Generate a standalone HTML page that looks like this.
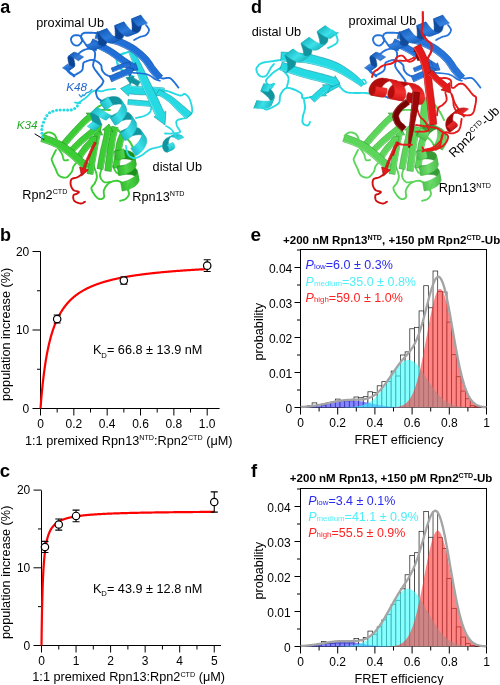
<!DOCTYPE html>
<html><head><meta charset="utf-8"><title>Figure</title>
<style>html,body{margin:0;padding:0;background:#fff;}svg{display:block;}text{font-family:"Liberation Sans", Arial, sans-serif;}</style>
</head><body>
<svg width="500" height="685" viewBox="0 0 500 685">
<rect width="500" height="685" fill="#fff"/>
<path d="M93.2,164.8 L93.5,165.7 L94.0,166.8 L94.5,168.2 L95.1,169.8 L95.7,171.3 L96.2,172.9 L96.6,174.3 L96.8,175.6 L96.8,176.7 L96.8,177.7 L96.6,178.6 L96.3,179.5 L96.0,180.4 L95.7,181.2 L95.3,182.0 L95.0,182.8 L94.6,183.5 L94.1,184.2 L93.5,184.9 L92.9,185.5 L92.3,186.1 L91.8,186.8 L91.5,187.5 L91.4,188.2 L91.5,189.0 L91.8,190.0 L92.2,190.9 L92.7,191.9 L93.3,192.9 L93.9,193.8 L94.5,194.7 L95.0,195.4 L95.5,196.1 L96.1,196.7 L96.6,197.3 L97.2,197.8 L97.8,198.2 L98.4,198.6 L98.9,198.8 L99.5,199.0 L100.1,199.1 L100.7,199.1 L101.4,199.0 L102.0,198.8 L102.6,198.5 L103.2,198.2 L103.7,197.7 L104.0,197.2 L104.2,196.6 L104.2,195.8 L104.1,194.9 L103.9,193.9 L103.8,192.9 L103.7,191.9 L103.8,190.9 L104.0,190.0 L104.4,189.1 L104.9,188.1 L105.5,187.1 L106.1,186.1 L106.9,185.1 L107.7,184.2 L108.5,183.4 L109.4,182.8 L110.4,182.3 L111.4,181.8 L112.6,181.4 L113.7,181.1 L114.9,180.9 L116.1,180.8 L117.2,180.8 L118.3,181.0 L119.3,181.3 L120.3,181.8 L121.3,182.4 L122.2,183.1 L123.1,183.9 L124.0,184.8 L124.8,185.6 L125.5,186.4 L126.2,187.2 L126.8,188.1 L127.4,189.0 L127.9,190.0 L128.4,191.0 L128.7,191.9 L128.9,192.8 L129.0,193.6 L128.9,194.4 L128.7,195.2 L128.3,195.9 L127.8,196.6 L127.3,197.3 L126.7,197.9 L126.1,198.5 L125.5,199.0 L124.9,199.4 L124.1,199.7 L123.3,200.0 L122.5,200.2 L121.7,200.4 L121.0,200.6 L120.4,200.7 L120.0,200.8" fill="none" stroke="#3ccc36" stroke-width="1.9" stroke-linecap="round" stroke-linejoin="round"/><path d="M102.0,168.0 L101.8,168.6 L101.5,169.5 L101.1,170.5 L100.8,171.6 L100.4,172.8 L100.1,174.0 L100.0,175.0 L100.0,176.0 L100.2,176.9 L100.5,177.8 L101.0,178.7 L101.5,179.5 L102.1,180.3 L102.7,181.0 L103.4,181.6 L104.0,182.0 L104.7,182.3 L105.5,182.4 L106.4,182.4 L107.2,182.4 L108.1,182.3 L108.9,182.1 L109.5,182.0 L110.0,182.0" fill="none" stroke="#3ccc36" stroke-width="1.8" stroke-linecap="round" stroke-linejoin="round"/><path d="M113.0,166.0 L113.2,166.5 L113.5,167.2 L113.9,168.0 L114.2,168.9 L114.7,169.8 L115.1,170.6 L115.6,171.4 L116.0,172.0 L116.5,172.5 L116.9,172.9 L117.4,173.2 L117.9,173.5 L118.5,173.7 L119.0,173.9 L119.5,174.0 L120.0,174.0 L120.5,173.9 L121.1,173.7 L121.7,173.5 L122.2,173.1 L122.8,172.8 L123.3,172.5 L123.7,172.2 L124.0,172.0" fill="none" stroke="#3ccc36" stroke-width="1.8" stroke-linecap="round" stroke-linejoin="round"/><polygon points="111.2,171.4 111.4,170.2 111.6,168.5 111.8,166.5 112.1,164.3 112.4,162.0 112.7,159.7 113.0,157.5 113.2,155.4 113.5,153.5 113.7,151.5 113.9,149.6 114.2,147.7 114.4,145.9 114.6,144.0 114.9,142.3 115.2,140.6 115.5,138.8 115.9,137.0 116.3,135.1 116.8,133.3 117.2,131.6 117.6,130.1 117.9,128.8 118.2,127.8 111.8,126.2 111.6,127.2 111.3,128.5 110.9,130.1 110.5,131.8 110.0,133.7 109.6,135.6 109.2,137.5 108.8,139.4 108.5,141.3 108.2,143.1 108.0,145.0 107.7,146.9 107.5,148.8 107.2,150.7 107.0,152.7 106.8,154.6 106.5,156.7 106.2,158.9 105.9,161.2 105.6,163.5 105.4,165.7 105.1,167.7 104.9,169.4 104.8,170.6" fill="#3ccc36" stroke="#1c8f1c" stroke-width="0.6" stroke-linejoin="round"/><polygon points="111.2,171.4 111.4,170.2 111.6,168.5 111.8,166.5 112.1,164.3 112.4,162.0 112.7,159.7 113.0,157.5 113.2,155.4 113.5,153.5 113.7,151.5 113.9,149.6 114.2,147.7 114.4,145.9 114.6,144.0 114.9,142.3 115.2,140.6 115.5,138.8 115.9,137.0 116.3,135.1 116.8,133.3 117.2,131.6 117.6,130.1 117.9,128.8 118.2,127.8 117.4,127.6 117.1,128.6 116.8,129.9 116.4,131.4 116.0,133.1 115.6,135.0 115.1,136.8 114.7,138.7 114.4,140.4 114.1,142.2 113.8,143.9 113.6,145.8 113.4,147.6 113.1,149.5 112.9,151.4 112.7,153.4 112.4,155.3 112.2,157.4 111.9,159.6 111.6,161.9 111.3,164.2 111.0,166.4 110.8,168.4 110.6,170.1 110.4,171.3" fill="#67d762" stroke="none"/><polygon points="119.0,168.4 119.1,167.3 119.3,165.9 119.6,164.1 119.8,162.2 120.1,160.1 120.4,158.1 120.7,156.2 121.0,154.4 121.2,152.8 121.4,151.2 121.6,149.7 121.8,148.2 122.1,146.8 122.3,145.4 122.6,144.1 122.9,142.8 123.3,141.5 123.8,140.2 124.3,138.8 124.9,137.4 125.4,136.1 126.0,135.0 126.4,134.0 126.8,133.2 121.2,130.8 120.9,131.6 120.5,132.5 120.0,133.7 119.4,135.1 118.8,136.5 118.1,138.1 117.6,139.6 117.1,141.2 116.7,142.7 116.4,144.2 116.1,145.8 115.9,147.3 115.7,148.9 115.5,150.4 115.3,152.0 115.0,153.6 114.8,155.3 114.5,157.3 114.2,159.3 113.9,161.3 113.6,163.3 113.4,165.0 113.2,166.5 113.0,167.6" fill="#3ccc36" stroke="#1c8f1c" stroke-width="0.6" stroke-linejoin="round"/><polygon points="119.0,168.4 119.1,167.3 119.3,165.9 119.6,164.1 119.8,162.2 120.1,160.1 120.4,158.1 120.7,156.2 121.0,154.4 121.2,152.8 121.4,151.2 121.6,149.7 121.8,148.2 122.1,146.8 122.3,145.4 122.6,144.1 122.9,142.8 123.3,141.5 123.8,140.2 124.3,138.8 124.9,137.4 125.4,136.1 126.0,135.0 126.4,134.0 126.8,133.2 126.1,132.9 125.7,133.7 125.3,134.7 124.8,135.8 124.2,137.1 123.6,138.5 123.1,139.9 122.6,141.3 122.2,142.6 121.8,143.9 121.6,145.2 121.3,146.6 121.1,148.1 120.9,149.6 120.7,151.1 120.5,152.7 120.2,154.3 120.0,156.1 119.7,158.0 119.4,160.0 119.1,162.1 118.8,164.0 118.6,165.7 118.4,167.2 118.2,168.3" fill="#67d762" stroke="none"/><polygon points="103.0,169.5 103.2,168.3 103.5,166.6 103.9,164.6 104.3,162.4 104.7,160.0 105.1,157.7 105.5,155.5 105.9,153.6 106.3,151.9 106.7,150.3 107.0,148.7 107.4,147.2 107.8,145.7 108.2,144.1 108.6,142.4 108.9,140.6 109.3,138.6 109.8,136.4 110.2,134.1 110.6,131.7 110.7,131.4 113.1,131.9 109.0,124.0 102.4,129.9 104.8,130.3 104.7,130.6 104.3,133.0 103.9,135.3 103.5,137.5 103.1,139.4 102.7,141.1 102.3,142.7 102.0,144.3 101.6,145.8 101.2,147.3 100.8,148.9 100.4,150.6 100.1,152.4 99.7,154.4 99.2,156.6 98.8,158.9 98.4,161.3 98.0,163.5 97.6,165.5 97.3,167.2 97.0,168.5" fill="#3ccc36" stroke="#1c8f1c" stroke-width="0.6" stroke-linejoin="round"/><polygon points="103.0,169.5 103.2,168.3 103.5,166.6 103.9,164.6 104.3,162.4 104.7,160.0 105.1,157.7 105.5,155.5 105.9,153.6 106.3,151.9 106.7,150.3 107.0,148.7 107.4,147.2 107.8,145.7 108.2,144.1 108.6,142.4 108.9,140.6 109.3,138.6 109.8,136.4 110.2,134.1 110.6,131.7 110.7,131.4 110.0,131.3 109.9,131.6 109.5,133.9 109.0,136.3 108.6,138.5 108.2,140.5 107.8,142.2 107.4,143.9 107.1,145.5 106.7,147.0 106.3,148.6 105.9,150.1 105.6,151.7 105.2,153.5 104.8,155.4 104.4,157.6 104.0,159.9 103.5,162.2 103.1,164.4 102.8,166.5 102.4,168.2 102.2,169.4" fill="#67d762" stroke="none"/><polygon points="93.0,174.5 93.2,173.1 93.5,171.2 93.9,169.0 94.3,166.5 94.7,163.9 95.1,161.3 95.6,158.8 96.0,156.5 96.3,154.4 96.7,152.3 97.1,150.3 97.4,148.2 97.8,146.3 98.2,144.3 98.6,142.4 98.9,140.6 99.3,138.8 99.7,136.9 100.2,135.0 100.3,134.5 102.6,135.1 99.0,127.0 92.1,132.6 94.5,133.1 94.3,133.7 93.9,135.6 93.5,137.5 93.1,139.4 92.7,141.3 92.3,143.2 91.9,145.1 91.6,147.1 91.2,149.2 90.8,151.3 90.4,153.4 90.0,155.5 89.6,157.8 89.2,160.3 88.8,162.9 88.4,165.5 87.9,168.0 87.6,170.2 87.3,172.1 87.0,173.5" fill="#3ccc36" stroke="#1c8f1c" stroke-width="0.6" stroke-linejoin="round"/><polygon points="93.0,174.5 93.2,173.1 93.5,171.2 93.9,169.0 94.3,166.5 94.7,163.9 95.1,161.3 95.6,158.8 96.0,156.5 96.3,154.4 96.7,152.3 97.1,150.3 97.4,148.2 97.8,146.3 98.2,144.3 98.6,142.4 98.9,140.6 99.3,138.8 99.7,136.9 100.2,135.0 100.3,134.5 99.6,134.3 99.4,134.8 99.0,136.7 98.6,138.6 98.2,140.5 97.8,142.3 97.5,144.2 97.1,146.1 96.7,148.1 96.3,150.1 96.0,152.2 95.6,154.3 95.2,156.4 94.8,158.7 94.4,161.2 94.0,163.8 93.5,166.4 93.1,168.8 92.8,171.1 92.5,173.0 92.2,174.4" fill="#67d762" stroke="none"/><defs><linearGradient id="hg1" gradientUnits="userSpaceOnUse" x1="134.3" y1="148.2" x2="113.7" y2="151.8"><stop offset="0" stop-color="#2eb12a"/><stop offset="0.55" stop-color="#4ed548"/><stop offset="1" stop-color="#2eb12a"/></linearGradient></defs><polygon points="116.1,159.9 116.2,159.8 116.4,159.7 116.8,159.5 117.4,159.4 118.1,159.2 118.9,159.1 119.8,159.0 120.9,158.9 122.0,158.9 123.2,158.8 124.5,158.9 125.8,159.0 127.0,159.1 128.3,159.3 129.6,159.6 130.7,159.9 131.9,160.3 132.9,160.7 133.8,161.2 134.6,161.8 135.2,162.4 135.7,163.1 136.0,163.8 136.2,164.5 134.6,155.7 134.5,154.9 134.1,154.2 133.6,153.6 133.0,152.9 132.2,152.4 131.3,151.9 130.3,151.4 129.2,151.0 128.0,150.7 126.8,150.4 125.5,150.2 124.2,150.1 122.9,150.0 121.7,150.0 120.4,150.0 119.3,150.0 118.3,150.1 117.3,150.2 116.5,150.4 115.8,150.5 115.3,150.7 114.9,150.8 114.6,151.0 114.5,151.1" fill="#1c8f1c" stroke="#1c8f1c" stroke-width="0.5" stroke-linejoin="round"/><polygon points="118.8,175.4 119.0,175.2 119.2,175.1 119.7,175.0 120.3,174.8 121.0,174.7 121.9,174.5 122.8,174.4 123.9,174.3 125.1,174.3 126.3,174.3 127.5,174.4 128.8,174.5 130.1,174.6 131.4,174.8 132.6,175.1 133.8,175.5 134.9,175.9 135.9,176.3 136.7,176.8 137.5,177.4 138.1,178.1 138.5,178.7 138.8,179.4 139.0,180.2 137.4,171.3 137.3,170.6 137.0,169.9 136.5,169.2 135.9,168.6 135.2,168.0 134.3,167.5 133.3,167.0 132.2,166.6 131.1,166.2 129.8,166.0 128.6,165.7 127.3,165.6 126.0,165.5 124.7,165.4 123.5,165.4 122.3,165.5 121.3,165.6 120.3,165.7 119.4,165.8 118.7,165.9 118.1,166.1 117.7,166.2 117.4,166.4 117.3,166.5" fill="#1c8f1c" stroke="#1c8f1c" stroke-width="0.5" stroke-linejoin="round"/><polygon points="125.3,157.6 124.2,158.2 123.0,158.6 121.9,159.0 120.8,159.3 119.8,159.6 118.9,159.8 118.1,160.0 117.4,160.0 116.8,160.1 116.4,160.1 116.2,160.0 116.1,159.9 114.5,151.1 114.6,151.2 114.9,151.2 115.3,151.2 115.8,151.2 116.5,151.1 117.3,150.9 118.2,150.7 119.2,150.5 120.3,150.1 121.4,149.7 122.6,149.3 123.8,148.8" fill="url(#hg1)" stroke="#2eb12a" stroke-width="0.5" stroke-linejoin="round"/><polygon points="136.2,164.5 136.2,165.3 136.1,166.1 135.8,166.9 135.3,167.7 134.7,168.5 134.0,169.2 133.2,170.0 132.2,170.7 131.2,171.4 130.1,172.1 128.9,172.7 127.8,173.2 126.6,173.7 125.4,174.2 124.3,174.6 123.2,174.9 122.3,175.1 121.4,175.3 120.6,175.4 120.0,175.5 119.4,175.5 119.1,175.5 118.9,175.5 118.8,175.4 117.3,166.5 117.3,166.6 117.5,166.7 117.9,166.7 118.4,166.7 119.0,166.6 119.8,166.4 120.7,166.3 121.7,166.0 122.7,165.7 123.9,165.3 125.0,164.9 126.2,164.4 127.4,163.8 128.5,163.2 129.6,162.6 130.6,161.9 131.6,161.1 132.4,160.4 133.2,159.6 133.8,158.8 134.2,158.0 134.5,157.2 134.7,156.4 134.6,155.7" fill="url(#hg1)" stroke="#2eb12a" stroke-width="0.5" stroke-linejoin="round"/><polygon points="139.0,180.2 138.9,181.0 138.7,181.7 138.4,182.5 137.9,183.3 137.3,184.1 136.5,184.9 135.6,185.7 134.7,186.4 133.6,187.1 132.5,187.7 131.3,188.3 130.2,188.8 129.0,189.3 127.8,189.7 126.7,190.1 125.7,190.4 124.7,190.6 123.9,190.8 123.1,190.9 122.5,191.0 122.1,191.0 120.5,182.1 121.0,182.1 121.6,182.1 122.3,181.9 123.2,181.8 124.1,181.5 125.2,181.2 126.3,180.9 127.4,180.5 128.6,180.0 129.8,179.4 130.9,178.8 132.0,178.2 133.1,177.5 134.1,176.8 134.9,176.0 135.7,175.3 136.3,174.5 136.8,173.7 137.2,172.9 137.4,172.1 137.4,171.3" fill="url(#hg1)" stroke="#2eb12a" stroke-width="0.5" stroke-linejoin="round"/><path d="M130.0,184.0 L128.0,190.0" fill="none" stroke="#3ccc36" stroke-width="2" stroke-linecap="round" stroke-linejoin="round"/><path d="M118.0,130.0 L118.5,130.5 L119.1,131.1 L119.8,131.8 L120.6,132.6 L121.5,133.5 L122.4,134.4 L123.2,135.2 L124.0,136.0 L124.8,136.7 L125.5,137.5 L126.3,138.2 L127.1,138.9 L127.9,139.6 L128.6,140.4 L129.3,141.2 L130.0,142.0 L130.6,143.0 L131.2,144.0 L131.8,145.2 L132.4,146.4 L132.9,147.5 L133.3,148.5 L133.7,149.4 L134.0,150.0" fill="none" stroke="#3ccc36" stroke-width="2" stroke-linecap="round" stroke-linejoin="round"/><polygon points="79.5,161.7 80.0,160.9 80.8,159.8 81.6,158.5 82.6,157.1 83.6,155.7 84.6,154.3 85.5,152.9 86.4,151.8 87.1,150.8 87.9,149.9 88.6,149.1 89.3,148.3 90.0,147.5 90.7,146.7 91.4,145.9 92.2,145.1 93.0,144.2 94.0,143.2 94.1,143.0 95.8,144.8 97.0,136.0 88.2,137.1 89.9,138.8 89.7,139.0 88.7,140.0 87.8,140.9 87.0,141.8 86.2,142.7 85.5,143.5 84.7,144.3 84.0,145.2 83.2,146.1 82.4,147.1 81.6,148.2 80.7,149.4 79.7,150.8 78.7,152.3 77.7,153.7 76.7,155.2 75.8,156.4 75.1,157.5 74.5,158.3" fill="#3ccc36" stroke="#1c8f1c" stroke-width="0.6" stroke-linejoin="round"/><polygon points="79.5,161.7 80.0,160.9 80.8,159.8 81.6,158.5 82.6,157.1 83.6,155.7 84.6,154.3 85.5,152.9 86.4,151.8 87.1,150.8 87.9,149.9 88.6,149.1 89.3,148.3 90.0,147.5 90.7,146.7 91.4,145.9 92.2,145.1 93.0,144.2 94.0,143.2 94.1,143.0 93.6,142.5 93.5,142.7 92.5,143.6 91.6,144.5 90.9,145.4 90.1,146.2 89.4,147.0 88.7,147.8 88.0,148.6 87.3,149.5 86.6,150.4 85.8,151.4 84.9,152.5 84.0,153.8 83.0,155.3 82.0,156.7 81.0,158.1 80.1,159.4 79.4,160.5 78.9,161.3" fill="#67d762" stroke="none"/><polygon points="72.1,154.1 72.6,153.6 73.2,153.0 73.9,152.3 74.7,151.5 75.6,150.6 76.4,149.8 77.3,148.9 78.1,148.1 78.8,147.4 79.6,146.7 80.3,146.0 81.0,145.3 81.8,144.6 82.6,143.9 83.4,143.1 84.4,142.3 85.4,141.4 86.5,140.4 87.7,139.4 88.9,138.4 90.1,137.4 91.4,136.4 92.7,135.3 93.9,134.3 95.2,133.3 96.6,132.2 98.0,131.0 98.4,130.7 99.9,132.6 102.0,124.0 93.2,124.1 94.7,126.0 94.3,126.3 92.8,127.5 91.4,128.6 90.1,129.7 88.9,130.7 87.6,131.7 86.3,132.8 85.1,133.8 83.8,134.8 82.6,135.9 81.5,136.8 80.4,137.7 79.4,138.6 78.5,139.4 77.7,140.2 76.9,140.9 76.2,141.7 75.4,142.4 74.7,143.1 73.9,143.9 73.1,144.7 72.2,145.5 71.3,146.4 70.5,147.3 69.7,148.1 68.9,148.8 68.3,149.4 67.9,149.9" fill="#3ccc36" stroke="#1c8f1c" stroke-width="0.6" stroke-linejoin="round"/><polygon points="72.1,154.1 72.6,153.6 73.2,153.0 73.9,152.3 74.7,151.5 75.6,150.6 76.4,149.8 77.3,148.9 78.1,148.1 78.8,147.4 79.6,146.7 80.3,146.0 81.0,145.3 81.8,144.6 82.6,143.9 83.4,143.1 84.4,142.3 85.4,141.4 86.5,140.4 87.7,139.4 88.9,138.4 90.1,137.4 91.4,136.4 92.7,135.3 93.9,134.3 95.2,133.3 96.6,132.2 98.0,131.0 98.4,130.7 97.9,130.1 97.6,130.4 96.1,131.6 94.7,132.7 93.4,133.7 92.2,134.8 90.9,135.8 89.7,136.8 88.4,137.9 87.2,138.9 86.0,139.9 84.9,140.8 83.9,141.7 82.9,142.5 82.1,143.3 81.3,144.0 80.5,144.8 79.8,145.5 79.1,146.2 78.3,146.9 77.6,147.6 76.8,148.4 75.9,149.2 75.0,150.1 74.2,151.0 73.4,151.8 72.7,152.5 72.1,153.1 71.6,153.6" fill="#67d762" stroke="none"/><polygon points="66.3,145.9 66.7,145.4 67.4,144.7 68.1,143.8 68.9,142.9 69.8,141.9 70.6,140.8 71.5,139.9 72.3,139.0 73.0,138.2 73.7,137.4 74.4,136.6 75.1,135.8 75.8,135.0 76.6,134.2 77.4,133.3 78.2,132.4 79.1,131.5 80.1,130.4 81.2,129.3 82.2,128.1 83.3,127.0 84.3,125.9 85.3,125.0 86.1,124.1 86.8,123.4 87.5,122.8 88.0,122.3 88.6,121.8 89.1,121.4 89.7,120.9 90.2,120.5 90.9,119.9 91.3,119.6 92.7,121.5 95.0,113.0 86.2,113.0 87.6,114.9 87.1,115.3 86.5,115.8 85.8,116.3 85.3,116.8 84.7,117.3 84.1,117.8 83.4,118.4 82.7,119.1 81.9,119.9 81.0,120.8 80.0,121.8 79.0,122.9 77.9,124.0 76.8,125.2 75.7,126.3 74.7,127.4 73.8,128.4 73.0,129.3 72.2,130.1 71.4,131.0 70.7,131.8 69.9,132.6 69.2,133.4 68.5,134.2 67.7,135.0 66.9,135.9 66.1,136.9 65.2,138.0 64.3,139.0 63.5,139.9 62.8,140.8 62.2,141.5 61.7,142.1" fill="#3ccc36" stroke="#1c8f1c" stroke-width="0.6" stroke-linejoin="round"/><polygon points="66.3,145.9 66.7,145.4 67.4,144.7 68.1,143.8 68.9,142.9 69.8,141.9 70.6,140.8 71.5,139.9 72.3,139.0 73.0,138.2 73.7,137.4 74.4,136.6 75.1,135.8 75.8,135.0 76.6,134.2 77.4,133.3 78.2,132.4 79.1,131.5 80.1,130.4 81.2,129.3 82.2,128.1 83.3,127.0 84.3,125.9 85.3,125.0 86.1,124.1 86.8,123.4 87.5,122.8 88.0,122.3 88.6,121.8 89.1,121.4 89.7,120.9 90.2,120.5 90.9,119.9 91.3,119.6 90.8,119.0 90.4,119.3 89.8,119.9 89.2,120.4 88.6,120.8 88.1,121.3 87.5,121.7 87.0,122.3 86.3,122.9 85.6,123.6 84.7,124.5 83.8,125.4 82.8,126.5 81.7,127.6 80.6,128.7 79.6,129.9 78.6,130.9 77.6,131.9 76.8,132.8 76.0,133.7 75.3,134.5 74.5,135.3 73.8,136.1 73.1,136.9 72.4,137.7 71.7,138.5 70.9,139.4 70.1,140.4 69.2,141.4 68.3,142.4 67.5,143.3 66.8,144.2 66.2,144.9 65.7,145.5" fill="#67d762" stroke="none"/><path d="M92.0,113.0 L92.4,112.5 L93.0,111.9 L93.7,111.1 L94.5,110.2 L95.3,109.4 L96.2,108.5 L97.1,107.7 L98.0,107.0 L98.9,106.4 L99.9,105.8 L100.9,105.3 L101.9,104.8 L102.9,104.3 L104.0,103.8 L105.0,103.4 L106.0,103.0 L107.0,102.6 L108.0,102.3 L109.1,102.0 L110.1,101.7 L111.1,101.4 L112.1,101.2 L113.1,101.1 L114.0,101.0 L114.9,101.0 L115.8,101.1 L116.7,101.2 L117.5,101.4 L118.3,101.6 L119.0,101.8 L119.6,101.9 L120.0,102.0" fill="none" stroke="#3ccc36" stroke-width="2" stroke-linecap="round" stroke-linejoin="round"/><path d="M95.0,112.0 L95.5,111.8 L96.2,111.6 L97.1,111.3 L98.0,111.0 L99.0,110.7 L100.0,110.4 L101.0,110.2 L102.0,110.0 L103.0,109.9 L104.1,109.9 L105.3,109.9 L106.4,109.9 L107.5,109.9 L108.5,110.0 L109.4,110.0 L110.0,110.0" fill="none" stroke="#3ccc36" stroke-width="1.8" stroke-linecap="round" stroke-linejoin="round"/><path d="M56.0,150.0 L55.8,150.5 L55.4,151.1 L55.0,151.9 L54.6,152.8 L54.1,153.6 L53.7,154.5 L53.3,155.3 L53.0,156.0 L52.7,156.6 L52.5,157.0 L52.2,157.5 L52.0,157.8 L51.8,158.3 L51.7,158.7 L51.7,159.3 L51.8,160.0 L52.0,160.8 L52.4,161.8 L52.8,162.9 L53.3,164.0 L53.8,165.1 L54.4,166.3 L54.9,167.4 L55.4,168.4 L55.8,169.4 L56.2,170.4 L56.6,171.4 L57.0,172.4 L57.4,173.3 L57.8,174.2 L58.4,175.0 L59.0,175.6 L59.7,176.1 L60.6,176.6 L61.5,177.0 L62.5,177.3 L63.5,177.5 L64.4,177.6 L65.4,177.6 L66.2,177.4 L67.0,177.1 L67.8,176.6 L68.5,175.9 L69.2,175.2 L69.9,174.3 L70.5,173.5 L71.1,172.7 L71.6,172.0 L72.0,171.3 L72.3,170.6 L72.5,169.9 L72.7,169.2 L72.8,168.5 L73.0,167.8 L73.2,167.2 L73.4,166.6 L73.7,166.0 L74.1,165.5 L74.4,165.0 L74.8,164.5 L75.2,164.0 L75.5,163.6 L75.8,163.3 L76.0,163.0" fill="none" stroke="#3ccc36" stroke-width="1.9" stroke-linecap="round" stroke-linejoin="round"/><path d="M58.0,148.0 L58.3,148.5 L58.8,149.1 L59.3,149.8 L59.9,150.6 L60.5,151.5 L61.0,152.4 L61.6,153.2 L62.0,154.0 L62.3,154.8 L62.6,155.6 L62.8,156.5 L63.0,157.4 L63.2,158.2 L63.4,158.9 L63.7,159.5 L64.0,160.0 L64.4,160.3 L65.0,160.4 L65.5,160.4 L66.1,160.4 L66.7,160.3 L67.2,160.1 L67.7,160.0 L68.0,160.0" fill="none" stroke="#3ccc36" stroke-width="1.8" stroke-linecap="round" stroke-linejoin="round"/><polygon points="40.8,141.6 41.6,141.8 42.6,142.2 43.9,142.6 45.2,143.0 46.6,143.5 48.0,144.0 49.3,144.5 50.6,145.0 51.8,145.5 53.0,146.0 54.2,146.6 55.4,147.1 56.5,147.7 57.7,148.3 58.9,149.0 60.0,149.7 61.2,150.4 62.4,151.3 63.6,152.2 64.8,153.1 66.1,154.1 67.3,155.0 68.5,156.0 69.6,156.9 70.7,157.8 71.7,158.6 72.7,159.5 73.7,160.4 74.7,161.2 75.6,162.1 76.5,162.9 77.5,163.8 78.4,164.6 79.4,165.6 80.5,166.5 81.4,167.4 82.4,168.3 83.2,169.1 83.9,169.7 84.4,170.2 89.6,164.8 89.0,164.3 88.3,163.6 87.5,162.8 86.6,161.9 85.6,161.0 84.5,160.1 83.5,159.1 82.5,158.2 81.6,157.4 80.6,156.5 79.7,155.6 78.7,154.8 77.7,153.9 76.6,152.9 75.5,152.0 74.4,151.1 73.2,150.1 72.0,149.2 70.7,148.2 69.4,147.1 68.1,146.1 66.7,145.2 65.4,144.2 64.0,143.3 62.6,142.5 61.3,141.8 60.0,141.0 58.6,140.4 57.3,139.8 56.0,139.2 54.7,138.6 53.4,138.0 52.0,137.5 50.5,136.9 49.0,136.4 47.6,135.9 46.2,135.4 45.0,135.0 43.9,134.7 43.2,134.4" fill="#3ccc36" stroke="#1c8f1c" stroke-width="0.6" stroke-linejoin="round"/><polygon points="40.8,141.6 41.6,141.8 42.6,142.2 43.9,142.6 45.2,143.0 46.6,143.5 48.0,144.0 49.3,144.5 50.6,145.0 51.8,145.5 53.0,146.0 54.2,146.6 55.4,147.1 56.5,147.7 57.7,148.3 58.9,149.0 60.0,149.7 61.2,150.4 62.4,151.3 63.6,152.2 64.8,153.1 66.1,154.1 67.3,155.0 68.5,156.0 69.6,156.9 70.7,157.8 71.7,158.6 72.7,159.5 73.7,160.4 74.7,161.2 75.6,162.1 76.5,162.9 77.5,163.8 78.4,164.6 79.4,165.6 80.5,166.5 81.4,167.4 82.4,168.3 83.2,169.1 83.9,169.7 84.4,170.2 85.1,169.6 84.5,169.1 83.8,168.4 83.0,167.6 82.1,166.7 81.1,165.8 80.1,164.9 79.1,164.0 78.1,163.1 77.2,162.2 76.2,161.4 75.3,160.5 74.3,159.7 73.3,158.8 72.3,157.9 71.3,157.1 70.2,156.2 69.1,155.3 67.9,154.3 66.7,153.3 65.4,152.4 64.2,151.4 62.9,150.5 61.7,149.7 60.5,148.9 59.3,148.2 58.1,147.5 57.0,146.9 55.8,146.3 54.6,145.7 53.4,145.2 52.1,144.6 50.9,144.1 49.7,143.6 48.3,143.1 46.9,142.6 45.5,142.1 44.1,141.7 42.9,141.3 41.9,140.9 41.1,140.7" fill="#67d762" stroke="none"/><path d="M42.5,136.0 L42.8,135.8 L43.1,135.4 L43.5,135.0 L44.0,134.5 L44.5,134.1 L45.0,133.6 L45.5,133.3 L46.0,133.0 L46.5,132.8 L46.9,132.6 L47.4,132.5 L47.9,132.4 L48.4,132.4 L48.9,132.4 L49.5,132.4 L50.0,132.5 L50.6,132.7 L51.2,132.9 L51.8,133.1 L52.5,133.4 L53.1,133.7 L53.7,134.1 L54.2,134.5 L54.7,135.0 L55.1,135.5 L55.5,136.2 L55.8,136.9 L56.0,137.7 L56.3,138.4 L56.5,139.0 L56.7,139.6 L56.8,140.0" fill="none" stroke="#3ccc36" stroke-width="1.9" stroke-linecap="round" stroke-linejoin="round"/><polygon points="94.2,141.9 93.8,142.7 93.3,143.8 92.8,145.0 92.1,146.4 91.4,147.9 90.7,149.4 90.0,150.9 89.4,152.4 88.8,153.7 88.2,155.1 87.6,156.5 86.9,157.9 86.3,159.3 85.7,160.7 85.1,162.1 84.6,163.6 84.0,165.2 83.4,166.9 83.0,168.1 79.6,167.0 81.5,176.0 88.4,169.9 85.1,168.8 85.5,167.6 86.1,165.9 86.6,164.4 87.2,163.0 87.8,161.5 88.4,160.1 89.0,158.7 89.6,157.4 90.2,156.0 90.8,154.6 91.4,153.2 92.0,151.8 92.7,150.4 93.4,148.8 94.1,147.4 94.7,146.0 95.3,144.7 95.8,143.7 96.2,142.9" fill="#e51a1a" stroke="#9c0808" stroke-width="0.6" stroke-linejoin="round"/><polygon points="94.2,141.9 93.8,142.7 93.3,143.8 92.8,145.0 92.1,146.4 91.4,147.9 90.7,149.4 90.0,150.9 89.4,152.4 88.8,153.7 88.2,155.1 87.6,156.5 86.9,157.9 86.3,159.3 85.7,160.7 85.1,162.1 84.6,163.6 84.0,165.2 83.4,166.9 83.0,168.1 83.2,168.1 83.7,167.0 84.3,165.3 84.8,163.7 85.4,162.2 86.0,160.8 86.6,159.4 87.2,158.0 87.8,156.6 88.4,155.2 89.0,153.8 89.6,152.5 90.3,151.1 91.0,149.6 91.7,148.0 92.4,146.6 93.0,145.2 93.6,143.9 94.1,142.8 94.5,142.1" fill="#eb4c4c" stroke="none"/><path d="M82.4,174.0 L82.0,174.3 L81.4,174.6 L80.8,175.1 L80.0,175.6 L79.3,176.1 L78.5,176.6 L77.7,177.0 L77.0,177.4 L76.3,177.7 L75.5,177.9 L74.8,178.0 L74.0,178.2 L73.3,178.3 L72.6,178.5 L72.1,178.8 L71.6,179.2 L71.2,179.7 L71.0,180.3 L70.8,181.0 L70.6,181.7 L70.6,182.4 L70.6,183.2 L70.6,183.9 L70.7,184.6 L70.8,185.3 L71.1,186.0 L71.3,186.8 L71.7,187.5 L72.0,188.2 L72.5,188.9 L72.9,189.5 L73.4,190.0 L74.0,190.4 L74.7,190.7 L75.5,190.9 L76.4,191.1 L77.2,191.3 L77.9,191.4 L78.5,191.6 L78.8,191.8 L78.9,192.0 L78.9,192.2 L78.7,192.5 L78.5,192.7 L78.1,192.9 L77.7,193.2 L77.4,193.4 L77.0,193.6 L76.6,193.8 L76.1,194.0 L75.6,194.1 L75.0,194.3 L74.5,194.5 L74.0,194.7 L73.6,195.0 L73.4,195.4 L73.3,195.9 L73.2,196.6 L73.2,197.3 L73.2,198.0 L73.4,198.8 L73.6,199.6 L73.9,200.2 L74.3,200.8 L74.8,201.3 L75.5,201.8 L76.4,202.2 L77.2,202.6 L78.1,202.9 L79.0,203.2 L79.9,203.4 L80.6,203.5 L81.3,203.5 L81.9,203.3 L82.6,203.1 L83.2,202.8 L83.8,202.4 L84.3,202.1 L84.7,201.9 L85.0,201.7" fill="none" stroke="#d01010" stroke-width="1.9" stroke-linecap="round" stroke-linejoin="round"/><path d="M35.0,134.0 L44.0,139.5" fill="none" stroke="#000" stroke-width="1.0" stroke-linecap="round" stroke-linejoin="round"/><circle cx="42.5" cy="137.0" r="1.55" fill="#26dae4"/><circle cx="42.0" cy="133.3" r="1.55" fill="#26dae4"/><circle cx="41.8" cy="129.5" r="1.55" fill="#26dae4"/><circle cx="42.2" cy="126.0" r="1.55" fill="#26dae4"/><circle cx="43.5" cy="122.2" r="1.55" fill="#26dae4"/><circle cx="45.0" cy="118.8" r="1.55" fill="#26dae4"/><circle cx="46.9" cy="115.6" r="1.55" fill="#26dae4"/><circle cx="49.5" cy="112.8" r="1.55" fill="#26dae4"/><circle cx="52.9" cy="111.2" r="1.55" fill="#26dae4"/><circle cx="56.6" cy="110.3" r="1.55" fill="#26dae4"/><circle cx="60.2" cy="110.0" r="1.55" fill="#26dae4"/><circle cx="63.9" cy="110.0" r="1.55" fill="#26dae4"/><circle cx="67.6" cy="110.1" r="1.55" fill="#26dae4"/><circle cx="71.3" cy="109.9" r="1.55" fill="#26dae4"/><circle cx="74.6" cy="108.5" r="1.55" fill="#26dae4"/><circle cx="77.4" cy="105.9" r="1.55" fill="#26dae4"/><circle cx="79.5" cy="102.8" r="1.55" fill="#26dae4"/><path d="M79.0,103.0 L79.2,102.8 L79.4,102.6 L79.7,102.4 L80.0,102.1 L80.3,101.8 L80.6,101.5 L81.0,101.3 L81.3,101.0 L81.6,100.8 L81.9,100.5 L82.3,100.3 L82.6,100.0 L83.0,99.8 L83.3,99.6 L83.7,99.3 L84.1,99.0 L84.5,98.7 L84.9,98.4 L85.3,98.1 L85.8,97.7 L86.2,97.4 L86.7,97.0 L87.1,96.6 L87.6,96.2 L88.1,95.7 L88.6,95.2 L89.1,94.6 L89.7,94.0 L90.2,93.4 L90.7,92.9 L91.3,92.4 L91.8,92.0 L92.3,91.7 L92.8,91.4 L93.3,91.2 L93.8,91.0 L94.3,90.8 L94.9,90.7 L95.4,90.7 L96.0,90.6 L96.6,90.6 L97.3,90.7 L98.0,90.8 L98.8,90.9 L99.5,91.1 L100.2,91.2 L100.9,91.3 L101.6,91.3 L102.2,91.2 L102.8,91.1 L103.3,90.9 L103.9,90.7 L104.4,90.5 L105.0,90.3 L105.7,90.1 L106.5,89.9 L107.5,89.7 L108.6,89.6 L109.9,89.4 L111.2,89.3 L112.4,89.1 L113.5,89.0 L114.5,88.9 L115.2,88.8" fill="none" stroke="#26dae4" stroke-width="1.8" stroke-linecap="round" stroke-linejoin="round"/><path d="M79.2,94.8 L79.4,95.0 L79.6,95.3 L79.9,95.6 L80.2,96.0 L80.5,96.3 L80.8,96.6 L81.1,96.8 L81.3,96.9 L81.5,96.8 L81.7,96.6 L81.9,96.3 L82.0,95.9 L82.2,95.6 L82.4,95.2 L82.5,95.0 L82.7,94.8 L82.9,94.8 L83.0,94.9 L83.2,95.0 L83.4,95.2 L83.5,95.3 L83.7,95.5 L83.9,95.5 L84.1,95.5 L84.3,95.3 L84.6,95.1 L84.8,94.7 L85.1,94.4 L85.3,94.0 L85.6,93.6 L85.9,93.3 L86.2,93.0 L86.5,92.8 L86.9,92.7 L87.2,92.6 L87.6,92.5 L87.9,92.4 L88.3,92.3 L88.6,92.2 L89.0,92.0 L89.4,91.7 L89.8,91.4 L90.2,91.1 L90.6,90.7 L91.0,90.3 L91.3,90.0 L91.6,89.7 L91.8,89.5" fill="none" stroke="#2a9ad8" stroke-width="1.3" stroke-linecap="round" stroke-linejoin="round"/><path d="M75.0,102.5 L75.4,102.6 L75.9,102.6 L76.5,102.8 L77.1,102.9 L77.8,103.0 L78.4,103.1 L78.9,103.2 L79.2,103.2 L79.4,103.2 L79.5,103.2 L79.4,103.2 L79.4,103.1 L79.3,103.1 L79.1,103.1 L79.0,103.0 L79.0,103.0" fill="none" stroke="#26dae4" stroke-width="1.8" stroke-linecap="round" stroke-linejoin="round"/><defs><linearGradient id="hg2" gradientUnits="userSpaceOnUse" x1="84.3" y1="117.3" x2="95.7" y2="130.7"><stop offset="0" stop-color="#1dbac4"/><stop offset="0.55" stop-color="#3ce1ea"/><stop offset="1" stop-color="#1dbac4"/></linearGradient></defs><polygon points="101.0,125.1 101.2,124.8 101.3,124.4 101.3,124.0 101.2,123.4 101.1,122.7 100.9,122.0 100.6,121.1 100.2,120.2 99.9,119.3 99.4,118.3 99.0,117.3 98.6,116.3 98.1,115.3 97.7,114.3 97.3,113.3 96.9,112.4 96.6,111.6 96.4,110.8 96.2,110.1 96.1,109.4 96.1,108.9 96.1,108.5 96.3,108.1 96.5,107.9 90.8,112.8 90.6,113.0 90.4,113.3 90.4,113.8 90.4,114.3 90.5,114.9 90.7,115.7 90.9,116.4 91.3,117.3 91.6,118.2 92.0,119.2 92.4,120.2 92.9,121.2 93.3,122.2 93.8,123.2 94.2,124.2 94.5,125.1 94.9,126.0 95.2,126.8 95.4,127.6 95.5,128.3 95.6,128.8 95.6,129.3 95.5,129.7 95.3,130.0" fill="#12949e" stroke="#12949e" stroke-width="0.5" stroke-linejoin="round"/><polygon points="92.8,121.6 93.8,122.2 94.7,122.7 95.6,123.3 96.5,123.8 97.3,124.2 98.0,124.6 98.7,124.9 99.3,125.2 99.9,125.3 100.4,125.3 100.7,125.3 101.0,125.1 95.3,130.0 95.0,130.2 94.7,130.2 94.2,130.2 93.7,130.0 93.0,129.8 92.3,129.5 91.6,129.1 90.8,128.7 89.9,128.2 89.0,127.6 88.1,127.0 87.2,126.4" fill="url(#hg2)" stroke="#1dbac4" stroke-width="0.5" stroke-linejoin="round"/><polygon points="96.5,107.9 96.8,107.8 97.2,107.8 97.7,107.9 98.3,108.1 99.0,108.3 99.7,108.7 100.5,109.1 101.3,109.6 102.2,110.1 103.1,110.7 104.0,111.3 105.0,111.9 105.9,112.4 106.8,113.0 107.7,113.5 108.5,114.0 109.3,114.4 110.1,114.8 110.7,115.1 111.3,115.2 111.8,115.3 106.1,120.2 105.6,120.1 105.0,119.9 104.4,119.7 103.6,119.3 102.8,118.9 102.0,118.4 101.1,117.9 100.2,117.3 99.3,116.7 98.4,116.1 97.4,115.6 96.5,115.0 95.6,114.5 94.8,114.0 94.0,113.6 93.3,113.2 92.6,112.9 92.0,112.8 91.5,112.7 91.1,112.7 90.8,112.8" fill="url(#hg2)" stroke="#1dbac4" stroke-width="0.5" stroke-linejoin="round"/><defs><linearGradient id="hg3" gradientUnits="userSpaceOnUse" x1="116.7" y1="91.3" x2="99.3" y2="102.7"><stop offset="0" stop-color="#1dbac4"/><stop offset="0.55" stop-color="#3ce1ea"/><stop offset="1" stop-color="#1dbac4"/></linearGradient></defs><polygon points="105.0,109.8 105.0,109.6 105.1,109.3 105.4,109.0 105.8,108.6 106.4,108.2 107.0,107.7 107.8,107.2 108.8,106.7 109.8,106.2 110.9,105.7 112.1,105.3 113.3,104.9 114.6,104.6 115.9,104.4 117.2,104.2 118.5,104.1 119.7,104.1 120.9,104.2 122.0,104.5 123.0,104.8 123.9,105.2 124.7,105.8 125.4,106.4 126.0,107.2 121.1,99.6 120.5,98.9 119.8,98.2 119.0,97.7 118.1,97.3 117.1,96.9 116.0,96.7 114.8,96.6 113.5,96.6 112.3,96.6 111.0,96.8 109.7,97.1 108.4,97.4 107.2,97.8 106.0,98.2 104.9,98.7 103.8,99.2 102.9,99.7 102.1,100.2 101.4,100.6 100.9,101.1 100.5,101.5 100.2,101.8 100.1,102.1 100.1,102.2" fill="#12949e" stroke="#12949e" stroke-width="0.5" stroke-linejoin="round"/><polygon points="115.0,125.1 115.0,124.9 115.2,124.6 115.5,124.2 115.9,123.8 116.5,123.4 117.2,122.9 118.0,122.4 119.0,121.9 120.0,121.4 121.1,121.0 122.3,120.6 123.6,120.2 124.8,119.9 126.1,119.6 127.4,119.5 128.7,119.4 129.9,119.4 131.1,119.6 132.2,119.8 133.2,120.2 134.1,120.6 134.9,121.2 135.5,121.9 136.1,122.6 131.2,115.1 130.6,114.3 130.0,113.7 129.2,113.1 128.3,112.6 127.3,112.3 126.2,112.0 125.0,111.9 123.8,111.9 122.5,111.9 121.2,112.1 119.9,112.3 118.6,112.6 117.4,113.0 116.2,113.4 115.1,113.9 114.0,114.4 113.1,114.9 112.3,115.4 111.6,115.9 111.0,116.3 110.5,116.7 110.2,117.1 110.1,117.3 110.1,117.5" fill="#12949e" stroke="#12949e" stroke-width="0.5" stroke-linejoin="round"/><polygon points="125.0,140.4 125.0,140.1 125.2,139.8 125.5,139.5 126.0,139.1 126.6,138.6 127.3,138.1 128.2,137.6 129.1,137.1 130.2,136.7 131.3,136.2 132.5,135.8 133.8,135.4 135.1,135.1 136.4,134.9 137.7,134.8 138.9,134.7 140.1,134.8 141.3,134.9 142.4,135.2 143.4,135.6 144.3,136.1 145.0,136.6 145.7,137.3 146.2,138.1 141.2,130.6 140.7,129.8 140.1,129.1 139.3,128.5 138.4,128.0 137.5,127.7 136.4,127.4 135.2,127.2 134.0,127.2 132.7,127.2 131.4,127.4 130.2,127.6 128.9,127.9 127.6,128.3 126.4,128.7 125.3,129.1 124.2,129.6 123.3,130.1 122.4,130.6 121.7,131.1 121.1,131.5 120.6,132.0 120.3,132.3 120.1,132.6 120.1,132.8" fill="#12949e" stroke="#12949e" stroke-width="0.5" stroke-linejoin="round"/><polygon points="112.7,104.2 111.9,105.2 111.0,106.1 110.1,106.9 109.3,107.6 108.4,108.3 107.7,108.8 107.0,109.2 106.4,109.6 105.8,109.8 105.4,109.9 105.2,109.9 105.0,109.8 100.1,102.2 100.2,102.3 100.5,102.3 100.9,102.2 101.4,102.0 102.0,101.7 102.7,101.3 103.5,100.7 104.3,100.1 105.2,99.4 106.1,98.6 106.9,97.7 107.8,96.7" fill="url(#hg3)" stroke="#1dbac4" stroke-width="0.5" stroke-linejoin="round"/><polygon points="126.0,107.2 126.4,108.0 126.7,108.9 126.8,109.9 126.8,110.9 126.7,112.0 126.4,113.1 126.0,114.3 125.5,115.4 124.9,116.5 124.2,117.6 123.4,118.7 122.6,119.7 121.7,120.7 120.8,121.6 120.0,122.4 119.1,123.1 118.3,123.7 117.5,124.2 116.8,124.6 116.2,124.9 115.8,125.1 115.4,125.2 115.1,125.2 115.0,125.1 110.1,117.5 110.2,117.6 110.4,117.7 110.8,117.6 111.3,117.4 111.9,117.1 112.6,116.7 113.4,116.2 114.2,115.6 115.0,114.8 115.9,114.0 116.8,113.2 117.6,112.2 118.5,111.2 119.2,110.1 119.9,109.0 120.5,107.9 121.1,106.7 121.5,105.6 121.7,104.5 121.9,103.4 121.9,102.4 121.8,101.4 121.5,100.5 121.1,99.6" fill="url(#hg3)" stroke="#1dbac4" stroke-width="0.5" stroke-linejoin="round"/><polygon points="136.1,122.6 136.5,123.5 136.7,124.4 136.8,125.4 136.8,126.4 136.6,127.5 136.3,128.6 135.9,129.8 135.4,130.9 134.7,132.1 134.0,133.2 133.2,134.2 132.4,135.2 131.5,136.2 130.7,137.0 129.8,137.8 128.9,138.5 128.1,139.1 127.4,139.6 126.7,140.0 126.1,140.3 125.7,140.4 125.3,140.5 125.1,140.5 125.0,140.4 120.1,132.8 120.2,132.9 120.4,133.0 120.7,132.9 121.2,132.7 121.8,132.5 122.5,132.1 123.2,131.6 124.0,131.0 124.9,130.3 125.7,129.5 126.6,128.6 127.5,127.7 128.3,126.7 129.1,125.6 129.8,124.5 130.4,123.4 131.0,122.2 131.4,121.1 131.7,120.0 131.9,118.9 131.9,117.9 131.8,116.9 131.5,115.9 131.2,115.1" fill="url(#hg3)" stroke="#1dbac4" stroke-width="0.5" stroke-linejoin="round"/><polygon points="146.2,138.1 146.5,139.0 146.7,139.9 146.8,140.9 146.8,142.0 146.6,143.0 146.2,144.2 145.8,145.3 145.2,146.4 144.6,147.6 143.9,148.7 143.1,149.7 142.2,150.7 141.4,151.7 140.5,152.5 139.6,153.3 138.8,154.0 138.0,154.5 137.3,155.0 136.6,155.4 136.0,155.6 135.6,155.8 130.7,148.2 131.1,148.1 131.7,147.8 132.3,147.5 133.1,147.0 133.9,146.4 134.7,145.7 135.6,145.0 136.5,144.1 137.3,143.2 138.2,142.2 139.0,141.1 139.7,140.0 140.3,138.9 140.9,137.8 141.3,136.6 141.6,135.5 141.8,134.4 141.9,133.4 141.8,132.4 141.6,131.4 141.2,130.6" fill="url(#hg3)" stroke="#1dbac4" stroke-width="0.5" stroke-linejoin="round"/><path d="M126.0,146.0 L126.1,146.7 L126.3,147.6 L126.4,148.7 L126.6,150.0 L126.9,151.2 L127.2,152.4 L127.5,153.5 L128.0,154.4 L128.6,155.1 L129.2,155.8 L129.9,156.4 L130.7,156.9 L131.5,157.3 L132.3,157.6 L133.2,157.9 L134.0,158.0 L134.8,158.0 L135.7,157.9 L136.6,157.7 L137.5,157.4 L138.4,157.0 L139.3,156.6 L140.2,156.1 L141.2,155.6 L142.2,155.0 L143.2,154.3 L144.3,153.5 L145.3,152.6 L146.4,151.7 L147.5,150.9 L148.5,150.2 L149.6,149.6 L150.7,149.1 L151.8,148.7 L152.9,148.4 L154.1,148.1 L155.2,147.9 L156.2,147.6 L157.2,147.4 L158.0,147.2 L158.7,147.0 L159.4,146.8 L160.0,146.6 L160.5,146.4 L161.0,146.3 L161.4,146.2 L161.7,146.1 L162.0,146.0" fill="none" stroke="#26dae4" stroke-width="1.8" stroke-linecap="round" stroke-linejoin="round"/><defs><linearGradient id="hg4" gradientUnits="userSpaceOnUse" x1="162.0" y1="139.5" x2="168.0" y2="152.5"><stop offset="0" stop-color="#1dbac4"/><stop offset="0.55" stop-color="#3ce1ea"/><stop offset="1" stop-color="#1dbac4"/></linearGradient></defs><polygon points="173.0,149.5 172.5,149.5 172.0,149.4 171.5,149.2 171.0,149.0 170.5,148.6 170.0,148.1 169.6,147.5 169.2,146.8 168.9,146.1 168.6,145.3 168.5,144.4 168.4,143.5 168.4,142.6 168.5,141.7 168.7,140.7 169.0,139.8 169.4,138.9 169.9,138.1 170.5,137.3 171.1,136.6 171.9,136.0 172.7,135.4 173.5,135.0 174.4,134.6 168.5,137.3 167.6,137.7 166.7,138.1 165.9,138.7 165.2,139.3 164.6,140.0 164.0,140.8 163.5,141.6 163.1,142.5 162.8,143.4 162.6,144.4 162.5,145.3 162.5,146.2 162.6,147.1 162.7,148.0 163.0,148.8 163.3,149.5 163.7,150.2 164.1,150.8 164.5,151.3 165.0,151.6 165.5,151.9 166.1,152.1 166.6,152.2 167.0,152.2" fill="#12949e" stroke="#12949e" stroke-width="0.5" stroke-linejoin="round"/><polygon points="172.9,142.4 173.5,143.1 173.9,143.8 174.3,144.5 174.5,145.2 174.7,145.9 174.8,146.6 174.7,147.2 174.6,147.8 174.4,148.3 174.1,148.7 173.8,149.1 173.4,149.3 173.0,149.5 167.0,152.2 167.5,152.0 167.9,151.8 168.2,151.4 168.5,151.0 168.7,150.5 168.8,149.9 168.8,149.3 168.8,148.6 168.6,147.9 168.4,147.2 168.0,146.5 167.6,145.8 167.0,145.1" fill="url(#hg4)" stroke="#1dbac4" stroke-width="0.5" stroke-linejoin="round"/><polygon points="174.4,134.6 175.4,134.4 176.3,134.3 177.3,134.2 178.3,134.3 179.2,134.5 180.1,134.8 181.0,135.2 181.8,135.6 182.6,136.1 183.3,136.7 183.9,137.4 178.0,140.1 177.4,139.4 176.7,138.8 175.9,138.3 175.1,137.8 174.2,137.5 173.3,137.2 172.3,137.0 171.4,136.9 170.4,136.9 169.4,137.1 168.5,137.3" fill="url(#hg4)" stroke="#1dbac4" stroke-width="0.5" stroke-linejoin="round"/><path d="M176.0,138.0 L175.7,137.4 L175.3,136.5 L174.9,135.4 L174.4,134.2 L173.8,133.1 L173.2,131.9 L172.6,130.9 L172.0,130.0 L171.3,129.3 L170.5,128.6 L169.6,128.0 L168.8,127.5 L167.9,127.0 L167.1,126.6 L166.5,126.3 L166.0,126.0" fill="none" stroke="#26dae4" stroke-width="1.6" stroke-linecap="round" stroke-linejoin="round"/><polygon points="127.8,104.5 128.7,104.6 129.9,104.7 131.4,104.8 133.0,104.9 134.8,105.1 136.5,105.2 138.2,105.4 139.8,105.5 141.4,105.6 143.1,105.8 144.8,105.9 146.5,106.1 148.2,106.2 149.6,106.3 150.9,106.4 151.8,106.5 152.2,101.5 151.3,101.4 150.1,101.3 148.6,101.2 147.0,101.1 145.2,100.9 143.5,100.8 141.8,100.6 140.2,100.5 138.6,100.4 136.9,100.2 135.2,100.1 133.5,99.9 131.8,99.8 130.4,99.7 129.1,99.6 128.2,99.5" fill="#26dae4" stroke="#12949e" stroke-width="0.6" stroke-linejoin="round"/><polygon points="127.8,104.5 128.7,104.6 129.9,104.7 131.4,104.8 133.0,104.9 134.8,105.1 136.5,105.2 138.2,105.4 139.8,105.5 141.4,105.6 143.1,105.8 144.8,105.9 146.5,106.1 148.2,106.2 149.6,106.3 150.9,106.4 151.8,106.5 151.8,105.9 150.9,105.8 149.7,105.7 148.2,105.6 146.6,105.4 144.9,105.3 143.1,105.1 141.4,105.0 139.8,104.9 138.3,104.7 136.6,104.6 134.8,104.4 133.1,104.3 131.5,104.2 130.0,104.0 128.8,103.9 127.8,103.9" fill="#56e2ea" stroke="none"/><path d="M152.0,104.0 L151.9,104.6 L151.7,105.5 L151.6,106.6 L151.4,107.8 L151.1,108.9 L150.8,110.1 L150.5,111.1 L150.0,112.0 L149.5,112.7 L148.8,113.3 L148.1,113.9 L147.4,114.4 L146.6,114.8 L145.7,115.2 L144.9,115.6 L144.0,116.0 L143.0,116.4 L142.0,116.7 L140.8,117.0 L139.6,117.2 L138.5,117.5 L137.5,117.7 L136.6,117.9 L136.0,118.0" fill="none" stroke="#26dae4" stroke-width="1.8" stroke-linecap="round" stroke-linejoin="round"/><polygon points="164.3,88.0 163.2,87.9 161.8,87.8 160.1,87.7 158.2,87.5 156.2,87.4 154.1,87.2 152.1,87.1 150.2,87.0 148.4,86.9 146.6,86.9 144.9,86.8 143.2,86.8 141.5,86.8 139.8,86.7 138.1,86.6 136.3,86.5 134.4,86.3 132.3,86.1 130.1,85.8 129.9,85.8 130.3,83.4 120.5,88.6 128.6,96.1 128.9,93.7 129.1,93.8 131.4,94.1 133.6,94.3 135.7,94.5 137.6,94.6 139.4,94.7 141.3,94.8 143.0,94.8 144.7,94.8 146.4,94.9 148.1,94.9 149.8,95.0 151.6,95.1 153.6,95.2 155.6,95.4 157.6,95.5 159.5,95.7 161.2,95.8 162.6,95.9 163.7,96.0" fill="#26dae4" stroke="#12949e" stroke-width="0.6" stroke-linejoin="round"/><polygon points="164.3,88.0 163.2,87.9 161.8,87.8 160.1,87.7 158.2,87.5 156.2,87.4 154.1,87.2 152.1,87.1 150.2,87.0 148.4,86.9 146.6,86.9 144.9,86.8 143.2,86.8 141.5,86.8 139.8,86.7 138.1,86.6 136.3,86.5 134.4,86.3 132.3,86.1 130.1,85.8 129.9,85.8 129.8,86.8 130.0,86.8 132.2,87.1 134.3,87.3 136.2,87.5 138.0,87.6 139.7,87.7 141.4,87.8 143.2,87.8 144.9,87.8 146.6,87.9 148.4,87.9 150.2,88.0 152.0,88.1 154.0,88.2 156.1,88.4 158.1,88.5 160.0,88.7 161.7,88.8 163.1,88.9 164.2,89.0" fill="#56e2ea" stroke="none"/><path d="M160.0,91.0 L160.5,91.0 L161.1,90.9 L161.8,90.8 L162.7,90.7 L163.6,90.7 L164.7,90.7 L165.8,90.8 L167.0,91.0 L168.4,91.4 L170.0,91.9 L171.8,92.6 L173.6,93.3 L175.4,94.1 L177.2,94.7 L178.7,95.2 L180.0,95.5 L181.0,95.5 L181.8,95.4 L182.5,95.0 L183.0,94.7 L183.5,94.3 L183.9,94.0 L184.4,93.9 L185.0,94.0 L185.6,94.4 L186.3,94.8 L187.0,95.4 L187.7,96.2 L188.3,97.0 L189.0,97.9 L189.5,98.9 L190.0,100.0 L190.4,101.3 L190.9,102.7 L191.3,104.3 L191.7,106.0 L192.0,107.7 L192.1,109.3 L192.2,110.8 L192.0,112.0 L191.7,113.0 L191.1,113.9 L190.5,114.6 L189.7,115.3 L188.8,115.9 L187.9,116.5 L186.9,117.0 L186.0,117.5 L185.0,118.0 L183.8,118.4 L182.4,118.7 L181.1,119.0 L179.8,119.3 L178.7,119.6 L177.7,120.0 L177.0,120.5 L176.5,121.1 L176.3,121.7 L176.2,122.4 L176.2,123.1 L176.4,123.8 L176.6,124.5 L176.8,125.3 L177.0,126.0 L177.3,126.8 L177.8,127.6 L178.4,128.4 L179.0,129.2 L179.5,130.1 L180.0,130.8 L180.1,131.5 L180.0,132.0 L179.5,132.4 L178.8,132.7 L177.8,133.0 L176.6,133.1 L175.4,133.2 L174.2,133.3 L173.0,133.4 L172.0,133.5 L171.0,133.6 L170.0,133.6 L169.0,133.6 L168.0,133.6 L167.1,133.6 L166.2,133.5 L165.5,133.5 L165.0,133.5" fill="none" stroke="#26dae4" stroke-width="1.8" stroke-linecap="round" stroke-linejoin="round"/><polygon points="156.7,93.6 157.6,94.3 158.9,95.1 160.3,96.0 162.0,97.0 163.6,98.1 165.3,99.3 166.9,100.4 168.2,101.4 169.4,102.5 170.6,103.6 171.7,104.7 172.9,105.9 174.0,107.1 175.2,108.4 176.3,109.6 177.5,110.8 178.7,111.9 180.0,113.1 181.3,114.3 182.6,115.5 183.7,116.6 184.8,117.5 185.7,118.4 186.3,119.0 191.7,113.0 190.9,112.4 190.0,111.6 188.9,110.7 187.7,109.7 186.4,108.6 185.1,107.4 183.8,106.3 182.5,105.2 181.3,104.2 180.1,103.2 178.8,102.1 177.5,101.0 176.2,99.9 174.8,98.8 173.3,97.7 171.8,96.6 170.2,95.5 168.4,94.4 166.6,93.4 164.8,92.3 163.1,91.4 161.5,90.5 160.3,89.9 159.3,89.4" fill="#26dae4" stroke="#12949e" stroke-width="0.6" stroke-linejoin="round"/><polygon points="156.7,93.6 157.6,94.3 158.9,95.1 160.3,96.0 162.0,97.0 163.6,98.1 165.3,99.3 166.9,100.4 168.2,101.4 169.4,102.5 170.6,103.6 171.7,104.7 172.9,105.9 174.0,107.1 175.2,108.4 176.3,109.6 177.5,110.8 178.7,111.9 180.0,113.1 181.3,114.3 182.6,115.5 183.7,116.6 184.8,117.5 185.7,118.4 186.3,119.0 187.0,118.2 186.3,117.6 185.4,116.8 184.4,115.8 183.2,114.7 181.9,113.6 180.6,112.4 179.3,111.2 178.1,110.1 176.9,108.9 175.8,107.7 174.6,106.5 173.5,105.3 172.3,104.1 171.1,103.0 169.9,101.9 168.7,100.8 167.3,99.8 165.7,98.7 164.0,97.5 162.3,96.5 160.7,95.4 159.2,94.5 158.0,93.7 157.0,93.1" fill="#56e2ea" stroke="none"/><path d="M128.0,52.0 L127.2,52.3 L126.0,52.7 L124.6,53.1 L123.1,53.6 L121.5,54.2 L120.1,54.8 L118.9,55.4 L118.0,56.0 L117.4,56.7 L117.0,57.4 L116.8,58.1 L116.7,58.9 L116.7,59.7 L116.8,60.5 L116.9,61.2 L117.0,62.0 L117.2,62.8 L117.4,63.5 L117.7,64.3 L118.1,65.1 L118.5,65.8 L118.9,66.6 L119.5,67.3 L120.0,68.0 L120.6,68.7 L121.3,69.4 L122.0,70.0 L122.8,70.7 L123.6,71.3 L124.4,71.9 L125.2,72.5 L126.0,73.0 L126.8,73.5 L127.6,74.0 L128.5,74.4 L129.4,74.8 L130.2,75.2 L130.9,75.5 L131.5,75.8 L132.0,76.0" fill="none" stroke="#26dae4" stroke-width="2.2" stroke-linecap="round" stroke-linejoin="round"/><polygon points="140.3,81.8 139.7,81.5 139.0,81.1 138.1,80.6 137.1,80.0 136.1,79.4 135.1,78.8 134.1,78.2 133.6,78.0 134.2,76.1 126.0,77.6 130.8,84.4 131.3,82.5 131.7,82.7 132.6,83.2 133.6,83.7 134.6,84.3 135.6,84.9 136.4,85.4 137.2,85.8 137.7,86.2" fill="#12949e" stroke="#12949e" stroke-width="0.6" stroke-linejoin="round"/><polygon points="140.3,81.8 139.7,81.5 139.0,81.1 138.1,80.6 137.1,80.0 136.1,79.4 135.1,78.8 134.1,78.2 133.6,78.0 133.3,78.6 133.8,78.8 134.8,79.3 135.8,79.9 136.8,80.5 137.8,81.1 138.7,81.6 139.4,82.1 139.9,82.4" fill="#46acb3" stroke="none"/><polygon points="128.7,52.1 129.2,53.3 129.7,54.8 130.5,56.6 131.3,58.7 132.2,60.8 133.1,63.1 134.0,65.3 134.8,67.4 135.7,69.6 136.6,71.9 137.5,74.2 138.5,76.6 139.4,78.9 140.3,81.3 141.2,83.6 142.1,85.8 143.0,87.8 143.9,89.8 144.8,91.8 145.7,93.7 146.5,95.5 147.3,97.3 148.1,99.1 148.9,100.9 149.7,102.6 150.5,104.3 151.2,105.9 152.0,107.5 152.7,109.1 153.4,110.7 154.2,112.3 154.9,113.9 155.7,115.6 155.9,116.0 154.0,116.8 165.0,125.0 165.9,111.4 164.1,112.2 163.9,111.8 163.1,110.1 162.3,108.5 161.6,106.9 160.9,105.3 160.1,103.7 159.4,102.1 158.7,100.5 157.9,98.8 157.1,97.1 156.2,95.3 155.4,93.6 154.5,91.8 153.6,90.0 152.7,88.1 151.8,86.2 150.8,84.2 149.9,82.2 148.8,80.2 147.8,78.0 146.7,75.7 145.5,73.4 144.4,71.1 143.3,68.9 142.2,66.7 141.2,64.6 140.1,62.5 139.0,60.3 137.8,58.2 136.7,56.1 135.7,54.2 134.7,52.5 133.9,51.0 133.3,49.9" fill="#26dae4" stroke="#12949e" stroke-width="0.6" stroke-linejoin="round"/><polygon points="128.7,52.1 129.2,53.3 129.7,54.8 130.5,56.6 131.3,58.7 132.2,60.8 133.1,63.1 134.0,65.3 134.8,67.4 135.7,69.6 136.6,71.9 137.5,74.2 138.5,76.6 139.4,78.9 140.3,81.3 141.2,83.6 142.1,85.8 143.0,87.8 143.9,89.8 144.8,91.8 145.7,93.7 146.5,95.5 147.3,97.3 148.1,99.1 148.9,100.9 149.7,102.6 150.5,104.3 151.2,105.9 152.0,107.5 152.7,109.1 153.4,110.7 154.2,112.3 154.9,113.9 155.7,115.6 155.9,116.0 156.9,115.5 156.7,115.1 155.9,113.4 155.2,111.8 154.5,110.2 153.7,108.6 153.0,107.0 152.3,105.4 151.5,103.8 150.7,102.1 149.9,100.4 149.1,98.7 148.3,96.9 147.5,95.1 146.7,93.2 145.8,91.3 144.9,89.4 144.0,87.4 143.1,85.3 142.2,83.1 141.3,80.9 140.3,78.5 139.3,76.2 138.4,73.8 137.4,71.5 136.5,69.2 135.6,67.1 134.7,64.9 133.8,62.7 132.9,60.5 132.0,58.3 131.1,56.3 130.4,54.5 129.8,53.0 129.3,51.8" fill="#56e2ea" stroke="none"/><path d="M96.0,33.0 L95.0,33.0 L93.6,32.9 L92.0,32.8 L90.2,32.8 L88.4,32.7 L86.6,32.7 L85.2,32.8 L84.0,33.0 L83.2,33.3 L82.5,33.7 L82.0,34.2 L81.7,34.8 L81.4,35.3 L81.3,35.9 L81.1,36.5 L81.0,37.0 L81.0,37.5 L81.1,38.0 L81.3,38.5 L81.6,39.0 L81.8,39.5 L82.0,40.0 L82.1,40.5 L82.0,41.0 L81.7,41.6 L81.4,42.2 L80.9,42.9 L80.4,43.6 L79.8,44.2 L79.2,44.8 L78.6,45.2 L78.0,45.5 L77.4,45.6 L76.8,45.6 L76.1,45.5 L75.4,45.3 L74.7,45.1 L74.1,44.8 L73.5,44.4 L73.0,44.0 L72.6,43.5 L72.2,43.0 L71.8,42.3 L71.5,41.6 L71.3,40.9 L71.1,40.2 L71.0,39.6 L71.0,39.0 L71.1,38.5 L71.3,37.9 L71.6,37.4 L72.0,36.9 L72.4,36.5 L72.9,36.1 L73.4,35.7 L74.0,35.5 L74.6,35.3 L75.3,35.2 L76.1,35.2 L76.9,35.2 L77.8,35.2 L78.6,35.4 L79.3,35.6 L80.0,36.0 L80.6,36.5 L81.1,37.1 L81.6,37.8 L82.1,38.7 L82.5,39.5 L83.0,40.4 L83.5,41.2 L84.0,42.0 L84.6,42.8 L85.1,43.6 L85.7,44.4 L86.3,45.2 L86.9,46.0 L87.6,46.8 L88.3,47.4 L89.0,48.0 L89.8,48.5 L90.8,48.8 L91.8,49.1 L92.8,49.4 L93.8,49.6 L94.7,49.7 L95.4,49.9 L96.0,50.0" fill="none" stroke="#1f6fd6" stroke-width="1.9" stroke-linecap="round" stroke-linejoin="round"/><defs><linearGradient id="hg5" gradientUnits="userSpaceOnUse" x1="61.2" y1="60.6" x2="68.8" y2="71.4"><stop offset="0" stop-color="#165cb9"/><stop offset="0.55" stop-color="#3a80db"/><stop offset="1" stop-color="#165cb9"/></linearGradient></defs><polygon points="74.4,66.7 74.6,66.4 74.8,66.1 74.9,65.7 74.9,65.2 74.9,64.6 74.9,64.0 74.8,63.3 74.6,62.5 74.5,61.7 74.3,60.9 74.1,60.1 73.9,59.3 73.7,58.4 73.6,57.6 73.4,56.8 73.3,56.1 73.2,55.3 73.1,54.7 73.1,54.1 73.1,53.6 73.2,53.1 73.4,52.8 73.6,52.5 73.9,52.3 68.6,56.1 68.3,56.3 68.1,56.6 67.9,56.9 67.8,57.4 67.8,57.9 67.8,58.5 67.9,59.1 68.0,59.8 68.1,60.6 68.3,61.4 68.5,62.2 68.6,63.0 68.8,63.9 69.0,64.7 69.2,65.5 69.4,66.3 69.5,67.1 69.6,67.8 69.6,68.4 69.6,69.0 69.6,69.5 69.5,69.9 69.3,70.2 69.1,70.5" fill="#0c4596" stroke="#0c4596" stroke-width="0.5" stroke-linejoin="round"/><polygon points="67.6,64.1 68.4,64.6 69.1,65.0 69.8,65.4 70.5,65.8 71.1,66.2 71.8,66.5 72.3,66.7 72.8,66.8 73.3,66.9 73.7,66.9 74.1,66.8 74.4,66.7 69.1,70.5 68.8,70.6 68.4,70.7 68.0,70.7 67.6,70.6 67.0,70.5 66.5,70.2 65.9,69.9 65.2,69.6 64.5,69.2 63.8,68.8 63.1,68.3 62.4,67.9" fill="url(#hg5)" stroke="#165cb9" stroke-width="0.5" stroke-linejoin="round"/><polygon points="73.9,52.3 74.2,52.2 74.6,52.2 75.0,52.3 75.5,52.4 76.1,52.6 76.7,52.9 77.3,53.2 78.0,53.6 78.7,54.0 79.4,54.4 80.2,54.9 80.9,55.4 81.6,55.8 82.3,56.2 83.0,56.6 83.7,57.0 78.4,60.8 77.7,60.4 77.1,60.0 76.3,59.6 75.6,59.1 74.9,58.7 74.2,58.2 73.4,57.8 72.7,57.4 72.1,57.0 71.4,56.7 70.8,56.4 70.3,56.2 69.7,56.0 69.3,56.0 68.9,56.0 68.6,56.1" fill="url(#hg5)" stroke="#165cb9" stroke-width="0.5" stroke-linejoin="round"/><path d="M66.0,68.0 L66.2,68.3 L66.5,68.7 L66.9,69.3 L67.2,69.8 L67.7,70.4 L68.1,71.0 L68.6,71.5 L69.0,72.0 L69.5,72.4 L70.0,72.9 L70.6,73.3 L71.1,73.7 L71.7,74.1 L72.2,74.4 L72.6,74.7 L73.0,75.0 L73.3,75.2 L73.5,75.4 L73.6,75.6 L73.8,75.7 L73.8,75.8 L73.9,75.9 L73.9,75.9 L74.0,76.0" fill="none" stroke="#1f6fd6" stroke-width="2.6" stroke-linecap="round" stroke-linejoin="round"/><path d="M74.0,75.5 L74.6,75.1 L75.5,74.7 L76.6,74.1 L77.7,73.4 L78.9,72.8 L80.0,72.1 L80.9,71.4 L81.6,70.8 L82.1,70.2 L82.4,69.6 L82.6,69.0 L82.7,68.3 L82.8,67.7 L82.8,67.1 L82.9,66.5 L83.0,66.0 L83.1,65.5 L83.1,65.0 L83.1,64.5 L83.2,64.0 L83.2,63.6 L83.3,63.2 L83.6,62.8 L84.0,62.4 L84.6,62.0 L85.4,61.6 L86.3,61.3 L87.2,60.9 L88.3,60.6 L89.2,60.3 L90.2,60.1 L91.0,60.0 L91.7,59.9 L92.4,59.9 L93.0,60.0 L93.6,60.1 L94.2,60.3 L94.8,60.5 L95.4,60.7 L96.0,61.0 L96.7,61.3 L97.3,61.8 L98.1,62.2 L98.8,62.8 L99.4,63.3 L100.0,63.9 L100.6,64.4 L101.0,65.0 L101.3,65.6 L101.5,66.2 L101.6,66.8 L101.6,67.5 L101.6,68.1 L101.7,68.8 L101.8,69.4 L102.0,70.0 L102.3,70.6 L102.7,71.2 L103.1,71.8 L103.5,72.4 L104.0,72.9 L104.5,73.5 L105.0,73.9 L105.6,74.4 L106.3,74.8 L107.1,75.2 L107.9,75.6 L108.8,75.9 L109.7,76.2 L110.5,76.4 L111.1,76.6 L111.6,76.8" fill="none" stroke="#1f6fd6" stroke-width="1.9" stroke-linecap="round" stroke-linejoin="round"/><path d="M78.0,54.0 L78.5,53.7 L79.1,53.2 L79.8,52.7 L80.6,52.1 L81.4,51.5 L82.3,50.9 L83.2,50.4 L84.0,50.0 L84.8,49.7 L85.8,49.4 L86.7,49.1 L87.6,48.8 L88.6,48.7 L89.5,48.6 L90.3,48.5 L91.0,48.6 L91.7,48.8 L92.3,49.1 L92.8,49.4 L93.3,49.9 L93.8,50.4 L94.2,50.9 L94.5,51.4 L94.8,52.0 L95.0,52.6 L95.1,53.3 L95.1,54.0 L95.1,54.7 L95.1,55.5 L95.0,56.2 L94.9,56.9 L94.8,57.6 L94.7,58.2 L94.6,58.8 L94.4,59.3 L94.2,59.8 L94.0,60.3 L93.8,60.9 L93.7,61.4 L93.6,62.0 L93.5,62.6 L93.4,63.2 L93.2,63.8 L93.1,64.3 L93.1,65.0 L93.1,65.7 L93.3,66.4 L93.6,67.2 L94.1,68.1 L94.7,69.2 L95.5,70.3 L96.4,71.4 L97.3,72.6 L98.1,73.7 L98.9,74.7 L99.6,75.6 L100.2,76.4 L100.8,77.1 L101.3,77.8 L101.8,78.4 L102.2,79.0 L102.6,79.5 L102.9,80.0 L103.2,80.4 L103.4,80.8 L103.4,81.0 L103.5,81.3 L103.4,81.4 L103.3,81.6 L103.2,81.8 L103.1,81.9 L103.0,82.2 L102.9,82.5 L102.8,82.8 L102.7,83.1 L102.5,83.5 L102.3,83.9 L102.1,84.2 L101.9,84.6 L101.6,85.0 L101.2,85.4 L100.8,85.8 L100.3,86.3 L99.8,86.8 L99.3,87.2 L98.8,87.7 L98.4,88.1 L98.0,88.5 L97.7,88.9 L97.3,89.2 L97.0,89.5 L96.7,89.9 L96.5,90.2 L96.3,90.5 L96.1,90.9 L96.0,91.3 L96.0,91.8 L96.0,92.3 L96.0,92.8 L96.1,93.4 L96.3,94.0 L96.4,94.5 L96.6,95.0 L96.7,95.5 L96.8,95.9 L96.9,96.3 L97.1,96.7 L97.2,97.0 L97.4,97.4 L97.5,97.7 L97.8,98.0 L98.0,98.3 L98.3,98.6 L98.7,98.9 L99.1,99.2 L99.5,99.5 L100.0,99.8 L100.3,100.0 L100.7,100.2 L100.9,100.4" fill="none" stroke="#1f6fd6" stroke-width="1.9" stroke-linecap="round" stroke-linejoin="round"/><polygon points="90.0,44.7 91.4,45.4 93.2,46.3 95.4,47.3 97.8,48.4 100.3,49.7 102.8,50.9 105.2,52.2 107.3,53.4 109.3,54.6 111.3,56.0 113.4,57.4 115.4,58.9 117.4,60.3 119.3,61.8 121.3,63.2 123.2,64.5 125.1,65.7 127.0,67.0 128.9,68.2 130.8,69.4 131.2,69.6 130.3,71.0 138.0,70.0 135.5,62.7 134.6,64.1 134.2,63.8 132.4,62.7 130.5,61.5 128.6,60.3 126.8,59.1 125.0,57.9 123.2,56.5 121.2,55.1 119.2,53.6 117.1,52.1 115.0,50.6 112.9,49.2 110.7,47.8 108.3,46.5 105.8,45.1 103.2,43.8 100.6,42.6 98.2,41.4 96.0,40.4 94.2,39.5 92.8,38.9" fill="#1f6fd6" stroke="#0c4596" stroke-width="0.6" stroke-linejoin="round"/><polygon points="90.0,44.7 91.4,45.4 93.2,46.3 95.4,47.3 97.8,48.4 100.3,49.7 102.8,50.9 105.2,52.2 107.3,53.4 109.3,54.6 111.3,56.0 113.4,57.4 115.4,58.9 117.4,60.3 119.3,61.8 121.3,63.2 123.2,64.5 125.1,65.7 127.0,67.0 128.9,68.2 130.8,69.4 131.2,69.6 131.6,68.9 131.2,68.7 129.4,67.5 127.5,66.3 125.5,65.1 123.6,63.8 121.7,62.5 119.8,61.1 117.8,59.7 115.8,58.2 113.8,56.7 111.8,55.3 109.8,54.0 107.8,52.7 105.6,51.5 103.2,50.2 100.7,48.9 98.1,47.7 95.7,46.6 93.6,45.5 91.7,44.7 90.3,44.0" fill="#508fdf" stroke="none"/><polygon points="95.0,38.4 96.1,38.7 97.6,39.1 99.4,39.6 101.3,40.1 103.3,40.7 105.3,41.3 107.3,41.8 109.0,42.4 110.6,42.8 112.1,43.3 113.6,43.7 115.1,44.2 116.5,44.6 117.9,45.1 119.2,45.6 120.6,46.2 122.1,46.9 123.5,47.5 125.0,48.2 126.4,49.0 127.9,49.8 129.3,50.6 130.6,51.5 132.0,52.4 133.4,53.4 134.7,54.4 136.1,55.5 137.5,56.6 138.8,57.8 140.1,59.0 141.3,60.2 142.4,61.4 143.4,62.5 144.4,63.8 145.4,65.2 146.3,66.5 147.3,68.0 148.2,69.4 149.2,70.8 150.2,72.2 151.3,73.4 152.3,74.7 153.4,75.9 154.4,77.0 155.3,78.1 156.2,79.0 156.9,79.7 157.4,80.3 162.6,75.7 162.1,75.1 161.4,74.3 160.5,73.4 159.6,72.4 158.6,71.3 157.6,70.1 156.7,69.0 155.8,67.8 154.9,66.7 154.0,65.5 153.1,64.1 152.2,62.6 151.1,61.1 150.0,59.6 148.9,58.1 147.6,56.6 146.3,55.3 144.9,53.9 143.5,52.6 142.0,51.3 140.5,50.1 139.0,48.9 137.5,47.7 136.0,46.6 134.4,45.6 132.9,44.6 131.3,43.7 129.7,42.8 128.1,42.0 126.5,41.2 125.0,40.5 123.4,39.8 121.8,39.1 120.2,38.5 118.7,38.0 117.2,37.5 115.7,37.0 114.1,36.6 112.6,36.1 111.0,35.6 109.2,35.1 107.3,34.5 105.2,34.0 103.2,33.4 101.3,32.8 99.5,32.3 98.0,31.9 97.0,31.6" fill="#1f6fd6" stroke="#0c4596" stroke-width="0.6" stroke-linejoin="round"/><polygon points="95.0,38.4 96.1,38.7 97.6,39.1 99.4,39.6 101.3,40.1 103.3,40.7 105.3,41.3 107.3,41.8 109.0,42.4 110.6,42.8 112.1,43.3 113.6,43.7 115.1,44.2 116.5,44.6 117.9,45.1 119.2,45.6 120.6,46.2 122.1,46.9 123.5,47.5 125.0,48.2 126.4,49.0 127.9,49.8 129.3,50.6 130.6,51.5 132.0,52.4 133.4,53.4 134.7,54.4 136.1,55.5 137.5,56.6 138.8,57.8 140.1,59.0 141.3,60.2 142.4,61.4 143.4,62.5 144.4,63.8 145.4,65.2 146.3,66.5 147.3,68.0 148.2,69.4 149.2,70.8 150.2,72.2 151.3,73.4 152.3,74.7 153.4,75.9 154.4,77.0 155.3,78.1 156.2,79.0 156.9,79.7 157.4,80.3 158.0,79.7 157.5,79.2 156.8,78.4 156.0,77.5 155.0,76.4 154.0,75.3 153.0,74.1 151.9,72.9 150.9,71.6 149.9,70.3 149.0,68.9 148.0,67.5 147.1,66.1 146.1,64.7 145.1,63.3 144.1,62.0 143.1,60.8 141.9,59.6 140.7,58.3 139.4,57.1 138.0,56.0 136.7,54.8 135.3,53.7 133.9,52.6 132.5,51.7 131.1,50.7 129.7,49.9 128.3,49.0 126.8,48.2 125.4,47.5 123.9,46.7 122.4,46.1 121.0,45.4 119.5,44.8 118.2,44.3 116.8,43.8 115.3,43.3 113.9,42.9 112.4,42.5 110.8,42.0 109.2,41.5 107.5,41.0 105.6,40.4 103.6,39.8 101.5,39.3 99.6,38.7 97.9,38.2 96.4,37.8 95.3,37.5" fill="#508fdf" stroke="none"/><path d="M158.0,77.0 L158.4,77.1 L158.8,77.3 L159.4,77.5 L160.0,77.8 L160.7,78.0 L161.5,78.2 L162.2,78.4 L163.0,78.5 L163.8,78.5 L164.7,78.4 L165.6,78.2 L166.6,78.0 L167.5,77.8 L168.5,77.8 L169.5,78.0 L170.5,78.4 L171.5,79.2 L172.6,80.3 L173.8,81.6 L174.9,83.0 L176.0,84.4 L177.0,85.7 L177.8,86.8 L178.4,87.6" fill="none" stroke="#1f6fd6" stroke-width="1.8" stroke-linecap="round" stroke-linejoin="round"/><path d="M132.8,72.8 L134.0,72.9 L135.5,73.0 L137.4,73.1 L139.5,73.3 L141.6,73.5 L143.7,73.7 L145.6,74.0 L147.2,74.4 L148.5,74.9 L149.7,75.5 L150.8,76.1 L151.8,76.8 L152.7,77.5 L153.6,78.2 L154.4,78.7 L155.2,79.2 L156.0,79.6 L156.7,79.9 L157.4,80.1 L158.1,80.3 L158.7,80.5 L159.2,80.6 L159.7,80.7 L160.0,80.8" fill="none" stroke="#1f6fd6" stroke-width="1.6" stroke-linecap="round" stroke-linejoin="round"/><defs><linearGradient id="hg6" gradientUnits="userSpaceOnUse" x1="89.4" y1="34.8" x2="95.6" y2="50.2"><stop offset="0" stop-color="#165cb9"/><stop offset="0.55" stop-color="#2a7adc"/><stop offset="1" stop-color="#165cb9"/></linearGradient></defs><polygon points="104.2,45.9 104.8,45.6 105.3,45.2 105.8,44.7 106.2,44.0 106.6,43.3 106.9,42.4 107.2,41.5 107.4,40.6 107.5,39.6 107.6,38.5 107.6,37.5 107.6,36.4 107.6,35.4 107.6,34.3 107.5,33.4 107.4,32.5 107.3,31.6 107.2,30.9 107.1,30.2 107.0,29.7 107.0,29.2 107.0,28.9 107.0,28.7 107.0,28.6 97.8,32.3 97.7,32.4 97.7,32.6 97.7,32.9 97.7,33.4 97.8,33.9 97.9,34.6 98.0,35.3 98.1,36.2 98.2,37.1 98.3,38.0 98.3,39.1 98.4,40.1 98.4,41.2 98.3,42.2 98.2,43.3 98.1,44.3 97.9,45.2 97.6,46.1 97.3,47.0 96.9,47.7 96.5,48.3 96.0,48.9 95.5,49.3 94.9,49.6" fill="#0c4596" stroke="#0c4596" stroke-width="0.5" stroke-linejoin="round"/><polygon points="121.1,39.2 121.7,38.8 122.3,38.4 122.7,37.9 123.2,37.2 123.5,36.4 123.8,35.6 124.1,34.7 124.3,33.7 124.4,32.7 124.5,31.7 124.5,30.6 124.5,29.5 124.5,28.5 124.4,27.5 124.4,26.5 124.3,25.6 124.2,24.8 124.1,24.1 124.0,23.4 123.9,22.9 123.9,22.5 123.8,22.2 123.9,22.0 123.9,21.9 114.7,25.6 114.6,25.7 114.6,25.9 114.6,26.2 114.6,26.6 114.7,27.1 114.8,27.8 114.9,28.5 115.0,29.3 115.1,30.2 115.1,31.2 115.2,32.2 115.2,33.2 115.2,34.3 115.2,35.4 115.1,36.4 115.0,37.4 114.8,38.4 114.5,39.3 114.2,40.1 113.9,40.9 113.4,41.5 113.0,42.1 112.4,42.5 111.8,42.9" fill="#0c4596" stroke="#0c4596" stroke-width="0.5" stroke-linejoin="round"/><polygon points="138.1,32.4 138.7,32.1 139.2,31.6 139.7,31.0 140.1,30.4 140.5,29.6 140.8,28.8 141.0,27.8 141.2,26.9 141.3,25.8 141.4,24.8 141.4,23.7 141.4,22.7 141.4,21.6 141.3,20.6 141.2,19.7 141.1,18.8 141.0,18.0 140.9,17.3 140.8,16.6 140.8,16.1 140.7,15.7 140.7,15.4 140.8,15.2 140.8,15.2 131.5,18.9 131.5,18.9 131.4,19.1 131.4,19.4 131.5,19.8 131.6,20.3 131.6,21.0 131.7,21.7 131.8,22.5 131.9,23.4 132.0,24.3 132.1,25.3 132.1,26.4 132.1,27.4 132.1,28.5 132.0,29.5 131.9,30.6 131.7,31.5 131.5,32.5 131.2,33.3 130.8,34.1 130.4,34.7 129.9,35.3 129.4,35.8 128.8,36.1" fill="#0c4596" stroke="#0c4596" stroke-width="0.5" stroke-linejoin="round"/><polygon points="95.1,41.5 95.8,42.2 96.6,43.0 97.4,43.7 98.2,44.3 99.0,44.9 99.8,45.3 100.6,45.7 101.3,46.0 102.1,46.1 102.8,46.2 103.5,46.1 104.2,45.9 94.9,49.6 94.2,49.8 93.5,49.9 92.8,49.8 92.1,49.7 91.3,49.4 90.5,49.0 89.7,48.5 88.9,48.0 88.1,47.4 87.3,46.7 86.5,45.9 85.8,45.2" fill="url(#hg6)" stroke="#165cb9" stroke-width="0.5" stroke-linejoin="round"/><polygon points="107.0,28.6 107.2,28.7 107.3,28.8 107.5,29.1 107.8,29.5 108.2,29.9 108.6,30.5 109.0,31.1 109.5,31.8 110.1,32.5 110.7,33.3 111.4,34.1 112.1,34.9 112.8,35.6 113.6,36.3 114.4,37.0 115.2,37.6 116.0,38.2 116.8,38.7 117.6,39.0 118.3,39.3 119.1,39.4 119.8,39.5 120.5,39.4 121.1,39.2 111.8,42.9 111.2,43.1 110.5,43.2 109.8,43.1 109.0,43.0 108.3,42.7 107.5,42.4 106.7,41.9 105.9,41.3 105.1,40.7 104.3,40.0 103.5,39.3 102.8,38.5 102.1,37.8 101.4,37.0 100.8,36.2 100.2,35.5 99.7,34.8 99.3,34.2 98.9,33.6 98.5,33.2 98.2,32.8 98.0,32.5 97.9,32.4 97.8,32.3" fill="url(#hg6)" stroke="#165cb9" stroke-width="0.5" stroke-linejoin="round"/><polygon points="123.9,21.9 124.1,22.0 124.2,22.1 124.5,22.4 124.7,22.8 125.1,23.3 125.5,23.8 126.0,24.5 126.5,25.2 127.0,25.9 127.7,26.7 128.3,27.5 129.0,28.2 129.8,29.0 130.6,29.7 131.3,30.4 132.1,31.0 133.0,31.5 133.8,32.0 134.5,32.3 135.3,32.6 136.1,32.7 136.8,32.7 137.5,32.6 138.1,32.4 128.8,36.1 128.2,36.3 127.5,36.4 126.8,36.4 126.0,36.3 125.3,36.0 124.5,35.7 123.7,35.2 122.9,34.7 122.1,34.1 121.3,33.4 120.5,32.7 119.8,31.9 119.0,31.2 118.4,30.4 117.8,29.6 117.2,28.9 116.7,28.2 116.2,27.5 115.8,27.0 115.5,26.5 115.2,26.1 114.9,25.8 114.8,25.7 114.7,25.6" fill="url(#hg6)" stroke="#165cb9" stroke-width="0.5" stroke-linejoin="round"/><polygon points="140.8,15.2 141.0,15.3 141.1,15.4 141.4,15.7 141.7,16.1 142.0,16.6 142.4,17.2 142.9,17.8 143.4,18.5 144.0,19.3 144.6,20.1 145.3,20.8 146.0,21.6 146.8,22.4 147.5,23.1 138.3,26.8 137.5,26.1 136.7,25.3 136.0,24.5 135.3,23.8 134.7,23.0 134.1,22.2 133.6,21.5 133.1,20.9 132.7,20.3 132.4,19.8 132.1,19.4 131.9,19.1 131.7,19.0 131.5,18.9" fill="url(#hg6)" stroke="#165cb9" stroke-width="0.5" stroke-linejoin="round"/><path d="M146.0,25.0 L146.3,25.4 L146.7,25.9 L147.2,26.5 L147.7,27.2 L148.2,27.9 L148.6,28.6 L148.9,29.3 L149.0,30.0 L148.9,30.6 L148.7,31.3 L148.4,32.0 L148.1,32.7 L147.6,33.3 L147.1,34.0 L146.6,34.5 L146.0,35.0 L145.4,35.4 L144.7,35.7 L144.0,35.9 L143.2,36.1 L142.4,36.3 L141.6,36.5 L140.8,36.7 L140.0,37.0 L139.2,37.3 L138.4,37.8 L137.5,38.2 L136.6,38.6 L135.8,39.1 L135.1,39.4 L134.5,39.8 L134.0,40.0" fill="none" stroke="#1f6fd6" stroke-width="1.8" stroke-linecap="round" stroke-linejoin="round"/><polygon points="111.6,81.8 112.5,81.4 113.7,80.9 115.1,80.2 116.6,79.6 118.3,78.8 120.0,78.1 121.6,77.4 123.2,76.8 124.7,76.1 126.4,75.4 128.2,74.7 128.7,74.5 129.6,76.7 134.0,69.0 125.5,66.7 126.4,68.9 125.8,69.1 124.1,69.9 122.4,70.6 120.8,71.2 119.3,71.9 117.6,72.6 115.9,73.3 114.3,74.1 112.7,74.7 111.3,75.3 110.1,75.9 109.2,76.2" fill="#1f6fd6" stroke="#0c4596" stroke-width="0.6" stroke-linejoin="round"/><polygon points="111.6,81.8 112.5,81.4 113.7,80.9 115.1,80.2 116.6,79.6 118.3,78.8 120.0,78.1 121.6,77.4 123.2,76.8 124.7,76.1 126.4,75.4 128.2,74.7 128.7,74.5 128.4,73.8 127.9,74.0 126.1,74.7 124.4,75.4 122.9,76.1 121.3,76.7 119.7,77.4 118.0,78.2 116.3,78.9 114.8,79.6 113.4,80.2 112.2,80.7 111.3,81.1" fill="#508fdf" stroke="none"/><polygon points="112.8,71.9 113.6,71.5 114.6,71.1 115.9,70.6 117.3,70.0 118.7,69.4 120.1,68.8 121.5,68.3 122.6,67.9 123.7,67.6 124.8,67.2 126.0,67.0 127.1,66.7 128.1,66.5 129.0,66.3 129.8,66.1 130.5,65.9 129.5,62.1 129.0,62.2 128.2,62.4 127.2,62.6 126.2,62.8 125.0,63.1 123.8,63.4 122.6,63.7 121.4,64.1 120.1,64.6 118.7,65.1 117.2,65.7 115.7,66.3 114.3,66.9 113.1,67.4 112.0,67.8 111.2,68.1" fill="#1f6fd6" stroke="#0c4596" stroke-width="0.6" stroke-linejoin="round"/><polygon points="112.8,71.9 113.6,71.5 114.6,71.1 115.9,70.6 117.3,70.0 118.7,69.4 120.1,68.8 121.5,68.3 122.6,67.9 123.7,67.6 124.8,67.2 126.0,67.0 127.1,66.7 128.1,66.5 129.0,66.3 129.8,66.1 130.5,65.9 130.3,65.5 129.7,65.6 128.9,65.8 128.0,66.0 127.0,66.2 125.9,66.5 124.7,66.8 123.6,67.1 122.5,67.4 121.3,67.8 120.0,68.4 118.5,68.9 117.1,69.5 115.7,70.1 114.4,70.6 113.4,71.1 112.6,71.4" fill="#508fdf" stroke="none"/><text x="36.3" y="26.5" font-size="12.7" font-family="Liberation Sans, Arial, sans-serif">proximal Ub</text><text x="152.6" y="170.6" font-size="12.7" font-family="Liberation Sans, Arial, sans-serif">distal Ub</text><text x="22.3" y="198.6" font-size="12.7" font-family="Liberation Sans, Arial, sans-serif">Rpn2<tspan font-size="7.2" dy="-4.6">CTD</tspan></text><text x="132.3" y="200.6" font-size="12.7" font-family="Liberation Sans, Arial, sans-serif">Rpn13<tspan font-size="7.2" dy="-4.6">NTD</tspan></text><text x="66.2" y="91" font-size="11.7" font-style="italic" fill="#2266cc" font-family="Liberation Sans, Arial, sans-serif">K48</text><text x="16.8" y="129.2" font-size="11.7" font-style="italic" fill="#22aa22" font-family="Liberation Sans, Arial, sans-serif">K34</text>
<g transform="translate(302,0)"><path d="M93.2,164.8 L93.5,165.7 L94.0,166.8 L94.5,168.2 L95.1,169.8 L95.7,171.3 L96.2,172.9 L96.6,174.3 L96.8,175.6 L96.8,176.7 L96.8,177.7 L96.6,178.6 L96.3,179.5 L96.0,180.4 L95.7,181.2 L95.3,182.0 L95.0,182.8 L94.6,183.5 L94.1,184.2 L93.5,184.9 L92.9,185.5 L92.3,186.1 L91.8,186.8 L91.5,187.5 L91.4,188.2 L91.5,189.0 L91.8,190.0 L92.2,190.9 L92.7,191.9 L93.3,192.9 L93.9,193.8 L94.5,194.7 L95.0,195.4 L95.5,196.1 L96.1,196.7 L96.6,197.3 L97.2,197.8 L97.8,198.2 L98.4,198.6 L98.9,198.8 L99.5,199.0 L100.1,199.1 L100.7,199.1 L101.4,199.0 L102.0,198.8 L102.6,198.5 L103.2,198.2 L103.7,197.7 L104.0,197.2 L104.2,196.6 L104.2,195.8 L104.1,194.9 L103.9,193.9 L103.8,192.9 L103.7,191.9 L103.8,190.9 L104.0,190.0 L104.4,189.1 L104.9,188.1 L105.5,187.1 L106.1,186.1 L106.9,185.1 L107.7,184.2 L108.5,183.4 L109.4,182.8 L110.4,182.3 L111.4,181.8 L112.6,181.4 L113.7,181.1 L114.9,180.9 L116.1,180.8 L117.2,180.8 L118.3,181.0 L119.3,181.3 L120.3,181.8 L121.3,182.4 L122.2,183.1 L123.1,183.9 L124.0,184.8 L124.8,185.6 L125.5,186.4 L126.2,187.2 L126.8,188.1 L127.4,189.0 L127.9,190.0 L128.4,191.0 L128.7,191.9 L128.9,192.8 L129.0,193.6 L128.9,194.4 L128.7,195.2 L128.3,195.9 L127.8,196.6 L127.3,197.3 L126.7,197.9 L126.1,198.5 L125.5,199.0 L124.9,199.4 L124.1,199.7 L123.3,200.0 L122.5,200.2 L121.7,200.4 L121.0,200.6 L120.4,200.7 L120.0,200.8" fill="none" stroke="#5cd65a" stroke-width="1.9" stroke-linecap="round" stroke-linejoin="round"/><path d="M102.0,168.0 L101.8,168.6 L101.5,169.5 L101.1,170.5 L100.8,171.6 L100.4,172.8 L100.1,174.0 L100.0,175.0 L100.0,176.0 L100.2,176.9 L100.5,177.8 L101.0,178.7 L101.5,179.5 L102.1,180.3 L102.7,181.0 L103.4,181.6 L104.0,182.0 L104.7,182.3 L105.5,182.4 L106.4,182.4 L107.2,182.4 L108.1,182.3 L108.9,182.1 L109.5,182.0 L110.0,182.0" fill="none" stroke="#5cd65a" stroke-width="1.8" stroke-linecap="round" stroke-linejoin="round"/><path d="M113.0,166.0 L113.2,166.5 L113.5,167.2 L113.9,168.0 L114.2,168.9 L114.7,169.8 L115.1,170.6 L115.6,171.4 L116.0,172.0 L116.5,172.5 L116.9,172.9 L117.4,173.2 L117.9,173.5 L118.5,173.7 L119.0,173.9 L119.5,174.0 L120.0,174.0 L120.5,173.9 L121.1,173.7 L121.7,173.5 L122.2,173.1 L122.8,172.8 L123.3,172.5 L123.7,172.2 L124.0,172.0" fill="none" stroke="#5cd65a" stroke-width="1.8" stroke-linecap="round" stroke-linejoin="round"/><polygon points="111.2,171.4 111.4,170.2 111.6,168.5 111.8,166.5 112.1,164.3 112.4,162.0 112.7,159.7 113.0,157.5 113.2,155.4 113.5,153.5 113.7,151.5 113.9,149.6 114.2,147.7 114.4,145.9 114.6,144.0 114.9,142.3 115.2,140.6 115.5,138.8 115.9,137.0 116.3,135.1 116.8,133.3 117.2,131.6 117.6,130.1 117.9,128.8 118.2,127.8 111.8,126.2 111.6,127.2 111.3,128.5 110.9,130.1 110.5,131.8 110.0,133.7 109.6,135.6 109.2,137.5 108.8,139.4 108.5,141.3 108.2,143.1 108.0,145.0 107.7,146.9 107.5,148.8 107.2,150.7 107.0,152.7 106.8,154.6 106.5,156.7 106.2,158.9 105.9,161.2 105.6,163.5 105.4,165.7 105.1,167.7 104.9,169.4 104.8,170.6" fill="#5cd65a" stroke="#379a37" stroke-width="0.6" stroke-linejoin="round"/><polygon points="111.2,171.4 111.4,170.2 111.6,168.5 111.8,166.5 112.1,164.3 112.4,162.0 112.7,159.7 113.0,157.5 113.2,155.4 113.5,153.5 113.7,151.5 113.9,149.6 114.2,147.7 114.4,145.9 114.6,144.0 114.9,142.3 115.2,140.6 115.5,138.8 115.9,137.0 116.3,135.1 116.8,133.3 117.2,131.6 117.6,130.1 117.9,128.8 118.2,127.8 117.4,127.6 117.1,128.6 116.8,129.9 116.4,131.4 116.0,133.1 115.6,135.0 115.1,136.8 114.7,138.7 114.4,140.4 114.1,142.2 113.8,143.9 113.6,145.8 113.4,147.6 113.1,149.5 112.9,151.4 112.7,153.4 112.4,155.3 112.2,157.4 111.9,159.6 111.6,161.9 111.3,164.2 111.0,166.4 110.8,168.4 110.6,170.1 110.4,171.3" fill="#80df7e" stroke="none"/><polygon points="119.0,168.4 119.1,167.3 119.3,165.9 119.6,164.1 119.8,162.2 120.1,160.1 120.4,158.1 120.7,156.2 121.0,154.4 121.2,152.8 121.4,151.2 121.6,149.7 121.8,148.2 122.1,146.8 122.3,145.4 122.6,144.1 122.9,142.8 123.3,141.5 123.8,140.2 124.3,138.8 124.9,137.4 125.4,136.1 126.0,135.0 126.4,134.0 126.8,133.2 121.2,130.8 120.9,131.6 120.5,132.5 120.0,133.7 119.4,135.1 118.8,136.5 118.1,138.1 117.6,139.6 117.1,141.2 116.7,142.7 116.4,144.2 116.1,145.8 115.9,147.3 115.7,148.9 115.5,150.4 115.3,152.0 115.0,153.6 114.8,155.3 114.5,157.3 114.2,159.3 113.9,161.3 113.6,163.3 113.4,165.0 113.2,166.5 113.0,167.6" fill="#5cd65a" stroke="#379a37" stroke-width="0.6" stroke-linejoin="round"/><polygon points="119.0,168.4 119.1,167.3 119.3,165.9 119.6,164.1 119.8,162.2 120.1,160.1 120.4,158.1 120.7,156.2 121.0,154.4 121.2,152.8 121.4,151.2 121.6,149.7 121.8,148.2 122.1,146.8 122.3,145.4 122.6,144.1 122.9,142.8 123.3,141.5 123.8,140.2 124.3,138.8 124.9,137.4 125.4,136.1 126.0,135.0 126.4,134.0 126.8,133.2 126.1,132.9 125.7,133.7 125.3,134.7 124.8,135.8 124.2,137.1 123.6,138.5 123.1,139.9 122.6,141.3 122.2,142.6 121.8,143.9 121.6,145.2 121.3,146.6 121.1,148.1 120.9,149.6 120.7,151.1 120.5,152.7 120.2,154.3 120.0,156.1 119.7,158.0 119.4,160.0 119.1,162.1 118.8,164.0 118.6,165.7 118.4,167.2 118.2,168.3" fill="#80df7e" stroke="none"/><polygon points="103.0,169.5 103.2,168.3 103.5,166.6 103.9,164.6 104.3,162.4 104.7,160.0 105.1,157.7 105.5,155.5 105.9,153.6 106.3,151.9 106.7,150.3 107.0,148.7 107.4,147.2 107.8,145.7 108.2,144.1 108.6,142.4 108.9,140.6 109.3,138.6 109.8,136.4 110.2,134.1 110.6,131.7 110.7,131.4 113.1,131.9 109.0,124.0 102.4,129.9 104.8,130.3 104.7,130.6 104.3,133.0 103.9,135.3 103.5,137.5 103.1,139.4 102.7,141.1 102.3,142.7 102.0,144.3 101.6,145.8 101.2,147.3 100.8,148.9 100.4,150.6 100.1,152.4 99.7,154.4 99.2,156.6 98.8,158.9 98.4,161.3 98.0,163.5 97.6,165.5 97.3,167.2 97.0,168.5" fill="#5cd65a" stroke="#379a37" stroke-width="0.6" stroke-linejoin="round"/><polygon points="103.0,169.5 103.2,168.3 103.5,166.6 103.9,164.6 104.3,162.4 104.7,160.0 105.1,157.7 105.5,155.5 105.9,153.6 106.3,151.9 106.7,150.3 107.0,148.7 107.4,147.2 107.8,145.7 108.2,144.1 108.6,142.4 108.9,140.6 109.3,138.6 109.8,136.4 110.2,134.1 110.6,131.7 110.7,131.4 110.0,131.3 109.9,131.6 109.5,133.9 109.0,136.3 108.6,138.5 108.2,140.5 107.8,142.2 107.4,143.9 107.1,145.5 106.7,147.0 106.3,148.6 105.9,150.1 105.6,151.7 105.2,153.5 104.8,155.4 104.4,157.6 104.0,159.9 103.5,162.2 103.1,164.4 102.8,166.5 102.4,168.2 102.2,169.4" fill="#80df7e" stroke="none"/><polygon points="93.0,174.5 93.2,173.1 93.5,171.2 93.9,169.0 94.3,166.5 94.7,163.9 95.1,161.3 95.6,158.8 96.0,156.5 96.3,154.4 96.7,152.3 97.1,150.3 97.4,148.2 97.8,146.3 98.2,144.3 98.6,142.4 98.9,140.6 99.3,138.8 99.7,136.9 100.2,135.0 100.3,134.5 102.6,135.1 99.0,127.0 92.1,132.6 94.5,133.1 94.3,133.7 93.9,135.6 93.5,137.5 93.1,139.4 92.7,141.3 92.3,143.2 91.9,145.1 91.6,147.1 91.2,149.2 90.8,151.3 90.4,153.4 90.0,155.5 89.6,157.8 89.2,160.3 88.8,162.9 88.4,165.5 87.9,168.0 87.6,170.2 87.3,172.1 87.0,173.5" fill="#5cd65a" stroke="#379a37" stroke-width="0.6" stroke-linejoin="round"/><polygon points="93.0,174.5 93.2,173.1 93.5,171.2 93.9,169.0 94.3,166.5 94.7,163.9 95.1,161.3 95.6,158.8 96.0,156.5 96.3,154.4 96.7,152.3 97.1,150.3 97.4,148.2 97.8,146.3 98.2,144.3 98.6,142.4 98.9,140.6 99.3,138.8 99.7,136.9 100.2,135.0 100.3,134.5 99.6,134.3 99.4,134.8 99.0,136.7 98.6,138.6 98.2,140.5 97.8,142.3 97.5,144.2 97.1,146.1 96.7,148.1 96.3,150.1 96.0,152.2 95.6,154.3 95.2,156.4 94.8,158.7 94.4,161.2 94.0,163.8 93.5,166.4 93.1,168.8 92.8,171.1 92.5,173.0 92.2,174.4" fill="#80df7e" stroke="none"/><defs><linearGradient id="hg101" gradientUnits="userSpaceOnUse" x1="134.3" y1="148.2" x2="113.7" y2="151.8"><stop offset="0" stop-color="#4bbb4a"/><stop offset="0.55" stop-color="#6ddc6c"/><stop offset="1" stop-color="#4bbb4a"/></linearGradient></defs><polygon points="116.1,159.9 116.2,159.8 116.4,159.7 116.8,159.5 117.4,159.4 118.1,159.2 118.9,159.1 119.8,159.0 120.9,158.9 122.0,158.9 123.2,158.8 124.5,158.9 125.8,159.0 127.0,159.1 128.3,159.3 129.6,159.6 130.7,159.9 131.9,160.3 132.9,160.7 133.8,161.2 134.6,161.8 135.2,162.4 135.7,163.1 136.0,163.8 136.2,164.5 134.6,155.7 134.5,154.9 134.1,154.2 133.6,153.6 133.0,152.9 132.2,152.4 131.3,151.9 130.3,151.4 129.2,151.0 128.0,150.7 126.8,150.4 125.5,150.2 124.2,150.1 122.9,150.0 121.7,150.0 120.4,150.0 119.3,150.0 118.3,150.1 117.3,150.2 116.5,150.4 115.8,150.5 115.3,150.7 114.9,150.8 114.6,151.0 114.5,151.1" fill="#379a37" stroke="#379a37" stroke-width="0.5" stroke-linejoin="round"/><polygon points="118.8,175.4 119.0,175.2 119.2,175.1 119.7,175.0 120.3,174.8 121.0,174.7 121.9,174.5 122.8,174.4 123.9,174.3 125.1,174.3 126.3,174.3 127.5,174.4 128.8,174.5 130.1,174.6 131.4,174.8 132.6,175.1 133.8,175.5 134.9,175.9 135.9,176.3 136.7,176.8 137.5,177.4 138.1,178.1 138.5,178.7 138.8,179.4 139.0,180.2 137.4,171.3 137.3,170.6 137.0,169.9 136.5,169.2 135.9,168.6 135.2,168.0 134.3,167.5 133.3,167.0 132.2,166.6 131.1,166.2 129.8,166.0 128.6,165.7 127.3,165.6 126.0,165.5 124.7,165.4 123.5,165.4 122.3,165.5 121.3,165.6 120.3,165.7 119.4,165.8 118.7,165.9 118.1,166.1 117.7,166.2 117.4,166.4 117.3,166.5" fill="#379a37" stroke="#379a37" stroke-width="0.5" stroke-linejoin="round"/><polygon points="125.3,157.6 124.2,158.2 123.0,158.6 121.9,159.0 120.8,159.3 119.8,159.6 118.9,159.8 118.1,160.0 117.4,160.0 116.8,160.1 116.4,160.1 116.2,160.0 116.1,159.9 114.5,151.1 114.6,151.2 114.9,151.2 115.3,151.2 115.8,151.2 116.5,151.1 117.3,150.9 118.2,150.7 119.2,150.5 120.3,150.1 121.4,149.7 122.6,149.3 123.8,148.8" fill="url(#hg101)" stroke="#4bbb4a" stroke-width="0.5" stroke-linejoin="round"/><polygon points="136.2,164.5 136.2,165.3 136.1,166.1 135.8,166.9 135.3,167.7 134.7,168.5 134.0,169.2 133.2,170.0 132.2,170.7 131.2,171.4 130.1,172.1 128.9,172.7 127.8,173.2 126.6,173.7 125.4,174.2 124.3,174.6 123.2,174.9 122.3,175.1 121.4,175.3 120.6,175.4 120.0,175.5 119.4,175.5 119.1,175.5 118.9,175.5 118.8,175.4 117.3,166.5 117.3,166.6 117.5,166.7 117.9,166.7 118.4,166.7 119.0,166.6 119.8,166.4 120.7,166.3 121.7,166.0 122.7,165.7 123.9,165.3 125.0,164.9 126.2,164.4 127.4,163.8 128.5,163.2 129.6,162.6 130.6,161.9 131.6,161.1 132.4,160.4 133.2,159.6 133.8,158.8 134.2,158.0 134.5,157.2 134.7,156.4 134.6,155.7" fill="url(#hg101)" stroke="#4bbb4a" stroke-width="0.5" stroke-linejoin="round"/><polygon points="139.0,180.2 138.9,181.0 138.7,181.7 138.4,182.5 137.9,183.3 137.3,184.1 136.5,184.9 135.6,185.7 134.7,186.4 133.6,187.1 132.5,187.7 131.3,188.3 130.2,188.8 129.0,189.3 127.8,189.7 126.7,190.1 125.7,190.4 124.7,190.6 123.9,190.8 123.1,190.9 122.5,191.0 122.1,191.0 120.5,182.1 121.0,182.1 121.6,182.1 122.3,181.9 123.2,181.8 124.1,181.5 125.2,181.2 126.3,180.9 127.4,180.5 128.6,180.0 129.8,179.4 130.9,178.8 132.0,178.2 133.1,177.5 134.1,176.8 134.9,176.0 135.7,175.3 136.3,174.5 136.8,173.7 137.2,172.9 137.4,172.1 137.4,171.3" fill="url(#hg101)" stroke="#4bbb4a" stroke-width="0.5" stroke-linejoin="round"/><path d="M130.0,184.0 L128.0,190.0" fill="none" stroke="#5cd65a" stroke-width="2" stroke-linecap="round" stroke-linejoin="round"/><path d="M118.0,130.0 L118.5,130.5 L119.1,131.1 L119.8,131.8 L120.6,132.6 L121.5,133.5 L122.4,134.4 L123.2,135.2 L124.0,136.0 L124.8,136.7 L125.5,137.5 L126.3,138.2 L127.1,138.9 L127.9,139.6 L128.6,140.4 L129.3,141.2 L130.0,142.0 L130.6,143.0 L131.2,144.0 L131.8,145.2 L132.4,146.4 L132.9,147.5 L133.3,148.5 L133.7,149.4 L134.0,150.0" fill="none" stroke="#5cd65a" stroke-width="2" stroke-linecap="round" stroke-linejoin="round"/><polygon points="79.5,161.7 80.0,160.9 80.8,159.8 81.6,158.5 82.6,157.1 83.6,155.7 84.6,154.3 85.5,152.9 86.4,151.8 87.1,150.8 87.9,149.9 88.6,149.1 89.3,148.3 90.0,147.5 90.7,146.7 91.4,145.9 92.2,145.1 93.0,144.2 94.0,143.2 94.1,143.0 95.8,144.8 97.0,136.0 88.2,137.1 89.9,138.8 89.7,139.0 88.7,140.0 87.8,140.9 87.0,141.8 86.2,142.7 85.5,143.5 84.7,144.3 84.0,145.2 83.2,146.1 82.4,147.1 81.6,148.2 80.7,149.4 79.7,150.8 78.7,152.3 77.7,153.7 76.7,155.2 75.8,156.4 75.1,157.5 74.5,158.3" fill="#5cd65a" stroke="#379a37" stroke-width="0.6" stroke-linejoin="round"/><polygon points="79.5,161.7 80.0,160.9 80.8,159.8 81.6,158.5 82.6,157.1 83.6,155.7 84.6,154.3 85.5,152.9 86.4,151.8 87.1,150.8 87.9,149.9 88.6,149.1 89.3,148.3 90.0,147.5 90.7,146.7 91.4,145.9 92.2,145.1 93.0,144.2 94.0,143.2 94.1,143.0 93.6,142.5 93.5,142.7 92.5,143.6 91.6,144.5 90.9,145.4 90.1,146.2 89.4,147.0 88.7,147.8 88.0,148.6 87.3,149.5 86.6,150.4 85.8,151.4 84.9,152.5 84.0,153.8 83.0,155.3 82.0,156.7 81.0,158.1 80.1,159.4 79.4,160.5 78.9,161.3" fill="#80df7e" stroke="none"/><polygon points="72.1,154.1 72.6,153.6 73.2,153.0 73.9,152.3 74.7,151.5 75.6,150.6 76.4,149.8 77.3,148.9 78.1,148.1 78.8,147.4 79.6,146.7 80.3,146.0 81.0,145.3 81.8,144.6 82.6,143.9 83.4,143.1 84.4,142.3 85.4,141.4 86.5,140.4 87.7,139.4 88.9,138.4 90.1,137.4 91.4,136.4 92.7,135.3 93.9,134.3 95.2,133.3 96.6,132.2 98.0,131.0 98.4,130.7 99.9,132.6 102.0,124.0 93.2,124.1 94.7,126.0 94.3,126.3 92.8,127.5 91.4,128.6 90.1,129.7 88.9,130.7 87.6,131.7 86.3,132.8 85.1,133.8 83.8,134.8 82.6,135.9 81.5,136.8 80.4,137.7 79.4,138.6 78.5,139.4 77.7,140.2 76.9,140.9 76.2,141.7 75.4,142.4 74.7,143.1 73.9,143.9 73.1,144.7 72.2,145.5 71.3,146.4 70.5,147.3 69.7,148.1 68.9,148.8 68.3,149.4 67.9,149.9" fill="#5cd65a" stroke="#379a37" stroke-width="0.6" stroke-linejoin="round"/><polygon points="72.1,154.1 72.6,153.6 73.2,153.0 73.9,152.3 74.7,151.5 75.6,150.6 76.4,149.8 77.3,148.9 78.1,148.1 78.8,147.4 79.6,146.7 80.3,146.0 81.0,145.3 81.8,144.6 82.6,143.9 83.4,143.1 84.4,142.3 85.4,141.4 86.5,140.4 87.7,139.4 88.9,138.4 90.1,137.4 91.4,136.4 92.7,135.3 93.9,134.3 95.2,133.3 96.6,132.2 98.0,131.0 98.4,130.7 97.9,130.1 97.6,130.4 96.1,131.6 94.7,132.7 93.4,133.7 92.2,134.8 90.9,135.8 89.7,136.8 88.4,137.9 87.2,138.9 86.0,139.9 84.9,140.8 83.9,141.7 82.9,142.5 82.1,143.3 81.3,144.0 80.5,144.8 79.8,145.5 79.1,146.2 78.3,146.9 77.6,147.6 76.8,148.4 75.9,149.2 75.0,150.1 74.2,151.0 73.4,151.8 72.7,152.5 72.1,153.1 71.6,153.6" fill="#80df7e" stroke="none"/><polygon points="66.3,145.9 66.7,145.4 67.4,144.7 68.1,143.8 68.9,142.9 69.8,141.9 70.6,140.8 71.5,139.9 72.3,139.0 73.0,138.2 73.7,137.4 74.4,136.6 75.1,135.8 75.8,135.0 76.6,134.2 77.4,133.3 78.2,132.4 79.1,131.5 80.1,130.4 81.2,129.3 82.2,128.1 83.3,127.0 84.3,125.9 85.3,125.0 86.1,124.1 86.8,123.4 87.5,122.8 88.0,122.3 88.6,121.8 89.1,121.4 89.7,120.9 90.2,120.5 90.9,119.9 91.3,119.6 92.7,121.5 95.0,113.0 86.2,113.0 87.6,114.9 87.1,115.3 86.5,115.8 85.8,116.3 85.3,116.8 84.7,117.3 84.1,117.8 83.4,118.4 82.7,119.1 81.9,119.9 81.0,120.8 80.0,121.8 79.0,122.9 77.9,124.0 76.8,125.2 75.7,126.3 74.7,127.4 73.8,128.4 73.0,129.3 72.2,130.1 71.4,131.0 70.7,131.8 69.9,132.6 69.2,133.4 68.5,134.2 67.7,135.0 66.9,135.9 66.1,136.9 65.2,138.0 64.3,139.0 63.5,139.9 62.8,140.8 62.2,141.5 61.7,142.1" fill="#5cd65a" stroke="#379a37" stroke-width="0.6" stroke-linejoin="round"/><polygon points="66.3,145.9 66.7,145.4 67.4,144.7 68.1,143.8 68.9,142.9 69.8,141.9 70.6,140.8 71.5,139.9 72.3,139.0 73.0,138.2 73.7,137.4 74.4,136.6 75.1,135.8 75.8,135.0 76.6,134.2 77.4,133.3 78.2,132.4 79.1,131.5 80.1,130.4 81.2,129.3 82.2,128.1 83.3,127.0 84.3,125.9 85.3,125.0 86.1,124.1 86.8,123.4 87.5,122.8 88.0,122.3 88.6,121.8 89.1,121.4 89.7,120.9 90.2,120.5 90.9,119.9 91.3,119.6 90.8,119.0 90.4,119.3 89.8,119.9 89.2,120.4 88.6,120.8 88.1,121.3 87.5,121.7 87.0,122.3 86.3,122.9 85.6,123.6 84.7,124.5 83.8,125.4 82.8,126.5 81.7,127.6 80.6,128.7 79.6,129.9 78.6,130.9 77.6,131.9 76.8,132.8 76.0,133.7 75.3,134.5 74.5,135.3 73.8,136.1 73.1,136.9 72.4,137.7 71.7,138.5 70.9,139.4 70.1,140.4 69.2,141.4 68.3,142.4 67.5,143.3 66.8,144.2 66.2,144.9 65.7,145.5" fill="#80df7e" stroke="none"/><path d="M92.0,113.0 L92.4,112.5 L93.0,111.9 L93.7,111.1 L94.5,110.2 L95.3,109.4 L96.2,108.5 L97.1,107.7 L98.0,107.0 L98.9,106.4 L99.9,105.8 L100.9,105.3 L101.9,104.8 L102.9,104.3 L104.0,103.8 L105.0,103.4 L106.0,103.0 L107.0,102.6 L108.0,102.3 L109.1,102.0 L110.1,101.7 L111.1,101.4 L112.1,101.2 L113.1,101.1 L114.0,101.0 L114.9,101.0 L115.8,101.1 L116.7,101.2 L117.5,101.4 L118.3,101.6 L119.0,101.8 L119.6,101.9 L120.0,102.0" fill="none" stroke="#5cd65a" stroke-width="2" stroke-linecap="round" stroke-linejoin="round"/><path d="M95.0,112.0 L95.5,111.8 L96.2,111.6 L97.1,111.3 L98.0,111.0 L99.0,110.7 L100.0,110.4 L101.0,110.2 L102.0,110.0 L103.0,109.9 L104.1,109.9 L105.3,109.9 L106.4,109.9 L107.5,109.9 L108.5,110.0 L109.4,110.0 L110.0,110.0" fill="none" stroke="#5cd65a" stroke-width="1.8" stroke-linecap="round" stroke-linejoin="round"/><path d="M56.0,150.0 L55.8,150.5 L55.4,151.1 L55.0,151.9 L54.6,152.8 L54.1,153.6 L53.7,154.5 L53.3,155.3 L53.0,156.0 L52.7,156.6 L52.5,157.0 L52.2,157.5 L52.0,157.8 L51.8,158.3 L51.7,158.7 L51.7,159.3 L51.8,160.0 L52.0,160.8 L52.4,161.8 L52.8,162.9 L53.3,164.0 L53.8,165.1 L54.4,166.3 L54.9,167.4 L55.4,168.4 L55.8,169.4 L56.2,170.4 L56.6,171.4 L57.0,172.4 L57.4,173.3 L57.8,174.2 L58.4,175.0 L59.0,175.6 L59.7,176.1 L60.6,176.6 L61.5,177.0 L62.5,177.3 L63.5,177.5 L64.4,177.6 L65.4,177.6 L66.2,177.4 L67.0,177.1 L67.8,176.6 L68.5,175.9 L69.2,175.2 L69.9,174.3 L70.5,173.5 L71.1,172.7 L71.6,172.0 L72.0,171.3 L72.3,170.6 L72.5,169.9 L72.7,169.2 L72.8,168.5 L73.0,167.8 L73.2,167.2 L73.4,166.6 L73.7,166.0 L74.1,165.5 L74.4,165.0 L74.8,164.5 L75.2,164.0 L75.5,163.6 L75.8,163.3 L76.0,163.0" fill="none" stroke="#5cd65a" stroke-width="1.9" stroke-linecap="round" stroke-linejoin="round"/><path d="M58.0,148.0 L58.3,148.5 L58.8,149.1 L59.3,149.8 L59.9,150.6 L60.5,151.5 L61.0,152.4 L61.6,153.2 L62.0,154.0 L62.3,154.8 L62.6,155.6 L62.8,156.5 L63.0,157.4 L63.2,158.2 L63.4,158.9 L63.7,159.5 L64.0,160.0 L64.4,160.3 L65.0,160.4 L65.5,160.4 L66.1,160.4 L66.7,160.3 L67.2,160.1 L67.7,160.0 L68.0,160.0" fill="none" stroke="#5cd65a" stroke-width="1.8" stroke-linecap="round" stroke-linejoin="round"/><polygon points="40.8,141.6 41.6,141.8 42.6,142.2 43.9,142.6 45.2,143.0 46.6,143.5 48.0,144.0 49.3,144.5 50.6,145.0 51.8,145.5 53.0,146.0 54.2,146.6 55.4,147.1 56.5,147.7 57.7,148.3 58.9,149.0 60.0,149.7 61.2,150.4 62.4,151.3 63.6,152.2 64.8,153.1 66.1,154.1 67.3,155.0 68.5,156.0 69.6,156.9 70.7,157.8 71.7,158.6 72.7,159.5 73.7,160.4 74.7,161.2 75.6,162.1 76.5,162.9 77.5,163.8 78.4,164.6 79.4,165.6 80.5,166.5 81.4,167.4 82.4,168.3 83.2,169.1 83.9,169.7 84.4,170.2 89.6,164.8 89.0,164.3 88.3,163.6 87.5,162.8 86.6,161.9 85.6,161.0 84.5,160.1 83.5,159.1 82.5,158.2 81.6,157.4 80.6,156.5 79.7,155.6 78.7,154.8 77.7,153.9 76.6,152.9 75.5,152.0 74.4,151.1 73.2,150.1 72.0,149.2 70.7,148.2 69.4,147.1 68.1,146.1 66.7,145.2 65.4,144.2 64.0,143.3 62.6,142.5 61.3,141.8 60.0,141.0 58.6,140.4 57.3,139.8 56.0,139.2 54.7,138.6 53.4,138.0 52.0,137.5 50.5,136.9 49.0,136.4 47.6,135.9 46.2,135.4 45.0,135.0 43.9,134.7 43.2,134.4" fill="#5cd65a" stroke="#379a37" stroke-width="0.6" stroke-linejoin="round"/><polygon points="40.8,141.6 41.6,141.8 42.6,142.2 43.9,142.6 45.2,143.0 46.6,143.5 48.0,144.0 49.3,144.5 50.6,145.0 51.8,145.5 53.0,146.0 54.2,146.6 55.4,147.1 56.5,147.7 57.7,148.3 58.9,149.0 60.0,149.7 61.2,150.4 62.4,151.3 63.6,152.2 64.8,153.1 66.1,154.1 67.3,155.0 68.5,156.0 69.6,156.9 70.7,157.8 71.7,158.6 72.7,159.5 73.7,160.4 74.7,161.2 75.6,162.1 76.5,162.9 77.5,163.8 78.4,164.6 79.4,165.6 80.5,166.5 81.4,167.4 82.4,168.3 83.2,169.1 83.9,169.7 84.4,170.2 85.1,169.6 84.5,169.1 83.8,168.4 83.0,167.6 82.1,166.7 81.1,165.8 80.1,164.9 79.1,164.0 78.1,163.1 77.2,162.2 76.2,161.4 75.3,160.5 74.3,159.7 73.3,158.8 72.3,157.9 71.3,157.1 70.2,156.2 69.1,155.3 67.9,154.3 66.7,153.3 65.4,152.4 64.2,151.4 62.9,150.5 61.7,149.7 60.5,148.9 59.3,148.2 58.1,147.5 57.0,146.9 55.8,146.3 54.6,145.7 53.4,145.2 52.1,144.6 50.9,144.1 49.7,143.6 48.3,143.1 46.9,142.6 45.5,142.1 44.1,141.7 42.9,141.3 41.9,140.9 41.1,140.7" fill="#80df7e" stroke="none"/><path d="M42.5,136.0 L42.8,135.8 L43.1,135.4 L43.5,135.0 L44.0,134.5 L44.5,134.1 L45.0,133.6 L45.5,133.3 L46.0,133.0 L46.5,132.8 L46.9,132.6 L47.4,132.5 L47.9,132.4 L48.4,132.4 L48.9,132.4 L49.5,132.4 L50.0,132.5 L50.6,132.7 L51.2,132.9 L51.8,133.1 L52.5,133.4 L53.1,133.7 L53.7,134.1 L54.2,134.5 L54.7,135.0 L55.1,135.5 L55.5,136.2 L55.8,136.9 L56.0,137.7 L56.3,138.4 L56.5,139.0 L56.7,139.6 L56.8,140.0" fill="none" stroke="#5cd65a" stroke-width="1.9" stroke-linecap="round" stroke-linejoin="round"/></g><polygon points="427.5,132.0 427.5,130.9 427.5,129.4 427.5,127.7 427.4,125.7 427.4,123.7 427.4,121.7 427.5,119.8 427.5,118.1 427.6,116.5 427.6,114.9 427.7,113.3 427.8,111.8 427.9,110.4 428.1,109.0 428.2,107.8 428.4,106.7 428.7,105.8 429.0,105.0 429.3,104.1 429.7,103.3 430.1,102.5 430.5,101.8 430.9,101.1 431.1,100.5 424.9,97.5 424.6,97.9 424.3,98.5 423.9,99.3 423.4,100.2 422.9,101.3 422.4,102.5 421.9,103.8 421.6,105.3 421.3,106.7 421.1,108.2 420.9,109.7 420.8,111.3 420.7,112.9 420.6,114.6 420.6,116.2 420.5,117.9 420.5,119.7 420.4,121.7 420.4,123.7 420.4,125.8 420.5,127.7 420.5,129.5 420.5,130.9 420.5,132.0" fill="#5cd65a" stroke="#379a37" stroke-width="0.6" stroke-linejoin="round"/><polygon points="427.5,132.0 427.5,130.9 427.5,129.4 427.5,127.7 427.4,125.7 427.4,123.7 427.4,121.7 427.5,119.8 427.5,118.1 427.6,116.5 427.6,114.9 427.7,113.3 427.8,111.8 427.9,110.4 428.1,109.0 428.2,107.8 428.4,106.7 428.7,105.8 429.0,105.0 429.3,104.1 429.7,103.3 430.1,102.5 430.5,101.8 430.9,101.1 431.1,100.5 430.4,100.1 430.1,100.7 429.7,101.4 429.3,102.1 428.9,102.9 428.5,103.8 428.1,104.7 427.8,105.6 427.6,106.6 427.4,107.7 427.2,108.9 427.0,110.3 426.9,111.7 426.8,113.3 426.8,114.9 426.7,116.5 426.6,118.1 426.6,119.8 426.6,121.7 426.6,123.7 426.6,125.7 426.6,127.7 426.6,129.4 426.6,130.9 426.6,132.0" fill="#80df7e" stroke="none"/><defs><linearGradient id="hg102" gradientUnits="userSpaceOnUse" x1="425.7" y1="119.3" x2="416.3" y2="136.7"><stop offset="0" stop-color="#4bbb4a"/><stop offset="0.55" stop-color="#6ddc6c"/><stop offset="1" stop-color="#4bbb4a"/></linearGradient></defs><polygon points="425.3,140.6 425.2,140.4 425.2,140.2 425.3,139.7 425.4,139.2 425.7,138.6 426.1,137.9 426.5,137.1 427.1,136.3 427.7,135.4 428.5,134.5 429.3,133.7 430.2,132.8 431.2,132.0 432.2,131.2 433.2,130.5 434.3,129.9 435.4,129.4 436.5,129.1 437.6,128.8 438.7,128.7 439.8,128.7 440.8,128.8 441.7,129.1 442.6,129.5 433.8,124.7 432.9,124.3 432.0,124.0 431.0,123.9 429.9,123.9 428.9,124.0 427.8,124.3 426.7,124.6 425.6,125.1 424.5,125.8 423.4,126.4 422.4,127.2 421.4,128.0 420.5,128.9 419.7,129.8 419.0,130.6 418.3,131.5 417.7,132.3 417.3,133.1 416.9,133.8 416.6,134.4 416.5,135.0 416.4,135.4 416.4,135.7 416.5,135.8" fill="#379a37" stroke="#379a37" stroke-width="0.5" stroke-linejoin="round"/><polygon points="442.2,149.8 442.1,149.6 442.1,149.3 433.3,144.5 433.3,144.8 433.4,145.0" fill="#379a37" stroke="#379a37" stroke-width="0.5" stroke-linejoin="round"/><polygon points="429.2,132.5 428.9,133.7 428.6,134.8 428.3,135.9 427.9,136.9 427.5,137.8 427.1,138.6 426.7,139.3 426.4,139.8 426.0,140.2 425.7,140.5 425.5,140.6 425.3,140.6 416.5,135.8 416.7,135.8 416.9,135.7 417.2,135.4 417.6,135.0 417.9,134.5 418.3,133.8 418.7,133.0 419.1,132.1 419.5,131.1 419.9,130.0 420.2,128.9 420.4,127.7" fill="url(#hg102)" stroke="#4bbb4a" stroke-width="0.5" stroke-linejoin="round"/><polygon points="442.6,129.5 443.4,130.1 444.1,130.8 444.7,131.6 445.2,132.5 445.7,133.5 446.0,134.6 446.2,135.8 446.4,137.0 446.4,138.3 446.4,139.6 446.2,140.8 446.0,142.1 445.8,143.3 445.5,144.4 445.1,145.5 444.7,146.4 444.3,147.3 443.9,148.1 443.5,148.7 443.2,149.2 442.8,149.6 442.6,149.8 442.3,149.9 442.2,149.8 433.4,145.0 433.6,145.1 433.8,145.0 434.1,144.8 434.4,144.4 434.8,143.9 435.1,143.3 435.5,142.5 435.9,141.7 436.3,140.7 436.7,139.6 437.0,138.5 437.3,137.3 437.5,136.0 437.6,134.8 437.6,133.5 437.6,132.3 437.5,131.0 437.2,129.9 436.9,128.8 436.5,127.7 435.9,126.8 435.3,126.0 434.6,125.3 433.8,124.7" fill="url(#hg102)" stroke="#4bbb4a" stroke-width="0.5" stroke-linejoin="round"/><path d="M428.0,99.0 L428.5,99.4 L429.1,99.8 L429.8,100.4 L430.6,101.0 L431.5,101.7 L432.4,102.4 L433.2,103.2 L434.0,104.0 L434.8,104.9 L435.5,105.8 L436.3,106.8 L437.1,107.8 L437.9,108.9 L438.6,109.9 L439.3,111.0 L440.0,112.0 L440.6,113.1 L441.2,114.2 L441.8,115.4 L442.4,116.5 L442.9,117.6 L443.3,118.6 L443.7,119.4 L444.0,120.0" fill="none" stroke="#5cd65a" stroke-width="2" stroke-linecap="round" stroke-linejoin="round"/><path d="M282.0,59.8 L281.1,59.9 L279.9,60.1 L278.5,60.3 L277.0,60.5 L275.3,60.7 L273.7,61.0 L272.2,61.2 L270.8,61.4 L269.6,61.6 L268.3,61.8 L267.1,61.9 L266.0,62.1 L264.8,62.3 L263.8,62.5 L262.9,62.7 L262.0,63.0 L261.3,63.3 L260.6,63.6 L260.0,64.0 L259.6,64.3 L259.1,64.7 L258.7,65.1 L258.4,65.6 L258.0,66.0 L257.7,66.4 L257.3,66.9 L257.0,67.3 L256.8,67.8 L256.5,68.3 L256.4,68.9 L256.4,69.4 L256.4,70.0 L256.5,70.7 L256.8,71.5 L257.1,72.3 L257.5,73.2 L258.0,74.0 L258.5,74.7 L259.0,75.3 L259.6,75.8 L260.3,76.1 L261.0,76.4 L261.8,76.6 L262.7,76.7 L263.6,76.6 L264.4,76.5 L265.3,76.2 L266.0,75.8 L266.7,75.2 L267.3,74.3 L268.0,73.2 L268.6,72.0 L269.2,70.8 L269.8,69.7 L270.3,68.7 L270.8,67.8 L271.3,67.1 L271.8,66.5 L272.3,65.9 L272.7,65.4 L273.1,65.0 L273.5,64.6 L273.8,64.3 L274.0,64.0" fill="none" stroke="#26dae4" stroke-width="1.9" stroke-linecap="round" stroke-linejoin="round"/><path d="M282.0,67.0 L281.3,67.4 L280.5,67.9 L279.4,68.6 L278.2,69.3 L277.0,70.1 L275.8,70.8 L274.8,71.4 L274.0,72.0 L273.4,72.5 L272.9,72.8 L272.5,73.2 L272.2,73.5 L271.9,73.8 L271.6,74.1 L271.2,74.5 L270.8,75.0 L270.2,75.6 L269.5,76.2 L268.8,76.9 L268.0,77.7 L267.3,78.4 L266.7,79.2 L266.2,79.9 L266.0,80.6 L266.0,81.3 L266.2,82.0 L266.5,82.7 L267.0,83.4 L267.5,84.1 L268.1,84.7 L268.7,85.1 L269.2,85.4 L269.8,85.5 L270.5,85.3 L271.2,85.0 L272.0,84.6 L272.7,84.2 L273.3,83.9 L273.8,83.7 L274.0,83.8 L274.0,84.1 L273.7,84.7 L273.2,85.3 L272.7,86.1 L272.1,86.9 L271.6,87.6 L271.1,88.2 L270.8,88.6" fill="none" stroke="#26dae4" stroke-width="1.9" stroke-linecap="round" stroke-linejoin="round"/><defs><linearGradient id="hg103" gradientUnits="userSpaceOnUse" x1="278.6" y1="89.1" x2="263.4" y2="82.9"><stop offset="0" stop-color="#1dbac4"/><stop offset="0.55" stop-color="#3ce1ea"/><stop offset="1" stop-color="#1dbac4"/></linearGradient></defs><polygon points="260.8,91.1 260.8,91.2 261.0,91.4 261.3,91.6 261.6,91.9 262.1,92.2 262.6,92.6 263.3,93.1 263.9,93.6 264.7,94.2 265.4,94.8 266.2,95.5 267.0,96.2 267.7,97.0 268.5,97.8 269.1,98.6 269.7,99.4 270.3,100.2 270.7,101.0 271.1,101.8 271.3,102.6 271.5,103.3 271.5,104.1 271.4,104.7 271.2,105.4 274.2,98.0 274.4,97.3 274.5,96.7 274.5,95.9 274.4,95.2 274.1,94.4 273.8,93.6 273.3,92.8 272.8,92.0 272.2,91.1 271.5,90.3 270.8,89.6 270.0,88.8 269.2,88.1 268.5,87.4 267.7,86.8 267.0,86.2 266.3,85.7 265.7,85.2 265.1,84.8 264.7,84.5 264.3,84.2 264.0,84.0 263.9,83.8 263.8,83.7" fill="#12949e" stroke="#12949e" stroke-width="0.5" stroke-linejoin="round"/><polygon points="253.9,108.1 254.0,108.2 254.1,108.4 257.2,101.0 257.0,100.8 256.9,100.6" fill="#12949e" stroke="#12949e" stroke-width="0.5" stroke-linejoin="round"/><polygon points="268.6,91.8 267.6,91.7 266.6,91.7 265.6,91.6 264.7,91.5 263.8,91.4 263.1,91.3 262.4,91.2 261.9,91.1 261.4,91.0 261.1,91.0 260.9,91.0 260.8,91.1 263.8,83.7 263.9,83.6 264.1,83.6 264.5,83.6 264.9,83.7 265.5,83.8 266.1,83.9 266.9,84.0 267.7,84.1 268.6,84.2 269.6,84.2 270.6,84.3 271.7,84.3" fill="url(#hg103)" stroke="#1dbac4" stroke-width="0.5" stroke-linejoin="round"/><polygon points="271.2,105.4 270.8,106.0 270.4,106.5 269.8,107.0 269.1,107.4 268.4,107.7 267.5,108.0 266.6,108.3 265.6,108.5 264.6,108.6 263.5,108.7 262.5,108.7 261.4,108.7 260.4,108.6 259.3,108.6 258.4,108.5 257.5,108.4 256.7,108.3 256.0,108.1 255.3,108.1 254.8,108.0 254.4,107.9 254.1,107.9 253.9,108.0 253.9,108.1 256.9,100.6 257.0,100.6 257.1,100.5 257.4,100.5 257.8,100.6 258.4,100.7 259.0,100.7 259.7,100.8 260.5,101.0 261.4,101.1 262.4,101.1 263.4,101.2 264.4,101.3 265.5,101.3 266.6,101.2 267.6,101.2 268.6,101.1 269.6,100.9 270.5,100.6 271.4,100.3 272.2,100.0 272.8,99.6 273.4,99.1 273.9,98.6 274.2,98.0" fill="url(#hg103)" stroke="#1dbac4" stroke-width="0.5" stroke-linejoin="round"/><path d="M262.0,107.0 L262.3,107.2 L262.7,107.5 L263.2,107.9 L263.7,108.3 L264.3,108.7 L264.8,109.1 L265.4,109.4 L266.0,109.5 L266.5,109.5 L267.1,109.5 L267.6,109.4 L268.1,109.2 L268.7,109.0 L269.4,108.7 L270.0,108.4 L270.8,108.0 L271.7,107.6 L272.7,107.1 L273.8,106.5 L275.0,105.9 L276.1,105.2 L277.2,104.5 L278.1,103.8 L278.8,103.0 L279.3,102.1 L279.6,101.2 L279.7,100.1 L279.8,99.1 L279.8,98.0 L279.9,97.0 L280.1,95.9 L280.4,95.0 L280.8,94.1 L281.3,93.1 L281.9,92.2 L282.5,91.3 L283.1,90.5 L283.8,89.7 L284.5,89.1 L285.2,88.6 L285.9,88.3 L286.6,88.0 L287.3,87.9 L288.1,87.9 L288.9,88.0 L289.7,88.1 L290.6,88.3 L291.6,88.6 L292.7,89.0 L294.0,89.5 L295.3,90.0 L296.7,90.7 L298.0,91.4 L299.3,92.1 L300.4,92.8 L301.2,93.4 L301.7,94.0 L302.0,94.8 L302.0,95.5 L302.0,96.2 L302.0,96.9 L302.0,97.5 L302.3,97.9 L302.8,98.2 L303.7,98.3 L304.9,98.2 L306.2,98.0 L307.7,97.7 L309.2,97.4 L310.5,97.0 L311.6,96.8 L312.4,96.6" fill="none" stroke="#26dae4" stroke-width="1.9" stroke-linecap="round" stroke-linejoin="round"/><path d="M282.0,69.4 L282.5,70.0 L283.3,70.8 L284.3,71.7 L285.3,72.8 L286.3,73.9 L287.2,75.1 L287.9,76.3 L288.4,77.4 L288.6,78.6 L288.5,79.9 L288.3,81.3 L288.0,82.7 L287.6,84.0 L287.3,85.2 L287.0,86.2 L286.8,87.0" fill="none" stroke="#26dae4" stroke-width="1.9" stroke-linecap="round" stroke-linejoin="round"/><path d="M304.0,100.0 L304.1,100.6 L304.2,101.4 L304.4,102.4 L304.6,103.5 L304.8,104.6 L304.9,105.8 L305.0,106.9 L305.0,108.0 L304.9,109.0 L304.7,110.0 L304.4,111.0 L304.1,112.1 L303.8,113.1 L303.4,114.1 L303.2,115.0 L303.0,116.0 L302.9,117.0 L302.7,117.9 L302.6,118.9 L302.5,119.8 L302.4,120.7 L302.5,121.6 L302.6,122.3 L302.8,123.0 L303.2,123.6 L303.7,124.1 L304.3,124.5 L305.0,124.9 L305.8,125.2 L306.5,125.4 L307.1,125.5 L307.6,125.5 L308.0,125.3 L308.4,125.0 L308.8,124.5 L309.1,123.9 L309.4,123.3 L309.6,122.8 L309.8,122.3 L310.0,122.0" fill="none" stroke="#26dae4" stroke-width="1.9" stroke-linecap="round" stroke-linejoin="round"/><polygon points="337.6,80.4 336.7,80.8 335.6,81.4 334.2,82.1 332.7,82.9 331.1,83.8 329.5,84.7 327.9,85.6 326.4,86.4 325.0,87.4 323.5,88.4 322.0,89.4 321.9,89.5 320.9,88.0 318.0,96.0 326.5,95.8 325.4,94.3 325.5,94.3 326.9,93.3 328.3,92.4 329.6,91.6 330.9,90.8 332.4,89.9 334.0,89.1 335.5,88.2 337.0,87.4 338.4,86.7 339.5,86.1 340.4,85.6" fill="#26dae4" stroke="#12949e" stroke-width="0.6" stroke-linejoin="round"/><polygon points="337.6,80.4 336.7,80.8 335.6,81.4 334.2,82.1 332.7,82.9 331.1,83.8 329.5,84.7 327.9,85.6 326.4,86.4 325.0,87.4 323.5,88.4 322.0,89.4 321.9,89.5 322.4,90.1 322.5,90.0 323.9,89.0 325.4,88.0 326.8,87.1 328.3,86.2 329.8,85.3 331.5,84.4 333.1,83.6 334.6,82.8 336.0,82.1 337.1,81.5 337.9,81.0" fill="#56e2ea" stroke="none"/><polygon points="314.5,102.2 315.1,101.5 316.0,100.7 317.0,99.7 318.1,98.6 319.3,97.5 320.6,96.4 321.8,95.3 322.9,94.3 324.1,93.4 325.4,92.4 326.9,91.3 327.0,91.2 328.1,92.7 331.0,84.7 322.5,84.8 323.5,86.3 323.3,86.5 321.8,87.5 320.4,88.6 319.1,89.7 317.8,90.8 316.5,91.9 315.2,93.1 314.0,94.3 312.8,95.4 311.8,96.4 311.0,97.2 310.3,97.8" fill="#26dae4" stroke="#12949e" stroke-width="0.6" stroke-linejoin="round"/><polygon points="314.5,102.2 315.1,101.5 316.0,100.7 317.0,99.7 318.1,98.6 319.3,97.5 320.6,96.4 321.8,95.3 322.9,94.3 324.1,93.4 325.4,92.4 326.9,91.3 327.0,91.2 326.6,90.6 326.4,90.7 325.0,91.8 323.6,92.8 322.4,93.7 321.3,94.7 320.1,95.8 318.8,96.9 317.6,98.1 316.5,99.2 315.5,100.2 314.6,101.0 314.0,101.6" fill="#56e2ea" stroke="none"/><path d="M339.0,86.0 L339.5,86.5 L340.2,87.2 L341.0,88.0 L341.9,88.9 L342.8,89.9 L343.9,90.7 L344.9,91.4 L346.0,92.0 L347.1,92.4 L348.3,92.6 L349.5,92.8 L350.8,92.9 L352.1,92.9 L353.4,92.9 L354.7,93.0 L356.0,93.0 L357.3,93.0 L358.5,93.0 L359.8,93.0 L361.1,92.9 L362.4,92.9 L363.6,92.9 L364.8,92.9 L366.0,93.0 L367.1,93.2 L368.2,93.4 L369.2,93.6 L370.2,93.9 L371.2,94.2 L372.1,94.5 L373.1,94.8 L374.0,95.0 L375.0,95.2 L376.0,95.3 L377.0,95.5 L378.0,95.6 L378.9,95.7 L379.8,95.8 L380.5,95.9 L381.0,96.0" fill="none" stroke="#26dae4" stroke-width="1.9" stroke-linecap="round" stroke-linejoin="round"/><polygon points="279.8,69.8 281.5,70.4 283.7,71.1 286.4,72.0 289.5,73.0 292.6,74.0 295.8,75.0 298.9,76.0 301.7,76.8 304.3,77.6 306.8,78.2 309.3,78.9 311.7,79.5 314.0,80.1 316.4,80.6 318.6,81.2 320.9,81.9 323.3,82.5 325.9,83.3 328.5,84.1 331.0,84.9 332.1,85.2 331.5,87.1 340.0,83.5 335.1,75.7 334.5,77.6 333.4,77.2 330.8,76.4 328.2,75.6 325.6,74.9 323.1,74.1 320.7,73.5 318.3,72.9 316.0,72.3 313.6,71.7 311.2,71.1 308.8,70.5 306.4,69.9 303.9,69.2 301.2,68.3 298.2,67.4 295.1,66.4 291.9,65.4 288.9,64.4 286.2,63.5 283.9,62.8 282.2,62.2" fill="#26dae4" stroke="#12949e" stroke-width="0.6" stroke-linejoin="round"/><polygon points="279.8,69.8 281.5,70.4 283.7,71.1 286.4,72.0 289.5,73.0 292.6,74.0 295.8,75.0 298.9,76.0 301.7,76.8 304.3,77.6 306.8,78.2 309.3,78.9 311.7,79.5 314.0,80.1 316.4,80.6 318.6,81.2 320.9,81.9 323.3,82.5 325.9,83.3 328.5,84.1 331.0,84.9 332.1,85.2 332.4,84.3 331.3,83.9 328.7,83.1 326.1,82.3 323.6,81.6 321.2,80.9 318.9,80.3 316.6,79.7 314.3,79.1 311.9,78.5 309.5,77.9 307.1,77.3 304.5,76.6 302.0,75.9 299.2,75.0 296.1,74.1 292.9,73.1 289.8,72.0 286.8,71.0 284.0,70.2 281.8,69.4 280.1,68.9" fill="#56e2ea" stroke="none"/><polygon points="280.7,61.0 281.9,61.1 283.4,61.2 285.3,61.3 287.3,61.4 289.5,61.5 291.7,61.7 293.7,61.8 295.7,62.0 297.4,62.1 299.1,62.2 300.6,62.3 302.1,62.4 303.6,62.5 305.2,62.7 307.0,63.0 309.0,63.4 311.5,63.9 314.4,64.6 317.5,65.4 320.6,66.2 323.8,67.1 326.9,68.0 329.8,69.0 332.4,69.9 334.7,70.8 336.9,71.8 339.1,72.9 341.1,73.9 343.1,75.0 345.0,76.2 346.9,77.3 348.8,78.4 350.6,79.5 352.4,80.6 354.2,81.8 356.0,82.9 357.6,84.0 359.0,85.0 360.3,85.9 361.3,86.5 364.1,82.9 363.3,82.1 362.3,81.1 361.0,79.8 359.5,78.4 357.9,77.0 356.2,75.5 354.4,74.0 352.6,72.6 350.9,71.3 349.0,70.0 347.1,68.7 345.1,67.3 342.9,65.9 340.7,64.6 338.2,63.3 335.6,62.1 332.7,60.9 329.6,59.8 326.3,58.8 323.0,57.8 319.7,56.9 316.6,56.0 313.6,55.2 311.0,54.6 308.6,54.1 306.5,53.8 304.5,53.5 302.8,53.4 301.1,53.3 299.6,53.2 298.0,53.1 296.3,53.0 294.4,52.9 292.3,52.7 290.1,52.6 287.9,52.4 285.8,52.3 284.0,52.2 282.4,52.1 281.3,52.0" fill="#26dae4" stroke="#12949e" stroke-width="0.6" stroke-linejoin="round"/><polygon points="280.7,61.0 281.9,61.1 283.4,61.2 285.3,61.3 287.3,61.4 289.5,61.5 291.7,61.7 293.7,61.8 295.7,62.0 297.4,62.1 299.1,62.2 300.6,62.3 302.1,62.4 303.6,62.5 305.2,62.7 307.0,63.0 309.0,63.4 311.5,63.9 314.4,64.6 317.5,65.4 320.6,66.2 323.8,67.1 326.9,68.0 329.8,69.0 332.4,69.9 334.7,70.8 336.9,71.8 339.1,72.9 341.1,73.9 343.1,75.0 345.0,76.2 346.9,77.3 348.8,78.4 350.6,79.5 352.4,80.6 354.2,81.8 356.0,82.9 357.6,84.0 359.0,85.0 360.3,85.9 361.3,86.5 361.7,86.0 360.7,85.4 359.4,84.5 358.0,83.5 356.4,82.4 354.7,81.2 352.9,80.0 351.1,78.8 349.2,77.7 347.4,76.6 345.5,75.4 343.6,74.2 341.6,73.1 339.6,72.0 337.4,70.9 335.2,69.9 332.8,69.0 330.2,68.0 327.3,67.0 324.2,66.1 320.9,65.2 317.7,64.3 314.7,63.5 311.8,62.9 309.3,62.3 307.2,61.9 305.3,61.6 303.7,61.4 302.2,61.2 300.7,61.2 299.2,61.1 297.5,61.0 295.7,60.9 293.8,60.7 291.7,60.6 289.6,60.4 287.4,60.3 285.4,60.1 283.5,60.0 282.0,59.9 280.8,59.9" fill="#56e2ea" stroke="none"/><path d="M362.7,84.7 L363.0,84.6 L363.4,84.4 L363.9,84.3 L364.5,84.1 L365.0,83.8 L365.5,83.6 L365.8,83.3 L366.0,83.0 L366.0,82.6 L365.9,82.1 L365.7,81.6 L365.4,81.0 L365.1,80.5 L364.7,80.1 L364.3,79.7 L364.0,79.5 L363.7,79.5 L363.2,79.6 L362.8,79.8 L362.4,80.0 L361.9,80.3 L361.6,80.6 L361.2,80.9 L361.0,81.0" fill="none" stroke="#26dae4" stroke-width="1.6" stroke-linecap="round" stroke-linejoin="round"/><defs><linearGradient id="hg104" gradientUnits="userSpaceOnUse" x1="280.5" y1="57.2" x2="290.3" y2="70.6"><stop offset="0" stop-color="#1dbac4"/><stop offset="0.55" stop-color="#3ce1ea"/><stop offset="1" stop-color="#1dbac4"/></linearGradient></defs><polygon points="293.9,67.0 294.4,66.6 294.8,66.0 295.2,65.3 295.5,64.6 295.7,63.8 295.8,62.9 295.9,61.9 295.9,60.9 295.8,59.9 295.7,58.8 295.5,57.8 295.2,56.7 295.0,55.7 294.7,54.7 294.4,53.8 294.1,52.9 293.9,52.1 293.6,51.3 293.4,50.7 293.2,50.2 293.1,49.7 293.0,49.4 293.0,49.2 293.1,49.0 285.0,54.9 284.9,55.1 284.9,55.3 285.0,55.6 285.1,56.1 285.3,56.6 285.5,57.2 285.8,58.0 286.1,58.8 286.3,59.6 286.6,60.6 286.9,61.6 287.2,62.6 287.4,63.6 287.6,64.7 287.7,65.8 287.8,66.8 287.8,67.8 287.8,68.7 287.6,69.6 287.4,70.5 287.1,71.2 286.8,71.9 286.3,72.4 285.8,72.9" fill="#12949e" stroke="#12949e" stroke-width="0.5" stroke-linejoin="round"/><polygon points="310.0,55.3 310.5,54.8 310.9,54.3 311.3,53.6 311.6,52.8 311.8,52.0 311.9,51.1 312.0,50.1 311.9,49.1 311.9,48.1 311.7,47.1 311.5,46.0 311.3,45.0 311.0,43.9 310.8,42.9 310.5,42.0 310.2,41.1 309.9,40.3 309.7,39.6 309.4,39.0 309.3,38.4 309.1,38.0 309.1,37.7 309.1,37.5 309.1,37.4 301.1,43.2 301.0,43.3 301.0,43.6 301.1,43.9 301.2,44.3 301.4,44.9 301.6,45.5 301.8,46.2 302.1,47.0 302.4,47.9 302.7,48.8 303.0,49.8 303.2,50.8 303.4,51.9 303.6,52.9 303.8,54.0 303.9,55.0 303.9,56.0 303.8,57.0 303.7,57.9 303.5,58.7 303.2,59.5 302.9,60.1 302.4,60.7 301.9,61.2" fill="#12949e" stroke="#12949e" stroke-width="0.5" stroke-linejoin="round"/><polygon points="326.1,43.6 326.6,43.1 327.0,42.5 327.4,41.9 327.7,41.1 327.9,40.3 328.0,39.3 328.0,38.4 328.0,37.4 327.9,36.3 327.8,35.3 327.6,34.2 327.4,33.2 327.1,32.2 326.8,31.2 326.5,30.3 326.2,29.4 326.0,28.6 325.7,27.9 325.5,27.3 325.3,26.7 325.2,26.3 325.1,26.0 325.1,25.8 325.2,25.7 317.1,31.5 317.1,31.6 317.1,31.9 317.1,32.2 317.2,32.6 317.4,33.1 317.6,33.8 317.9,34.5 318.2,35.3 318.4,36.1 318.7,37.1 319.0,38.1 319.3,39.1 319.5,40.1 319.7,41.2 319.8,42.2 319.9,43.3 319.9,44.3 319.9,45.2 319.8,46.1 319.6,47.0 319.3,47.7 318.9,48.4 318.5,49.0 318.0,49.5" fill="#12949e" stroke="#12949e" stroke-width="0.5" stroke-linejoin="round"/><polygon points="293.1,49.0 293.2,49.0 293.4,49.1 293.7,49.3 294.1,49.6 294.6,49.9 295.1,50.3 295.7,50.8 296.4,51.3 297.2,51.8 298.0,52.4 298.9,53.0 299.8,53.5 300.7,54.1 301.6,54.6 302.6,55.0 303.5,55.4 304.5,55.7 305.4,56.0 306.3,56.1 307.2,56.1 307.9,56.1 308.7,55.9 309.4,55.7 310.0,55.3 301.9,61.2 301.3,61.6 300.6,61.8 299.9,62.0 299.1,62.0 298.2,62.0 297.3,61.8 296.4,61.6 295.5,61.3 294.5,60.9 293.5,60.4 292.6,59.9 291.7,59.4 290.8,58.8 289.9,58.3 289.1,57.7 288.3,57.2 287.7,56.7 287.0,56.2 286.5,55.8 286.0,55.4 285.6,55.2 285.3,55.0 285.1,54.9 285.0,54.9" fill="url(#hg104)" stroke="#1dbac4" stroke-width="0.5" stroke-linejoin="round"/><polygon points="309.1,37.4 309.3,37.3 309.5,37.4 309.8,37.6 310.2,37.9 310.7,38.2 311.2,38.6 311.9,39.1 312.5,39.6 313.3,40.2 314.1,40.7 315.0,41.3 315.9,41.9 316.8,42.4 317.8,42.9 318.7,43.3 319.7,43.7 320.6,44.0 321.5,44.3 322.4,44.4 323.3,44.5 324.1,44.4 324.8,44.2 325.5,44.0 326.1,43.6 318.0,49.5 317.4,49.8 316.7,50.1 316.0,50.3 315.2,50.3 314.3,50.3 313.5,50.2 312.5,49.9 311.6,49.6 310.6,49.2 309.7,48.8 308.7,48.3 307.8,47.8 306.9,47.2 306.0,46.6 305.2,46.1 304.5,45.5 303.8,45.0 303.1,44.5 302.6,44.1 302.1,43.8 301.7,43.5 301.4,43.3 301.2,43.2 301.1,43.2" fill="url(#hg104)" stroke="#1dbac4" stroke-width="0.5" stroke-linejoin="round"/><polygon points="325.2,25.7 325.4,25.7 325.6,25.8 325.9,25.9 326.3,26.2 326.8,26.6 327.3,27.0 328.0,27.5 328.7,28.0 329.4,28.5 330.2,29.1 331.1,29.7 332.0,30.2 332.9,30.8 333.9,31.2 334.9,31.7 335.8,32.1 336.8,32.4 337.7,32.6 338.6,32.7 330.5,38.6 329.6,38.5 328.7,38.3 327.7,38.0 326.8,37.6 325.8,37.1 324.9,36.6 323.9,36.1 323.0,35.5 322.2,35.0 321.3,34.4 320.6,33.9 319.9,33.3 319.3,32.9 318.7,32.5 318.2,32.1 317.8,31.8 317.5,31.6 317.3,31.5 317.1,31.5" fill="url(#hg104)" stroke="#1dbac4" stroke-width="0.5" stroke-linejoin="round"/><path d="M332.5,30.6 L332.8,31.0 L333.3,31.6 L333.8,32.2 L334.4,33.0 L335.0,33.7 L335.6,34.5 L336.1,35.3 L336.5,36.0 L336.8,36.7 L337.1,37.4 L337.3,38.2 L337.5,38.9 L337.6,39.7 L337.6,40.4 L337.6,41.0 L337.5,41.6 L337.3,42.1 L337.0,42.6 L336.6,43.1 L336.2,43.5 L335.7,43.9 L335.2,44.2 L334.6,44.6 L334.0,45.0 L333.3,45.4 L332.5,45.8 L331.7,46.3 L330.8,46.7 L329.9,47.1 L329.1,47.5 L328.5,47.8 L328.0,48.0" fill="none" stroke="#26dae4" stroke-width="1.9" stroke-linecap="round" stroke-linejoin="round"/><path d="M381.0,96.0 L381.4,96.0 L381.9,96.1 L382.5,96.1 L383.1,96.2 L383.8,96.3 L384.5,96.4 L385.1,96.5 L385.6,96.6 L386.0,96.7 L386.4,96.9 L386.8,97.1 L387.1,97.3 L387.4,97.5 L387.6,97.7 L387.8,97.9 L388.0,98.0" fill="none" stroke="#1f6fd6" stroke-width="1.8" stroke-linecap="round" stroke-linejoin="round"/><g transform="translate(302,0)"><path d="M96.0,33.0 L95.0,33.0 L93.6,32.9 L92.0,32.8 L90.2,32.8 L88.4,32.7 L86.6,32.7 L85.2,32.8 L84.0,33.0 L83.2,33.3 L82.5,33.7 L82.0,34.2 L81.7,34.8 L81.4,35.3 L81.3,35.9 L81.1,36.5 L81.0,37.0 L81.0,37.5 L81.1,38.0 L81.3,38.5 L81.6,39.0 L81.8,39.5 L82.0,40.0 L82.1,40.5 L82.0,41.0 L81.7,41.6 L81.4,42.2 L80.9,42.9 L80.4,43.6 L79.8,44.2 L79.2,44.8 L78.6,45.2 L78.0,45.5 L77.4,45.6 L76.8,45.6 L76.1,45.5 L75.4,45.3 L74.7,45.1 L74.1,44.8 L73.5,44.4 L73.0,44.0 L72.6,43.5 L72.2,43.0 L71.8,42.3 L71.5,41.6 L71.3,40.9 L71.1,40.2 L71.0,39.6 L71.0,39.0 L71.1,38.5 L71.3,37.9 L71.6,37.4 L72.0,36.9 L72.4,36.5 L72.9,36.1 L73.4,35.7 L74.0,35.5 L74.6,35.3 L75.3,35.2 L76.1,35.2 L76.9,35.2 L77.8,35.2 L78.6,35.4 L79.3,35.6 L80.0,36.0 L80.6,36.5 L81.1,37.1 L81.6,37.8 L82.1,38.7 L82.5,39.5 L83.0,40.4 L83.5,41.2 L84.0,42.0 L84.6,42.8 L85.1,43.6 L85.7,44.4 L86.3,45.2 L86.9,46.0 L87.6,46.8 L88.3,47.4 L89.0,48.0 L89.8,48.5 L90.8,48.8 L91.8,49.1 L92.8,49.4 L93.8,49.6 L94.7,49.7 L95.4,49.9 L96.0,50.0" fill="none" stroke="#2674da" stroke-width="1.9" stroke-linecap="round" stroke-linejoin="round"/><defs><linearGradient id="hg105" gradientUnits="userSpaceOnUse" x1="61.2" y1="60.6" x2="68.8" y2="71.4"><stop offset="0" stop-color="#1c62be"/><stop offset="0.55" stop-color="#4085de"/><stop offset="1" stop-color="#1c62be"/></linearGradient></defs><polygon points="74.4,66.7 74.6,66.4 74.8,66.1 74.9,65.7 74.9,65.2 74.9,64.6 74.9,64.0 74.8,63.3 74.6,62.5 74.5,61.7 74.3,60.9 74.1,60.1 73.9,59.3 73.7,58.4 73.6,57.6 73.4,56.8 73.3,56.1 73.2,55.3 73.1,54.7 73.1,54.1 73.1,53.6 73.2,53.1 73.4,52.8 73.6,52.5 73.9,52.3 68.6,56.1 68.3,56.3 68.1,56.6 67.9,56.9 67.8,57.4 67.8,57.9 67.8,58.5 67.9,59.1 68.0,59.8 68.1,60.6 68.3,61.4 68.5,62.2 68.6,63.0 68.8,63.9 69.0,64.7 69.2,65.5 69.4,66.3 69.5,67.1 69.6,67.8 69.6,68.4 69.6,69.0 69.6,69.5 69.5,69.9 69.3,70.2 69.1,70.5" fill="#104c9c" stroke="#104c9c" stroke-width="0.5" stroke-linejoin="round"/><polygon points="67.6,64.1 68.4,64.6 69.1,65.0 69.8,65.4 70.5,65.8 71.1,66.2 71.8,66.5 72.3,66.7 72.8,66.8 73.3,66.9 73.7,66.9 74.1,66.8 74.4,66.7 69.1,70.5 68.8,70.6 68.4,70.7 68.0,70.7 67.6,70.6 67.0,70.5 66.5,70.2 65.9,69.9 65.2,69.6 64.5,69.2 63.8,68.8 63.1,68.3 62.4,67.9" fill="url(#hg105)" stroke="#1c62be" stroke-width="0.5" stroke-linejoin="round"/><polygon points="73.9,52.3 74.2,52.2 74.6,52.2 75.0,52.3 75.5,52.4 76.1,52.6 76.7,52.9 77.3,53.2 78.0,53.6 78.7,54.0 79.4,54.4 80.2,54.9 80.9,55.4 81.6,55.8 82.3,56.2 83.0,56.6 83.7,57.0 78.4,60.8 77.7,60.4 77.1,60.0 76.3,59.6 75.6,59.1 74.9,58.7 74.2,58.2 73.4,57.8 72.7,57.4 72.1,57.0 71.4,56.7 70.8,56.4 70.3,56.2 69.7,56.0 69.3,56.0 68.9,56.0 68.6,56.1" fill="url(#hg105)" stroke="#1c62be" stroke-width="0.5" stroke-linejoin="round"/><path d="M66.0,68.0 L66.2,68.3 L66.5,68.7 L66.9,69.3 L67.2,69.8 L67.7,70.4 L68.1,71.0 L68.6,71.5 L69.0,72.0 L69.5,72.4 L70.0,72.9 L70.6,73.3 L71.1,73.7 L71.7,74.1 L72.2,74.4 L72.6,74.7 L73.0,75.0 L73.3,75.2 L73.5,75.4 L73.6,75.6 L73.8,75.7 L73.8,75.8 L73.9,75.9 L73.9,75.9 L74.0,76.0" fill="none" stroke="#2674da" stroke-width="2.6" stroke-linecap="round" stroke-linejoin="round"/><path d="M74.0,75.5 L74.6,75.1 L75.5,74.7 L76.6,74.1 L77.7,73.4 L78.9,72.8 L80.0,72.1 L80.9,71.4 L81.6,70.8 L82.1,70.2 L82.4,69.6 L82.6,69.0 L82.7,68.3 L82.8,67.7 L82.8,67.1 L82.9,66.5 L83.0,66.0 L83.1,65.5 L83.1,65.0 L83.1,64.5 L83.2,64.0 L83.2,63.6 L83.3,63.2 L83.6,62.8 L84.0,62.4 L84.6,62.0 L85.4,61.6 L86.3,61.3 L87.2,60.9 L88.3,60.6 L89.2,60.3 L90.2,60.1 L91.0,60.0 L91.7,59.9 L92.4,59.9 L93.0,60.0 L93.6,60.1 L94.2,60.3 L94.8,60.5 L95.4,60.7 L96.0,61.0 L96.7,61.3 L97.3,61.8 L98.1,62.2 L98.8,62.8 L99.4,63.3 L100.0,63.9 L100.6,64.4 L101.0,65.0 L101.3,65.6 L101.5,66.2 L101.6,66.8 L101.6,67.5 L101.6,68.1 L101.7,68.8 L101.8,69.4 L102.0,70.0 L102.3,70.6 L102.7,71.2 L103.1,71.8 L103.5,72.4 L104.0,72.9 L104.5,73.5 L105.0,73.9 L105.6,74.4 L106.3,74.8 L107.1,75.2 L107.9,75.6 L108.8,75.9 L109.7,76.2 L110.5,76.4 L111.1,76.6 L111.6,76.8" fill="none" stroke="#2674da" stroke-width="1.9" stroke-linecap="round" stroke-linejoin="round"/><path d="M78.0,54.0 L78.5,53.7 L79.1,53.2 L79.8,52.7 L80.6,52.1 L81.4,51.5 L82.3,50.9 L83.2,50.4 L84.0,50.0 L84.8,49.7 L85.8,49.4 L86.7,49.1 L87.6,48.8 L88.6,48.7 L89.5,48.6 L90.3,48.5 L91.0,48.6 L91.7,48.8 L92.3,49.1 L92.8,49.4 L93.3,49.9 L93.8,50.4 L94.2,50.9 L94.5,51.4 L94.8,52.0 L95.0,52.6 L95.1,53.3 L95.1,54.0 L95.1,54.7 L95.1,55.5 L95.0,56.2 L94.9,56.9 L94.8,57.6 L94.7,58.2 L94.6,58.8 L94.4,59.3 L94.2,59.8 L94.0,60.3 L93.8,60.9 L93.7,61.4 L93.6,62.0 L93.5,62.6 L93.4,63.2 L93.2,63.8 L93.1,64.3 L93.1,65.0 L93.1,65.7 L93.3,66.4 L93.6,67.2 L94.1,68.1 L94.7,69.2 L95.5,70.3 L96.4,71.4 L97.3,72.6 L98.1,73.7 L98.9,74.7 L99.6,75.6 L100.2,76.4 L100.8,77.1 L101.3,77.8 L101.8,78.4 L102.2,79.0 L102.6,79.5 L102.9,80.0 L103.2,80.4 L103.4,80.8 L103.4,81.0 L103.5,81.3 L103.4,81.4 L103.3,81.6 L103.2,81.8 L103.1,81.9 L103.0,82.2 L102.9,82.5 L102.8,82.8 L102.7,83.1 L102.5,83.5 L102.3,83.9 L102.1,84.2 L101.9,84.6 L101.6,85.0 L101.2,85.4 L100.8,85.8 L100.3,86.3 L99.8,86.8 L99.3,87.2 L98.8,87.7 L98.4,88.1 L98.0,88.5 L97.7,88.9 L97.3,89.2 L97.0,89.5 L96.7,89.9 L96.5,90.2 L96.3,90.5 L96.1,90.9 L96.0,91.3 L96.0,91.8 L96.0,92.3 L96.0,92.8 L96.1,93.4 L96.3,94.0 L96.4,94.5 L96.6,95.0 L96.7,95.5 L96.8,95.9 L96.9,96.3 L97.1,96.7 L97.2,97.0 L97.4,97.4 L97.5,97.7 L97.8,98.0 L98.0,98.3 L98.3,98.6 L98.7,98.9 L99.1,99.2 L99.5,99.5 L100.0,99.8 L100.3,100.0 L100.7,100.2 L100.9,100.4" fill="none" stroke="#2674da" stroke-width="1.9" stroke-linecap="round" stroke-linejoin="round"/><polygon points="90.0,44.7 91.4,45.4 93.2,46.3 95.4,47.3 97.8,48.4 100.3,49.7 102.8,50.9 105.2,52.2 107.3,53.4 109.3,54.6 111.3,56.0 113.4,57.4 115.4,58.9 117.4,60.3 119.3,61.8 121.3,63.2 123.2,64.5 125.1,65.7 127.0,67.0 128.9,68.2 130.8,69.4 131.2,69.6 130.3,71.0 138.0,70.0 135.5,62.7 134.6,64.1 134.2,63.8 132.4,62.7 130.5,61.5 128.6,60.3 126.8,59.1 125.0,57.9 123.2,56.5 121.2,55.1 119.2,53.6 117.1,52.1 115.0,50.6 112.9,49.2 110.7,47.8 108.3,46.5 105.8,45.1 103.2,43.8 100.6,42.6 98.2,41.4 96.0,40.4 94.2,39.5 92.8,38.9" fill="#2674da" stroke="#104c9c" stroke-width="0.6" stroke-linejoin="round"/><polygon points="90.0,44.7 91.4,45.4 93.2,46.3 95.4,47.3 97.8,48.4 100.3,49.7 102.8,50.9 105.2,52.2 107.3,53.4 109.3,54.6 111.3,56.0 113.4,57.4 115.4,58.9 117.4,60.3 119.3,61.8 121.3,63.2 123.2,64.5 125.1,65.7 127.0,67.0 128.9,68.2 130.8,69.4 131.2,69.6 131.6,68.9 131.2,68.7 129.4,67.5 127.5,66.3 125.5,65.1 123.6,63.8 121.7,62.5 119.8,61.1 117.8,59.7 115.8,58.2 113.8,56.7 111.8,55.3 109.8,54.0 107.8,52.7 105.6,51.5 103.2,50.2 100.7,48.9 98.1,47.7 95.7,46.6 93.6,45.5 91.7,44.7 90.3,44.0" fill="#5693e2" stroke="none"/><polygon points="95.0,38.4 96.1,38.7 97.6,39.1 99.4,39.6 101.3,40.1 103.3,40.7 105.3,41.3 107.3,41.8 109.0,42.4 110.6,42.8 112.1,43.3 113.6,43.7 115.1,44.2 116.5,44.6 117.9,45.1 119.2,45.6 120.6,46.2 122.1,46.9 123.5,47.5 125.0,48.2 126.4,49.0 127.9,49.8 129.3,50.6 130.6,51.5 132.0,52.4 133.4,53.4 134.7,54.4 136.1,55.5 137.5,56.6 138.8,57.8 140.1,59.0 141.3,60.2 142.4,61.4 143.4,62.5 144.4,63.8 145.4,65.2 146.3,66.5 147.3,68.0 148.2,69.4 149.2,70.8 150.2,72.2 151.3,73.4 152.3,74.7 153.4,75.9 154.4,77.0 155.3,78.1 156.2,79.0 156.9,79.7 157.4,80.3 162.6,75.7 162.1,75.1 161.4,74.3 160.5,73.4 159.6,72.4 158.6,71.3 157.6,70.1 156.7,69.0 155.8,67.8 154.9,66.7 154.0,65.5 153.1,64.1 152.2,62.6 151.1,61.1 150.0,59.6 148.9,58.1 147.6,56.6 146.3,55.3 144.9,53.9 143.5,52.6 142.0,51.3 140.5,50.1 139.0,48.9 137.5,47.7 136.0,46.6 134.4,45.6 132.9,44.6 131.3,43.7 129.7,42.8 128.1,42.0 126.5,41.2 125.0,40.5 123.4,39.8 121.8,39.1 120.2,38.5 118.7,38.0 117.2,37.5 115.7,37.0 114.1,36.6 112.6,36.1 111.0,35.6 109.2,35.1 107.3,34.5 105.2,34.0 103.2,33.4 101.3,32.8 99.5,32.3 98.0,31.9 97.0,31.6" fill="#2674da" stroke="#104c9c" stroke-width="0.6" stroke-linejoin="round"/><polygon points="95.0,38.4 96.1,38.7 97.6,39.1 99.4,39.6 101.3,40.1 103.3,40.7 105.3,41.3 107.3,41.8 109.0,42.4 110.6,42.8 112.1,43.3 113.6,43.7 115.1,44.2 116.5,44.6 117.9,45.1 119.2,45.6 120.6,46.2 122.1,46.9 123.5,47.5 125.0,48.2 126.4,49.0 127.9,49.8 129.3,50.6 130.6,51.5 132.0,52.4 133.4,53.4 134.7,54.4 136.1,55.5 137.5,56.6 138.8,57.8 140.1,59.0 141.3,60.2 142.4,61.4 143.4,62.5 144.4,63.8 145.4,65.2 146.3,66.5 147.3,68.0 148.2,69.4 149.2,70.8 150.2,72.2 151.3,73.4 152.3,74.7 153.4,75.9 154.4,77.0 155.3,78.1 156.2,79.0 156.9,79.7 157.4,80.3 158.0,79.7 157.5,79.2 156.8,78.4 156.0,77.5 155.0,76.4 154.0,75.3 153.0,74.1 151.9,72.9 150.9,71.6 149.9,70.3 149.0,68.9 148.0,67.5 147.1,66.1 146.1,64.7 145.1,63.3 144.1,62.0 143.1,60.8 141.9,59.6 140.7,58.3 139.4,57.1 138.0,56.0 136.7,54.8 135.3,53.7 133.9,52.6 132.5,51.7 131.1,50.7 129.7,49.9 128.3,49.0 126.8,48.2 125.4,47.5 123.9,46.7 122.4,46.1 121.0,45.4 119.5,44.8 118.2,44.3 116.8,43.8 115.3,43.3 113.9,42.9 112.4,42.5 110.8,42.0 109.2,41.5 107.5,41.0 105.6,40.4 103.6,39.8 101.5,39.3 99.6,38.7 97.9,38.2 96.4,37.8 95.3,37.5" fill="#5693e2" stroke="none"/><path d="M158.0,77.0 L158.4,77.1 L158.8,77.3 L159.4,77.5 L160.0,77.8 L160.7,78.0 L161.5,78.2 L162.2,78.4 L163.0,78.5 L163.8,78.5 L164.7,78.4 L165.6,78.2 L166.6,78.0 L167.5,77.8 L168.5,77.8 L169.5,78.0 L170.5,78.4 L171.5,79.2 L172.6,80.3 L173.8,81.6 L174.9,83.0 L176.0,84.4 L177.0,85.7 L177.8,86.8 L178.4,87.6" fill="none" stroke="#2674da" stroke-width="1.8" stroke-linecap="round" stroke-linejoin="round"/><path d="M132.8,72.8 L134.0,72.9 L135.5,73.0 L137.4,73.1 L139.5,73.3 L141.6,73.5 L143.7,73.7 L145.6,74.0 L147.2,74.4 L148.5,74.9 L149.7,75.5 L150.8,76.1 L151.8,76.8 L152.7,77.5 L153.6,78.2 L154.4,78.7 L155.2,79.2 L156.0,79.6 L156.7,79.9 L157.4,80.1 L158.1,80.3 L158.7,80.5 L159.2,80.6 L159.7,80.7 L160.0,80.8" fill="none" stroke="#2674da" stroke-width="1.6" stroke-linecap="round" stroke-linejoin="round"/><defs><linearGradient id="hg106" gradientUnits="userSpaceOnUse" x1="89.4" y1="34.8" x2="95.6" y2="50.2"><stop offset="0" stop-color="#1c62be"/><stop offset="0.55" stop-color="#3380e0"/><stop offset="1" stop-color="#1c62be"/></linearGradient></defs><polygon points="104.2,45.9 104.8,45.6 105.3,45.2 105.8,44.7 106.2,44.0 106.6,43.3 106.9,42.4 107.2,41.5 107.4,40.6 107.5,39.6 107.6,38.5 107.6,37.5 107.6,36.4 107.6,35.4 107.6,34.3 107.5,33.4 107.4,32.5 107.3,31.6 107.2,30.9 107.1,30.2 107.0,29.7 107.0,29.2 107.0,28.9 107.0,28.7 107.0,28.6 97.8,32.3 97.7,32.4 97.7,32.6 97.7,32.9 97.7,33.4 97.8,33.9 97.9,34.6 98.0,35.3 98.1,36.2 98.2,37.1 98.3,38.0 98.3,39.1 98.4,40.1 98.4,41.2 98.3,42.2 98.2,43.3 98.1,44.3 97.9,45.2 97.6,46.1 97.3,47.0 96.9,47.7 96.5,48.3 96.0,48.9 95.5,49.3 94.9,49.6" fill="#104c9c" stroke="#104c9c" stroke-width="0.5" stroke-linejoin="round"/><polygon points="121.1,39.2 121.7,38.8 122.3,38.4 122.7,37.9 123.2,37.2 123.5,36.4 123.8,35.6 124.1,34.7 124.3,33.7 124.4,32.7 124.5,31.7 124.5,30.6 124.5,29.5 124.5,28.5 124.4,27.5 124.4,26.5 124.3,25.6 124.2,24.8 124.1,24.1 124.0,23.4 123.9,22.9 123.9,22.5 123.8,22.2 123.9,22.0 123.9,21.9 114.7,25.6 114.6,25.7 114.6,25.9 114.6,26.2 114.6,26.6 114.7,27.1 114.8,27.8 114.9,28.5 115.0,29.3 115.1,30.2 115.1,31.2 115.2,32.2 115.2,33.2 115.2,34.3 115.2,35.4 115.1,36.4 115.0,37.4 114.8,38.4 114.5,39.3 114.2,40.1 113.9,40.9 113.4,41.5 113.0,42.1 112.4,42.5 111.8,42.9" fill="#104c9c" stroke="#104c9c" stroke-width="0.5" stroke-linejoin="round"/><polygon points="138.1,32.4 138.7,32.1 139.2,31.6 139.7,31.0 140.1,30.4 140.5,29.6 140.8,28.8 141.0,27.8 141.2,26.9 141.3,25.8 141.4,24.8 141.4,23.7 141.4,22.7 141.4,21.6 141.3,20.6 141.2,19.7 141.1,18.8 141.0,18.0 140.9,17.3 140.8,16.6 140.8,16.1 140.7,15.7 140.7,15.4 140.8,15.2 140.8,15.2 131.5,18.9 131.5,18.9 131.4,19.1 131.4,19.4 131.5,19.8 131.6,20.3 131.6,21.0 131.7,21.7 131.8,22.5 131.9,23.4 132.0,24.3 132.1,25.3 132.1,26.4 132.1,27.4 132.1,28.5 132.0,29.5 131.9,30.6 131.7,31.5 131.5,32.5 131.2,33.3 130.8,34.1 130.4,34.7 129.9,35.3 129.4,35.8 128.8,36.1" fill="#104c9c" stroke="#104c9c" stroke-width="0.5" stroke-linejoin="round"/><polygon points="95.1,41.5 95.8,42.2 96.6,43.0 97.4,43.7 98.2,44.3 99.0,44.9 99.8,45.3 100.6,45.7 101.3,46.0 102.1,46.1 102.8,46.2 103.5,46.1 104.2,45.9 94.9,49.6 94.2,49.8 93.5,49.9 92.8,49.8 92.1,49.7 91.3,49.4 90.5,49.0 89.7,48.5 88.9,48.0 88.1,47.4 87.3,46.7 86.5,45.9 85.8,45.2" fill="url(#hg106)" stroke="#1c62be" stroke-width="0.5" stroke-linejoin="round"/><polygon points="107.0,28.6 107.2,28.7 107.3,28.8 107.5,29.1 107.8,29.5 108.2,29.9 108.6,30.5 109.0,31.1 109.5,31.8 110.1,32.5 110.7,33.3 111.4,34.1 112.1,34.9 112.8,35.6 113.6,36.3 114.4,37.0 115.2,37.6 116.0,38.2 116.8,38.7 117.6,39.0 118.3,39.3 119.1,39.4 119.8,39.5 120.5,39.4 121.1,39.2 111.8,42.9 111.2,43.1 110.5,43.2 109.8,43.1 109.0,43.0 108.3,42.7 107.5,42.4 106.7,41.9 105.9,41.3 105.1,40.7 104.3,40.0 103.5,39.3 102.8,38.5 102.1,37.8 101.4,37.0 100.8,36.2 100.2,35.5 99.7,34.8 99.3,34.2 98.9,33.6 98.5,33.2 98.2,32.8 98.0,32.5 97.9,32.4 97.8,32.3" fill="url(#hg106)" stroke="#1c62be" stroke-width="0.5" stroke-linejoin="round"/><polygon points="123.9,21.9 124.1,22.0 124.2,22.1 124.5,22.4 124.7,22.8 125.1,23.3 125.5,23.8 126.0,24.5 126.5,25.2 127.0,25.9 127.7,26.7 128.3,27.5 129.0,28.2 129.8,29.0 130.6,29.7 131.3,30.4 132.1,31.0 133.0,31.5 133.8,32.0 134.5,32.3 135.3,32.6 136.1,32.7 136.8,32.7 137.5,32.6 138.1,32.4 128.8,36.1 128.2,36.3 127.5,36.4 126.8,36.4 126.0,36.3 125.3,36.0 124.5,35.7 123.7,35.2 122.9,34.7 122.1,34.1 121.3,33.4 120.5,32.7 119.8,31.9 119.0,31.2 118.4,30.4 117.8,29.6 117.2,28.9 116.7,28.2 116.2,27.5 115.8,27.0 115.5,26.5 115.2,26.1 114.9,25.8 114.8,25.7 114.7,25.6" fill="url(#hg106)" stroke="#1c62be" stroke-width="0.5" stroke-linejoin="round"/><polygon points="140.8,15.2 141.0,15.3 141.1,15.4 141.4,15.7 141.7,16.1 142.0,16.6 142.4,17.2 142.9,17.8 143.4,18.5 144.0,19.3 144.6,20.1 145.3,20.8 146.0,21.6 146.8,22.4 147.5,23.1 138.3,26.8 137.5,26.1 136.7,25.3 136.0,24.5 135.3,23.8 134.7,23.0 134.1,22.2 133.6,21.5 133.1,20.9 132.7,20.3 132.4,19.8 132.1,19.4 131.9,19.1 131.7,19.0 131.5,18.9" fill="url(#hg106)" stroke="#1c62be" stroke-width="0.5" stroke-linejoin="round"/><path d="M146.0,25.0 L146.3,25.4 L146.7,25.9 L147.2,26.5 L147.7,27.2 L148.2,27.9 L148.6,28.6 L148.9,29.3 L149.0,30.0 L148.9,30.6 L148.7,31.3 L148.4,32.0 L148.1,32.7 L147.6,33.3 L147.1,34.0 L146.6,34.5 L146.0,35.0 L145.4,35.4 L144.7,35.7 L144.0,35.9 L143.2,36.1 L142.4,36.3 L141.6,36.5 L140.8,36.7 L140.0,37.0 L139.2,37.3 L138.4,37.8 L137.5,38.2 L136.6,38.6 L135.8,39.1 L135.1,39.4 L134.5,39.8 L134.0,40.0" fill="none" stroke="#2674da" stroke-width="1.8" stroke-linecap="round" stroke-linejoin="round"/><polygon points="111.6,81.8 112.5,81.4 113.7,80.9 115.1,80.2 116.6,79.6 118.3,78.8 120.0,78.1 121.6,77.4 123.2,76.8 124.7,76.1 126.4,75.4 128.2,74.7 128.7,74.5 129.6,76.7 134.0,69.0 125.5,66.7 126.4,68.9 125.8,69.1 124.1,69.9 122.4,70.6 120.8,71.2 119.3,71.9 117.6,72.6 115.9,73.3 114.3,74.1 112.7,74.7 111.3,75.3 110.1,75.9 109.2,76.2" fill="#2674da" stroke="#104c9c" stroke-width="0.6" stroke-linejoin="round"/><polygon points="111.6,81.8 112.5,81.4 113.7,80.9 115.1,80.2 116.6,79.6 118.3,78.8 120.0,78.1 121.6,77.4 123.2,76.8 124.7,76.1 126.4,75.4 128.2,74.7 128.7,74.5 128.4,73.8 127.9,74.0 126.1,74.7 124.4,75.4 122.9,76.1 121.3,76.7 119.7,77.4 118.0,78.2 116.3,78.9 114.8,79.6 113.4,80.2 112.2,80.7 111.3,81.1" fill="#5693e2" stroke="none"/><polygon points="112.8,71.9 113.6,71.5 114.6,71.1 115.9,70.6 117.3,70.0 118.7,69.4 120.1,68.8 121.5,68.3 122.6,67.9 123.7,67.6 124.8,67.2 126.0,67.0 127.1,66.7 128.1,66.5 129.0,66.3 129.8,66.1 130.5,65.9 129.5,62.1 129.0,62.2 128.2,62.4 127.2,62.6 126.2,62.8 125.0,63.1 123.8,63.4 122.6,63.7 121.4,64.1 120.1,64.6 118.7,65.1 117.2,65.7 115.7,66.3 114.3,66.9 113.1,67.4 112.0,67.8 111.2,68.1" fill="#2674da" stroke="#104c9c" stroke-width="0.6" stroke-linejoin="round"/><polygon points="112.8,71.9 113.6,71.5 114.6,71.1 115.9,70.6 117.3,70.0 118.7,69.4 120.1,68.8 121.5,68.3 122.6,67.9 123.7,67.6 124.8,67.2 126.0,67.0 127.1,66.7 128.1,66.5 129.0,66.3 129.8,66.1 130.5,65.9 130.3,65.5 129.7,65.6 128.9,65.8 128.0,66.0 127.0,66.2 125.9,66.5 124.7,66.8 123.6,67.1 122.5,67.4 121.3,67.8 120.0,68.4 118.5,68.9 117.1,69.5 115.7,70.1 114.4,70.6 113.4,71.1 112.6,71.4" fill="#5693e2" stroke="none"/></g><path d="M377.4,69.8 L377.8,69.5 L378.3,69.0 L378.9,68.5 L379.6,67.9 L380.3,67.3 L381.2,66.6 L382.1,66.1 L383.0,65.6 L384.1,65.2 L385.3,64.9 L386.6,64.6 L388.0,64.3 L389.4,64.0 L390.6,63.7 L391.8,63.3 L392.8,62.8 L393.6,62.2 L394.2,61.5 L394.7,60.7 L395.2,59.9 L395.6,59.1 L396.0,58.4 L396.4,57.7 L397.0,57.2 L397.6,56.8 L398.3,56.4 L399.0,56.1 L399.7,55.8 L400.4,55.6 L401.2,55.6 L401.9,55.6 L402.6,55.8 L403.3,56.2 L404.0,56.9 L404.7,57.7 L405.4,58.6 L406.1,59.5 L406.8,60.3 L407.5,61.0 L408.2,61.4 L408.9,61.6 L409.6,61.7 L410.4,61.6 L411.1,61.5 L411.8,61.2 L412.5,60.9 L413.2,60.5 L413.8,60.0 L414.4,59.4 L415.0,58.6 L415.6,57.8 L416.2,56.9 L416.7,55.9 L417.2,54.9 L417.6,53.9 L418.0,53.0 L418.3,52.1 L418.6,51.1 L418.8,50.1 L419.0,49.1 L419.1,48.1 L419.2,47.3 L419.3,46.5 L419.4,46.0" fill="none" stroke="#e51a1a" stroke-width="1.9" stroke-linecap="round" stroke-linejoin="round"/><path d="M372.0,77.0 L372.1,76.6 L372.3,76.0 L372.5,75.4 L372.8,74.6 L373.1,73.9 L373.4,73.2 L373.7,72.5 L374.0,72.0 L374.4,71.6 L374.8,71.2 L375.3,70.9 L375.8,70.6 L376.3,70.3 L376.8,70.1 L377.1,70.0 L377.4,69.8" fill="none" stroke="#e51a1a" stroke-width="1.9" stroke-linecap="round" stroke-linejoin="round"/><path d="M390.0,64.0 L390.6,63.7 L391.4,63.4 L392.4,62.9 L393.5,62.4 L394.6,61.9 L395.8,61.4 L396.9,61.1 L398.0,60.8 L399.0,60.7 L400.0,60.6 L401.0,60.7 L402.0,60.8 L403.0,60.9 L404.0,60.9 L405.0,60.9 L406.0,60.8 L407.1,60.5 L408.2,60.1 L409.4,59.7 L410.5,59.2 L411.6,58.7 L412.6,58.2 L413.4,57.9 L414.0,57.6" fill="none" stroke="#e51a1a" stroke-width="1.7" stroke-linecap="round" stroke-linejoin="round"/><path d="M416.0,105.4 L416.3,106.3 L416.7,107.5 L417.2,109.0 L417.7,110.6 L418.2,112.2 L418.8,113.8 L419.3,115.1 L419.8,116.2 L420.3,117.0 L420.7,117.6 L421.2,118.0 L421.6,118.4 L422.1,118.7 L422.5,119.0 L423.0,119.3 L423.4,119.8 L423.9,120.3 L424.4,120.9 L424.9,121.5 L425.3,122.0 L425.8,122.7 L426.3,123.3 L426.7,123.9 L427.0,124.6 L427.4,125.3 L427.8,126.1 L428.2,127.0 L428.6,127.8 L428.8,128.6 L428.9,129.4 L428.7,130.1 L428.2,130.6 L427.2,131.0 L425.8,131.3 L424.1,131.5 L422.2,131.6 L420.3,131.6 L418.5,131.7 L417.0,131.7 L416.0,131.8" fill="none" stroke="#e51a1a" stroke-width="1.8" stroke-linecap="round" stroke-linejoin="round"/><path d="M399.4,143.8 L399.1,144.1 L398.7,144.4 L398.3,144.7 L397.8,145.1 L397.2,145.6 L396.7,146.1 L396.2,146.7 L395.8,147.4 L395.4,148.2 L395.1,149.2 L394.7,150.3 L394.4,151.4 L394.1,152.5 L393.8,153.5 L393.6,154.4 L393.4,155.0" fill="none" stroke="#e51a1a" stroke-width="1.8" stroke-linecap="round" stroke-linejoin="round"/><path d="M424.6,149.8 L425.3,149.6 L426.1,149.5 L427.2,149.2 L428.4,149.0 L429.6,148.7 L430.8,148.3 L432.0,147.9 L433.0,147.4 L434.0,146.8 L435.0,146.2 L436.0,145.4 L437.0,144.6 L437.9,143.8 L438.8,143.0 L439.5,142.2 L440.2,141.4 L440.7,140.6 L441.2,139.8 L441.6,138.9 L441.9,138.0 L442.1,137.2 L442.3,136.5 L442.4,135.9 L442.6,135.4" fill="none" stroke="#e51a1a" stroke-width="1.8" stroke-linecap="round" stroke-linejoin="round"/><defs><linearGradient id="hg107" gradientUnits="userSpaceOnUse" x1="376.0" y1="75.7" x2="372.0" y2="96.3"><stop offset="0" stop-color="#d21515"/><stop offset="0.55" stop-color="#f23030"/><stop offset="1" stop-color="#d21515"/></linearGradient></defs><polygon points="382.0,97.1 381.5,96.8 381.1,96.3 380.7,95.7 380.4,94.9 380.3,94.0 380.2,93.1 380.3,92.0 380.4,90.9 380.7,89.8 381.2,88.6 381.7,87.5 382.4,86.4 383.2,85.3 384.2,84.2 385.2,83.3 386.3,82.5 387.5,81.7 388.8,81.2 390.1,80.7 391.4,80.4 392.8,80.3 394.2,80.3 395.5,80.5 396.9,80.8 385.6,78.6 384.2,78.3 382.9,78.1 381.5,78.1 380.1,78.2 378.8,78.5 377.5,79.0 376.2,79.6 375.0,80.3 373.9,81.1 372.9,82.1 371.9,83.1 371.1,84.2 370.4,85.3 369.9,86.5 369.4,87.6 369.1,88.8 369.0,89.9 368.9,90.9 369.0,91.9 369.1,92.7 369.4,93.5 369.8,94.1 370.2,94.6 370.7,95.0" fill="#b00c0c" stroke="#b00c0c" stroke-width="0.5" stroke-linejoin="round"/><polygon points="400.8,100.7 400.3,100.4 399.9,99.9 399.5,99.3 399.2,98.5 399.1,97.6 399.0,96.7 399.1,95.6 399.2,94.5 399.5,93.4 400.0,92.2 400.5,91.1 401.2,90.0 402.0,88.9 403.0,87.8 404.0,86.9 405.1,86.1 406.3,85.3 407.6,84.8 408.9,84.3 410.2,84.0 411.6,83.9 413.0,83.9 414.3,84.1 415.7,84.4 404.4,82.2 403.0,81.9 401.7,81.7 400.3,81.7 398.9,81.8 397.6,82.1 396.3,82.6 395.0,83.2 393.8,83.9 392.7,84.7 391.7,85.7 390.7,86.7 389.9,87.8 389.2,88.9 388.7,90.1 388.2,91.2 387.9,92.4 387.8,93.5 387.7,94.5 387.8,95.5 387.9,96.3 388.2,97.1 388.6,97.7 389.0,98.2 389.5,98.6" fill="#b00c0c" stroke="#b00c0c" stroke-width="0.5" stroke-linejoin="round"/><polygon points="419.6,104.3 419.1,104.0 418.7,103.5 418.3,102.9 418.0,102.1 417.9,101.2 417.8,100.3 417.9,99.2 418.0,98.1 418.3,97.0 418.8,95.8 419.3,94.7 408.0,92.5 407.5,93.7 407.0,94.8 406.7,96.0 406.6,97.1 406.5,98.1 406.6,99.1 406.7,99.9 407.0,100.7 407.4,101.3 407.8,101.8 408.3,102.2" fill="#b00c0c" stroke="#b00c0c" stroke-width="0.5" stroke-linejoin="round"/><polygon points="387.0,88.5 387.1,89.8 387.0,91.0 386.9,92.2 386.7,93.3 386.3,94.2 385.9,95.1 385.4,95.9 384.9,96.5 384.3,96.9 383.7,97.2 383.1,97.3 382.6,97.3 382.0,97.1 370.7,95.0 371.3,95.1 371.8,95.2 372.4,95.0 373.0,94.7 373.6,94.3 374.1,93.7 374.6,93.0 375.0,92.1 375.4,91.1 375.6,90.0 375.7,88.8 375.8,87.6 375.7,86.3" fill="url(#hg107)" stroke="#d21515" stroke-width="0.5" stroke-linejoin="round"/><polygon points="396.9,80.8 398.1,81.3 399.4,81.9 400.5,82.7 401.6,83.6 402.5,84.6 403.4,85.7 404.1,86.9 404.7,88.2 405.2,89.5 405.5,90.8 405.8,92.1 405.9,93.4 405.8,94.6 405.7,95.8 405.5,96.9 405.1,97.8 404.7,98.7 404.2,99.5 403.7,100.1 403.1,100.5 402.5,100.8 401.9,100.9 401.4,100.9 400.8,100.7 389.5,98.6 390.1,98.7 390.6,98.8 391.2,98.6 391.8,98.3 392.4,97.9 392.9,97.3 393.4,96.6 393.8,95.7 394.2,94.7 394.4,93.6 394.5,92.4 394.6,91.2 394.5,89.9 394.2,88.6 393.9,87.3 393.4,86.0 392.8,84.8 392.1,83.6 391.2,82.5 390.3,81.4 389.2,80.5 388.1,79.8 386.9,79.1 385.6,78.6" fill="url(#hg107)" stroke="#d21515" stroke-width="0.5" stroke-linejoin="round"/><polygon points="415.7,84.4 416.9,84.9 418.2,85.5 419.3,86.3 420.4,87.2 421.3,88.2 422.2,89.3 422.9,90.5 423.5,91.8 424.0,93.1 424.3,94.4 424.6,95.7 424.7,97.0 424.6,98.2 424.5,99.4 424.3,100.5 423.9,101.4 423.5,102.3 423.0,103.1 422.5,103.7 421.9,104.1 421.3,104.4 420.7,104.5 420.2,104.5 419.6,104.3 408.3,102.2 408.9,102.3 409.4,102.4 410.0,102.2 410.6,101.9 411.2,101.5 411.7,100.9 412.2,100.2 412.6,99.3 413.0,98.3 413.2,97.2 413.3,96.0 413.4,94.8 413.3,93.5 413.0,92.2 412.7,90.9 412.2,89.6 411.6,88.4 410.9,87.2 410.0,86.1 409.1,85.0 408.0,84.1 406.9,83.4 405.7,82.7 404.4,82.2" fill="url(#hg107)" stroke="#d21515" stroke-width="0.5" stroke-linejoin="round"/><polygon points="406.0,99.4 405.4,99.9 404.6,100.5 403.5,101.2 402.4,102.1 401.2,103.0 400.0,103.9 398.8,104.9 397.8,106.0 397.0,106.9 396.2,107.9 395.5,108.9 394.8,109.9 394.2,111.0 393.6,112.1 393.2,113.2 392.9,114.4 392.7,115.6 392.7,116.8 392.9,118.0 393.1,119.0 393.4,119.9 393.7,120.8 394.0,121.5 394.2,122.1 394.5,122.8 394.8,123.4 395.1,124.0 395.5,124.6 395.9,125.1 396.3,125.6 396.7,126.1 397.2,126.6 397.8,127.3 398.5,127.9 399.2,128.6 400.0,129.3 400.7,129.9 401.3,130.5 401.8,130.9 402.2,131.2 406.2,126.8 405.8,126.4 405.3,125.9 404.6,125.4 403.9,124.8 403.3,124.2 402.6,123.6 402.0,123.0 401.6,122.6 401.2,122.1 400.9,121.8 400.6,121.4 400.4,121.2 400.3,120.9 400.1,120.7 400.0,120.4 399.8,119.9 399.5,119.3 399.3,118.6 399.1,118.0 398.9,117.4 398.8,116.9 398.7,116.4 398.7,116.0 398.7,115.6 398.9,115.1 399.1,114.5 399.5,113.8 399.9,113.1 400.4,112.3 401.0,111.5 401.6,110.8 402.2,110.0 402.9,109.3 403.8,108.5 404.9,107.7 406.0,106.9 407.1,106.1 408.1,105.3 409.0,104.7 409.6,104.2" fill="#7a0000" stroke="#7a0000" stroke-width="0.6" stroke-linejoin="round"/><polygon points="406.0,99.4 405.4,99.9 404.6,100.5 403.5,101.2 402.4,102.1 401.2,103.0 400.0,103.9 398.8,104.9 397.8,106.0 397.0,106.9 396.2,107.9 395.5,108.9 394.8,109.9 394.2,111.0 393.6,112.1 393.2,113.2 392.9,114.4 392.7,115.6 392.7,116.8 392.9,118.0 393.1,119.0 393.4,119.9 393.7,120.8 394.0,121.5 394.2,122.1 394.5,122.8 394.8,123.4 395.1,124.0 395.5,124.6 395.9,125.1 396.3,125.6 396.7,126.1 397.2,126.6 397.8,127.3 398.5,127.9 399.2,128.6 400.0,129.3 400.7,129.9 401.3,130.5 401.8,130.9 402.2,131.2 402.7,130.7 402.3,130.3 401.8,129.9 401.2,129.3 400.5,128.7 399.7,128.0 399.0,127.4 398.3,126.7 397.8,126.1 397.3,125.6 396.9,125.2 396.5,124.7 396.1,124.2 395.8,123.7 395.5,123.1 395.2,122.5 394.9,121.8 394.7,121.2 394.4,120.5 394.1,119.7 393.8,118.8 393.6,117.8 393.4,116.8 393.4,115.7 393.6,114.5 393.9,113.4 394.3,112.4 394.8,111.4 395.4,110.3 396.1,109.3 396.8,108.4 397.5,107.4 398.4,106.5 399.3,105.5 400.4,104.5 401.6,103.6 402.8,102.7 404.0,101.8 405.0,101.1 405.8,100.5 406.4,100.0" fill="#973838" stroke="none"/><polygon points="412.7,91.9 412.7,92.9 412.6,94.2 412.5,95.8 412.4,97.5 412.2,99.3 412.1,101.2 411.9,102.9 411.8,104.6 411.6,106.2 411.5,107.8 411.3,109.3 411.1,110.9 410.9,112.6 410.7,114.2 410.5,115.9 410.3,117.6 410.1,119.3 410.0,121.0 409.8,122.8 409.6,124.5 409.5,126.3 409.3,128.1 409.2,129.9 409.0,131.7 408.9,133.7 408.8,135.9 408.6,138.2 408.5,140.4 408.4,142.5 408.3,144.5 408.3,146.1 408.3,147.3 409.7,147.5 410.1,146.3 410.4,144.7 410.8,142.8 411.2,140.8 411.7,138.5 412.1,136.3 412.6,134.2 413.0,132.3 413.3,130.5 413.7,128.7 414.0,126.9 414.4,125.2 414.7,123.5 415.0,121.8 415.4,120.1 415.7,118.4 416.0,116.8 416.4,115.1 416.7,113.5 417.0,111.9 417.3,110.3 417.6,108.7 417.9,107.0 418.2,105.4 418.5,103.7 418.7,101.8 418.9,99.9 419.1,98.1 419.3,96.3 419.4,94.8 419.6,93.5 419.7,92.5" fill="#9c0808" stroke="#7a0000" stroke-width="0.6" stroke-linejoin="round"/><polygon points="412.7,91.9 412.7,92.9 412.6,94.2 412.5,95.8 412.4,97.5 412.2,99.3 412.1,101.2 411.9,102.9 411.8,104.6 411.6,106.2 411.5,107.8 411.3,109.3 411.1,110.9 410.9,112.6 410.7,114.2 410.5,115.9 410.3,117.6 410.1,119.3 410.0,121.0 409.8,122.8 409.6,124.5 409.5,126.3 409.3,128.1 409.2,129.9 409.0,131.7 408.9,133.7 408.8,135.9 408.6,138.2 408.5,140.4 408.4,142.5 408.3,144.5 408.3,146.1 408.3,147.3 408.4,147.3 408.5,146.1 408.6,144.5 408.7,142.6 408.9,140.4 409.0,138.2 409.2,135.9 409.4,133.8 409.5,131.8 409.7,130.0 409.9,128.2 410.1,126.4 410.2,124.6 410.4,122.8 410.6,121.1 410.8,119.4 411.0,117.7 411.2,116.0 411.4,114.3 411.6,112.7 411.8,111.1 412.0,109.5 412.2,107.9 412.4,106.3 412.6,104.7 412.8,103.0 412.9,101.2 413.1,99.4 413.2,97.6 413.3,95.8 413.4,94.3 413.5,93.0 413.6,92.0" fill="#b23e3e" stroke="none"/><polygon points="422.4,59.4 422.3,58.7 422.0,57.9 421.8,56.9 421.5,55.8 421.2,54.6 420.9,53.5 420.7,52.4 420.4,51.5 420.3,50.6 420.2,50.5 421.7,50.3 417.0,46.0 413.8,51.6 415.3,51.4 415.4,51.6 415.6,52.5 415.8,53.5 416.0,54.6 416.3,55.8 416.6,57.0 416.9,58.1 417.2,59.1 417.4,60.0 417.6,60.6" fill="#9c0808" stroke="#7a0000" stroke-width="0.6" stroke-linejoin="round"/><polygon points="422.4,59.4 422.3,58.7 422.0,57.9 421.8,56.9 421.5,55.8 421.2,54.6 420.9,53.5 420.7,52.4 420.4,51.5 420.3,50.6 420.2,50.5 419.6,50.6 419.7,50.7 419.8,51.6 420.0,52.5 420.3,53.6 420.6,54.7 420.9,55.9 421.2,57.0 421.4,58.0 421.7,58.9 421.8,59.5" fill="#b23e3e" stroke="none"/><polygon points="413.7,47.7 414.2,48.7 414.8,49.9 415.6,51.3 416.4,52.9 417.3,54.5 418.1,56.2 418.9,57.8 419.5,59.4 420.1,60.9 420.6,62.5 421.2,64.1 421.6,65.8 422.1,67.5 422.5,69.2 422.9,70.9 423.3,72.7 423.6,74.5 423.9,76.4 424.2,78.3 424.4,80.3 424.6,82.3 424.8,84.3 425.0,86.4 425.3,88.5 425.5,90.4 425.8,92.4 426.0,94.3 426.3,96.2 426.5,98.1 426.8,100.1 427.0,102.2 427.3,104.4 427.5,106.9 427.8,109.7 428.1,112.7 428.4,115.7 428.7,118.5 428.9,121.1 429.1,123.3 429.3,125.0 436.7,124.2 436.6,122.6 436.4,120.4 436.1,117.8 435.9,114.9 435.6,111.9 435.3,108.9 435.0,106.1 434.7,103.6 434.5,101.3 434.2,99.2 434.0,97.2 433.7,95.2 433.5,93.3 433.2,91.4 433.0,89.5 432.7,87.5 432.5,85.6 432.3,83.6 432.1,81.5 431.9,79.5 431.6,77.4 431.4,75.3 431.0,73.3 430.7,71.3 430.3,69.3 429.8,67.4 429.4,65.6 428.9,63.7 428.3,61.9 427.7,60.1 427.1,58.4 426.5,56.6 425.7,54.8 424.9,53.0 424.0,51.1 423.1,49.4 422.2,47.8 421.4,46.3 420.8,45.1 420.3,44.3" fill="#e51a1a" stroke="#9c0808" stroke-width="0.6" stroke-linejoin="round"/><polygon points="413.7,47.7 414.2,48.7 414.8,49.9 415.6,51.3 416.4,52.9 417.3,54.5 418.1,56.2 418.9,57.8 419.5,59.4 420.1,60.9 420.6,62.5 421.2,64.1 421.6,65.8 422.1,67.5 422.5,69.2 422.9,70.9 423.3,72.7 423.6,74.5 423.9,76.4 424.2,78.3 424.4,80.3 424.6,82.3 424.8,84.3 425.0,86.4 425.3,88.5 425.5,90.4 425.8,92.4 426.0,94.3 426.3,96.2 426.5,98.1 426.8,100.1 427.0,102.2 427.3,104.4 427.5,106.9 427.8,109.7 428.1,112.7 428.4,115.7 428.7,118.5 428.9,121.1 429.1,123.3 429.3,125.0 430.2,124.9 430.0,123.2 429.8,121.1 429.6,118.4 429.3,115.6 429.0,112.6 428.7,109.6 428.5,106.8 428.2,104.3 428.0,102.1 427.7,100.0 427.5,98.0 427.2,96.1 427.0,94.2 426.7,92.3 426.5,90.3 426.2,88.3 426.0,86.3 425.7,84.2 425.5,82.2 425.3,80.2 425.1,78.2 424.9,76.2 424.6,74.4 424.2,72.5 423.9,70.7 423.5,69.0 423.0,67.2 422.5,65.5 422.0,63.8 421.5,62.2 421.0,60.6 420.4,59.0 419.7,57.5 419.0,55.8 418.1,54.1 417.3,52.4 416.4,50.9 415.7,49.5 415.0,48.2 414.5,47.3" fill="#eb4c4c" stroke="none"/><polygon points="427.7,74.4 428.4,75.0 429.2,75.8 430.2,76.8 431.3,77.8 432.5,79.0 433.7,80.1 434.9,81.2 436.0,82.2 437.1,83.2 438.1,84.1 439.2,85.0 440.3,85.9 441.3,86.7 442.2,87.6 443.1,88.4 443.2,88.4 440.9,89.9 451.0,93.2 449.6,82.6 447.4,84.1 447.2,84.0 446.2,83.1 445.2,82.2 444.1,81.3 443.1,80.4 442.0,79.5 441.0,78.7 440.0,77.8 439.0,76.8 437.8,75.7 436.6,74.6 435.5,73.5 434.4,72.4 433.4,71.5 432.5,70.6 431.9,70.0" fill="#e51a1a" stroke="#9c0808" stroke-width="0.6" stroke-linejoin="round"/><polygon points="427.7,74.4 428.4,75.0 429.2,75.8 430.2,76.8 431.3,77.8 432.5,79.0 433.7,80.1 434.9,81.2 436.0,82.2 437.1,83.2 438.1,84.1 439.2,85.0 440.3,85.9 441.3,86.7 442.2,87.6 443.1,88.4 443.2,88.4 443.7,87.9 443.6,87.8 442.7,87.0 441.8,86.2 440.8,85.3 439.7,84.4 438.6,83.5 437.5,82.6 436.5,81.7 435.4,80.7 434.2,79.6 433.0,78.4 431.8,77.3 430.7,76.2 429.7,75.2 428.9,74.4 428.2,73.8" fill="#eb4c4c" stroke="none"/><path d="M422.8,12.0 L422.8,12.9 L422.8,14.0 L422.8,15.4 L422.9,16.9 L422.9,18.5 L422.9,20.1 L422.8,21.6 L422.8,23.0 L422.7,24.3 L422.5,25.6 L422.2,26.8 L422.0,28.0 L421.8,29.2 L421.7,30.4 L421.7,31.5 L421.8,32.6 L422.1,33.6 L422.6,34.6 L423.2,35.6 L423.8,36.5 L424.5,37.4 L425.3,38.2 L426.0,39.0 L426.6,39.8 L427.2,40.5 L427.9,41.1 L428.6,41.7 L429.3,42.2 L430.0,42.7 L430.6,43.3 L431.0,43.9 L431.4,44.6 L431.6,45.4 L431.7,46.3 L431.7,47.2 L431.7,48.2 L431.6,49.2 L431.4,50.2 L431.2,51.1 L431.0,52.0 L430.7,52.8 L430.4,53.6 L430.0,54.3 L429.5,55.0 L429.1,55.7 L428.7,56.4 L428.3,57.2 L428.0,58.0 L427.8,59.0 L427.6,60.0 L427.4,61.2 L427.3,62.4 L427.2,63.5 L427.1,64.5 L427.1,65.4 L427.0,66.0" fill="none" stroke="#e51a1a" stroke-width="2.2" stroke-linecap="round" stroke-linejoin="round"/><path d="M439.4,78.2 L440.0,78.2 L440.8,78.1 L441.7,78.1 L442.7,78.1 L443.8,78.0 L444.8,78.0 L445.8,78.1 L446.6,78.2 L447.3,78.4 L447.9,78.5 L448.6,78.8 L449.1,79.0 L449.6,79.3 L450.1,79.7 L450.5,80.1 L450.8,80.6 L451.0,81.2 L451.2,82.0 L451.2,82.8 L451.2,83.7 L451.2,84.5 L451.2,85.4 L451.3,86.1 L451.4,86.6 L451.6,87.0 L451.8,87.3 L452.1,87.6 L452.3,87.8 L452.6,87.9 L453.0,87.9 L453.4,87.9 L453.8,87.8 L454.3,87.6 L454.8,87.2 L455.4,86.6 L456.1,86.1 L456.7,85.5 L457.3,85.0 L458.0,84.5 L458.6,84.2 L459.2,84.0 L459.8,83.8 L460.4,83.7 L461.0,83.7 L461.6,83.7 L462.2,83.8 L462.8,83.9 L463.4,84.2 L464.0,84.6 L464.6,85.0 L465.2,85.6 L465.8,86.2 L466.4,86.9 L467.0,87.6 L467.6,88.3 L468.2,89.0 L468.8,89.7 L469.4,90.5 L470.1,91.3 L470.7,92.2 L471.3,93.0 L471.9,93.7 L472.5,94.4 L473.0,95.0 L473.5,95.4 L474.0,95.7 L474.4,96.0 L474.8,96.1 L475.2,96.3 L475.5,96.5 L475.8,96.9 L476.0,97.4 L476.1,98.1 L476.1,98.8 L476.1,99.7 L476.0,100.6 L475.9,101.6 L475.8,102.6 L475.6,103.6 L475.4,104.6 L475.2,105.6 L475.0,106.8 L474.7,107.9 L474.5,109.1 L474.2,110.2 L473.8,111.3 L473.4,112.2 L473.0,113.0 L472.5,113.6 L472.0,114.1 L471.5,114.5 L470.9,114.8 L470.3,115.0 L469.6,115.2 L468.9,115.3 L468.2,115.4 L467.4,115.4 L466.5,115.4 L465.6,115.3 L464.6,115.2 L463.6,115.0 L462.7,114.8 L461.8,114.5 L461.0,114.2 L460.3,113.9 L459.6,113.5 L458.9,113.1 L458.3,112.6 L457.7,112.1 L457.2,111.6 L456.7,111.1 L456.2,110.6 L455.8,110.1 L455.4,109.5 L455.0,108.9 L454.7,108.3 L454.5,107.7 L454.2,107.1 L454.0,106.5 L453.8,105.8 L453.6,105.1 L453.6,104.4 L453.5,103.6 L453.5,102.9 L453.4,102.1 L453.4,101.3 L453.3,100.6 L453.2,99.8 L453.0,99.0 L452.8,98.2 L452.5,97.3 L452.3,96.4 L452.0,95.6 L451.8,94.9 L451.5,94.3 L451.4,93.8" fill="none" stroke="#e51a1a" stroke-width="1.9" stroke-linecap="round" stroke-linejoin="round"/><path d="M445.4,92.6 L445.5,93.2 L445.7,94.0 L446.0,94.9 L446.2,95.9 L446.4,97.0 L446.6,98.0 L446.7,99.0 L446.6,99.8 L446.4,100.5 L446.1,101.2 L445.7,101.8 L445.2,102.4 L444.6,103.0 L444.1,103.5 L443.5,104.1 L443.0,104.6 L442.4,105.1 L441.8,105.5 L441.1,105.9 L440.4,106.2 L439.8,106.6 L439.2,107.1 L438.6,107.6 L438.2,108.2 L437.9,109.0 L437.6,109.9 L437.4,111.0 L437.3,112.0 L437.2,113.1 L437.1,114.0 L437.1,114.8 L437.0,115.4" fill="none" stroke="#e51a1a" stroke-width="1.9" stroke-linecap="round" stroke-linejoin="round"/><path d="M461.6,119.0 L461.5,119.6 L461.4,120.4 L461.3,121.3 L461.1,122.3 L461.0,123.4 L460.8,124.4 L460.6,125.4 L460.4,126.2 L460.2,126.9 L460.0,127.6 L459.7,128.3 L459.5,128.9 L459.2,129.5 L458.9,130.0 L458.5,130.5 L458.0,131.0 L457.4,131.4 L456.8,131.9 L456.0,132.2 L455.2,132.6 L454.4,132.9 L453.6,133.1 L452.8,133.3 L452.0,133.4 L451.2,133.4 L450.4,133.3 L449.6,133.1 L448.8,132.8 L448.1,132.5 L447.3,132.3 L446.6,132.2 L446.0,132.2 L445.4,132.3 L444.9,132.5 L444.4,132.7 L443.9,132.9 L443.5,133.3 L443.1,133.7 L442.7,134.1 L442.4,134.6 L442.1,135.2 L441.9,135.8 L441.8,136.6 L441.6,137.4 L441.5,138.2 L441.4,139.0 L441.3,139.8 L441.2,140.6 L441.0,141.4 L440.9,142.2 L440.7,143.1 L440.5,144.0 L440.4,144.8 L440.2,145.5 L440.1,146.1 L440.0,146.6" fill="none" stroke="#e51a1a" stroke-width="1.9" stroke-linecap="round" stroke-linejoin="round"/><path d="M452.0,95.0 L452.3,95.7 L452.6,96.8 L453.0,97.9 L453.4,99.3 L453.9,100.7 L454.4,102.1 L455.0,103.4 L455.6,104.6 L456.3,105.7 L457.0,106.9 L457.8,108.0 L458.7,109.2 L459.5,110.3 L460.3,111.3 L461.0,112.2 L461.6,113.0 L462.1,113.7 L462.5,114.3 L462.9,114.9 L463.2,115.3 L463.4,115.7 L463.7,116.1 L463.8,116.4 L464.0,116.6" fill="none" stroke="#e51a1a" stroke-width="1.9" stroke-linecap="round" stroke-linejoin="round"/><defs><linearGradient id="hg108" gradientUnits="userSpaceOnUse" x1="441.5" y1="121.4" x2="450.5" y2="132.6"><stop offset="0" stop-color="#c41212"/><stop offset="0.55" stop-color="#ec2c2c"/><stop offset="1" stop-color="#c41212"/></linearGradient></defs><polygon points="457.1,126.4 456.8,126.4 456.4,126.3 456.0,126.2 455.6,125.9 455.2,125.5 454.8,125.1 454.4,124.5 454.0,123.8 453.6,123.1 453.3,122.3 453.0,121.4 452.9,120.4 452.7,119.4 452.7,118.4 452.8,117.4 453.0,116.4 453.2,115.3 453.6,114.3 454.0,113.4 454.6,112.5 455.2,111.6 455.9,110.8 456.7,110.1 457.6,109.5 450.5,115.1 449.7,115.7 448.9,116.4 448.2,117.2 447.5,118.1 447.0,119.0 446.5,120.0 446.2,121.0 445.9,122.0 445.8,123.0 445.7,124.1 445.7,125.1 445.8,126.1 446.0,127.0 446.3,127.9 446.6,128.7 446.9,129.4 447.3,130.1 447.7,130.7 448.2,131.1 448.6,131.5 449.0,131.8 449.4,132.0 449.8,132.0 450.1,132.0" fill="#9c0808" stroke="#9c0808" stroke-width="0.5" stroke-linejoin="round"/><polygon points="453.5,121.0 454.3,121.4 455.0,121.9 455.7,122.4 456.2,123.0 456.7,123.5 457.1,124.0 457.3,124.5 457.5,125.0 457.6,125.4 457.6,125.8 457.5,126.1 457.3,126.3 457.1,126.4 450.1,132.0 450.3,131.9 450.5,131.7 450.6,131.4 450.6,131.0 450.5,130.6 450.3,130.2 450.0,129.7 449.7,129.1 449.2,128.6 448.7,128.1 448.0,127.6 447.3,127.1 446.5,126.6" fill="url(#hg108)" stroke="#c41212" stroke-width="0.5" stroke-linejoin="round"/><polygon points="457.6,109.5 458.5,109.0 459.5,108.5 460.5,108.2 461.5,108.0 462.6,107.9 463.6,107.8 464.7,107.9 465.7,108.1 466.7,108.3 467.6,108.6 468.5,109.0 461.5,114.6 460.6,114.2 459.7,113.9 458.7,113.7 457.6,113.5 456.6,113.4 455.6,113.5 454.5,113.6 453.5,113.8 452.4,114.2 451.5,114.6 450.5,115.1" fill="url(#hg108)" stroke="#c41212" stroke-width="0.5" stroke-linejoin="round"/><path d="M416.0,125.0 L416.9,125.1 L418.0,125.3 L419.5,125.5 L421.0,125.7 L422.6,125.9 L424.2,126.2 L425.8,126.4 L427.2,126.6 L428.5,126.8 L429.8,127.0 L431.1,127.1 L432.4,127.3 L433.6,127.5 L434.8,127.7 L435.8,127.9 L436.8,128.2 L437.6,128.5 L438.3,128.8 L438.9,129.2 L439.4,129.6 L439.9,130.0 L440.4,130.5 L441.0,130.9 L441.6,131.4 L442.4,131.9 L443.3,132.4 L444.3,132.9 L445.3,133.5 L446.2,134.1 L447.0,134.7 L447.6,135.4 L448.0,136.2 L448.1,137.1 L448.0,138.0 L447.7,139.1 L447.3,140.2 L446.8,141.3 L446.2,142.3 L445.5,143.3 L444.8,144.2 L444.1,145.0 L443.2,145.7 L442.3,146.4 L441.3,147.0 L440.2,147.6 L439.1,148.1 L438.0,148.6 L436.8,149.0 L435.5,149.4 L434.0,149.7 L432.5,150.0 L430.9,150.3 L429.4,150.5 L427.9,150.6 L426.6,150.7 L425.6,150.6 L424.8,150.4 L424.2,150.1 L423.7,149.6 L423.3,149.1 L423.0,148.6 L422.8,148.1 L422.6,147.7 L422.4,147.4" fill="none" stroke="#e51a1a" stroke-width="1.9" stroke-linecap="round" stroke-linejoin="round"/><path d="M411.8,144.8 L411.0,144.8 L409.9,144.8 L408.6,144.8 L407.2,144.8 L405.7,144.8 L404.3,144.7 L403.1,144.6 L402.0,144.5 L401.1,144.3 L400.3,144.1 L399.6,143.8 L399.0,143.4 L398.4,143.1 L397.9,142.8 L397.5,142.6 L397.2,142.4" fill="none" stroke="#e51a1a" stroke-width="1.9" stroke-linecap="round" stroke-linejoin="round"/><g transform="translate(302,0)"><polygon points="94.2,141.9 93.8,142.7 93.3,143.8 92.8,145.0 92.1,146.4 91.4,147.9 90.7,149.4 90.0,150.9 89.4,152.4 88.8,153.7 88.2,155.1 87.6,156.5 86.9,157.9 86.3,159.3 85.7,160.7 85.1,162.1 84.6,163.6 84.0,165.2 83.4,166.9 83.0,168.1 79.6,167.0 81.5,176.0 88.4,169.9 85.1,168.8 85.5,167.6 86.1,165.9 86.6,164.4 87.2,163.0 87.8,161.5 88.4,160.1 89.0,158.7 89.6,157.4 90.2,156.0 90.8,154.6 91.4,153.2 92.0,151.8 92.7,150.4 93.4,148.8 94.1,147.4 94.7,146.0 95.3,144.7 95.8,143.7 96.2,142.9" fill="#e51a1a" stroke="#9c0808" stroke-width="0.6" stroke-linejoin="round"/><polygon points="94.2,141.9 93.8,142.7 93.3,143.8 92.8,145.0 92.1,146.4 91.4,147.9 90.7,149.4 90.0,150.9 89.4,152.4 88.8,153.7 88.2,155.1 87.6,156.5 86.9,157.9 86.3,159.3 85.7,160.7 85.1,162.1 84.6,163.6 84.0,165.2 83.4,166.9 83.0,168.1 83.2,168.1 83.7,167.0 84.3,165.3 84.8,163.7 85.4,162.2 86.0,160.8 86.6,159.4 87.2,158.0 87.8,156.6 88.4,155.2 89.0,153.8 89.6,152.5 90.3,151.1 91.0,149.6 91.7,148.0 92.4,146.6 93.0,145.2 93.6,143.9 94.1,142.8 94.5,142.1" fill="#eb4c4c" stroke="none"/><path d="M82.4,174.0 L82.0,174.3 L81.4,174.6 L80.8,175.1 L80.0,175.6 L79.3,176.1 L78.5,176.6 L77.7,177.0 L77.0,177.4 L76.3,177.7 L75.5,177.9 L74.8,178.0 L74.0,178.2 L73.3,178.3 L72.6,178.5 L72.1,178.8 L71.6,179.2 L71.2,179.7 L71.0,180.3 L70.8,181.0 L70.6,181.7 L70.6,182.4 L70.6,183.2 L70.6,183.9 L70.7,184.6 L70.8,185.3 L71.1,186.0 L71.3,186.8 L71.7,187.5 L72.0,188.2 L72.5,188.9 L72.9,189.5 L73.4,190.0 L74.0,190.4 L74.7,190.7 L75.5,190.9 L76.4,191.1 L77.2,191.3 L77.9,191.4 L78.5,191.6 L78.8,191.8 L78.9,192.0 L78.9,192.2 L78.7,192.5 L78.5,192.7 L78.1,192.9 L77.7,193.2 L77.4,193.4 L77.0,193.6 L76.6,193.8 L76.1,194.0 L75.6,194.1 L75.0,194.3 L74.5,194.5 L74.0,194.7 L73.6,195.0 L73.4,195.4 L73.3,195.9 L73.2,196.6 L73.2,197.3 L73.2,198.0 L73.4,198.8 L73.6,199.6 L73.9,200.2 L74.3,200.8 L74.8,201.3 L75.5,201.8 L76.4,202.2 L77.2,202.6 L78.1,202.9 L79.0,203.2 L79.9,203.4 L80.6,203.5 L81.3,203.5 L81.9,203.3 L82.6,203.1 L83.2,202.8 L83.8,202.4 L84.3,202.1 L84.7,201.9 L85.0,201.7" fill="none" stroke="#d01010" stroke-width="1.9" stroke-linecap="round" stroke-linejoin="round"/></g><path d="M422.4,151.4 L422.7,151.3 L423.2,151.1 L423.7,150.9 L424.3,150.7 L425.0,150.5 L425.7,150.2 L426.4,150.0 L427.2,149.8 L428.1,149.6 L429.1,149.4 L430.1,149.3 L431.2,149.1 L432.3,148.9 L433.3,148.7 L434.3,148.5 L435.2,148.2 L436.0,147.9 L436.7,147.4 L437.4,147.0 L438.1,146.5 L438.7,146.0 L439.2,145.6 L439.7,145.3 L440.0,145.0" fill="none" stroke="#e51a1a" stroke-width="1.8" stroke-linecap="round" stroke-linejoin="round"/><text x="251.8" y="36" font-size="12.7" font-family="Liberation Sans, Arial, sans-serif">distal Ub</text><text x="348.6" y="25" font-size="12.7" font-family="Liberation Sans, Arial, sans-serif">proximal Ub</text><text x="438.8" y="192.4" font-size="12.7" font-family="Liberation Sans, Arial, sans-serif">Rpn13<tspan font-size="7.2" dy="-4.6">NTD</tspan></text><text transform="translate(454,158) rotate(-45)" font-size="12.7" font-family="Liberation Sans, Arial, sans-serif">Rpn2<tspan font-size="7.2" dy="-4.6">CTD</tspan><tspan dy="4.6">-Ub</tspan></text>

<text x="0.2" y="12.8" font-size="18" text-anchor="start" font-weight="bold" font-style="normal" fill="#000" >a</text><text x="251" y="12.8" font-size="18" text-anchor="start" font-weight="bold" font-style="normal" fill="#000" >d</text><text x="0" y="240.6" font-size="18" text-anchor="start" font-weight="bold" font-style="normal" fill="#000" >b</text><text x="250.6" y="240.8" font-size="19" text-anchor="start" font-weight="bold" font-style="normal" fill="#000" >e</text><text x="-0.2" y="476.7" font-size="18.5" text-anchor="start" font-weight="bold" font-style="normal" fill="#000" >c</text><text x="251" y="476.7" font-size="18.5" text-anchor="start" font-weight="bold" font-style="normal" fill="#000" >f</text><g stroke="#000" stroke-width="1" fill="none"><path d="M40.5,251.5 V408.5 H219.6"/><path d="M32.5,408.50 H40.5"/><path d="M32.5,330.00 H40.5"/><path d="M32.5,251.50 H40.5"/><path d="M37.0,369.25 H40.5"/><path d="M37.0,290.75 H40.5"/><path d="M40.50,408.5 V415.5"/><path d="M73.84,408.5 V415.5"/><path d="M107.18,408.5 V415.5"/><path d="M140.52,408.5 V415.5"/><path d="M173.86,408.5 V415.5"/><path d="M207.20,408.5 V415.5"/><path d="M57.17,408.5 V412.5"/><path d="M90.51,408.5 V412.5"/><path d="M123.85,408.5 V412.5"/><path d="M157.19,408.5 V412.5"/><path d="M190.53,408.5 V412.5"/></g><text x="40.50" y="427.7" font-size="12" text-anchor="middle" font-weight="normal" font-style="normal" fill="#000" >0</text><text x="73.84" y="427.7" font-size="12" text-anchor="middle" font-weight="normal" font-style="normal" fill="#000" >0.2</text><text x="107.18" y="427.7" font-size="12" text-anchor="middle" font-weight="normal" font-style="normal" fill="#000" >0.4</text><text x="140.52" y="427.7" font-size="12" text-anchor="middle" font-weight="normal" font-style="normal" fill="#000" >0.6</text><text x="173.86" y="427.7" font-size="12" text-anchor="middle" font-weight="normal" font-style="normal" fill="#000" >0.8</text><text x="207.20" y="427.7" font-size="12" text-anchor="middle" font-weight="normal" font-style="normal" fill="#000" >1.0</text><text x="29.3" y="412.70" font-size="12" text-anchor="end" font-weight="normal" font-style="normal" fill="#000" >0</text><text x="29.3" y="334.20" font-size="12" text-anchor="end" font-weight="normal" font-style="normal" fill="#000" >10</text><text x="29.3" y="255.70" font-size="12" text-anchor="end" font-weight="normal" font-style="normal" fill="#000" >20</text><polyline points="40.50,408.50 40.50,408.49 40.50,408.44 40.51,408.37 40.52,408.28 40.53,408.15 40.54,408.00 40.55,407.82 40.57,407.61 40.58,407.38 40.60,407.12 40.63,406.83 40.65,406.52 40.68,406.18 40.70,405.82 40.73,405.43 40.77,405.02 40.80,404.58 40.84,404.12 40.88,403.64 40.92,403.13 40.96,402.61 41.00,402.06 41.05,401.48 41.10,400.89 41.15,400.28 41.20,399.65 41.26,399.00 41.32,398.33 41.38,397.65 41.44,396.95 41.50,396.23 41.57,395.49 41.63,394.74 41.70,393.98 41.78,393.20 41.85,392.41 41.93,391.61 42.00,390.79 42.08,389.97 42.17,389.13 42.25,388.28 42.34,387.43 42.43,386.56 42.52,385.69 42.61,384.81 42.70,383.92 42.80,383.02 42.90,382.12 43.00,381.21 43.10,380.30 43.21,379.38 43.32,378.46 43.43,377.54 43.54,376.61 43.65,375.69 43.77,374.75 43.89,373.82 44.00,372.89 44.13,371.95 44.25,371.02 44.38,370.08 44.50,369.15 44.64,368.22 44.77,367.29 44.90,366.36 45.04,365.43 45.18,364.50 45.32,363.58 45.46,362.66 45.61,361.74 45.75,360.82 45.90,359.91 46.05,359.01 46.21,358.10 46.36,357.21 46.52,356.31 46.68,355.42 46.84,354.54 47.00,353.66 47.17,352.79 47.34,351.92 47.51,351.05 47.68,350.20 47.85,349.35 48.03,348.50 48.21,347.66 48.39,346.83 48.57,346.00 48.75,345.18 48.94,344.37 49.13,343.56 49.32,342.76 49.51,341.96 49.71,341.18 49.90,340.40 50.10,339.62 50.30,338.85 50.51,338.09 50.71,337.34 50.92,336.59 51.13,335.86 51.34,335.12 51.55,334.40 51.77,333.68 51.99,332.97 52.21,332.26 52.43,331.56 52.65,330.87 52.88,330.19 53.11,329.51 53.34,328.84 53.57,328.18 53.80,327.52 54.04,326.87 54.28,326.23 54.52,325.59 54.76,324.96 55.01,324.34 55.25,323.73 55.50,323.12 55.75,322.51 56.01,321.92 56.26,321.33 56.52,320.74 56.78,320.17 57.04,319.59 57.30,319.03 57.57,318.47 57.84,317.92 58.11,317.37 58.38,316.83 58.65,316.30 58.93,315.77 59.21,315.25 59.49,314.73 59.77,314.22 60.05,313.72 60.34,313.22 60.63,312.72 60.92,312.24 61.21,311.75 61.51,311.28 61.81,310.80 62.10,310.34 62.41,309.88 62.71,309.42 63.01,308.97 63.32,308.53 63.63,308.08 63.94,307.65 64.26,307.22 64.57,306.79 64.89,306.37 65.21,305.96 65.53,305.54 65.86,305.14 66.18,304.74 66.51,304.34 66.84,303.95 67.17,303.56 67.51,303.17 67.84,302.79 68.18,302.42 68.52,302.05 68.87,301.68 69.21,301.32 69.56,300.96 69.91,300.60 70.26,300.25 70.61,299.90 70.97,299.56 71.32,299.22 71.68,298.89 72.04,298.56 72.41,298.23 72.77,297.90 73.14,297.58 73.51,297.27 73.88,296.95 74.26,296.64 74.63,296.34 75.01,296.03 75.39,295.73 75.77,295.44 76.16,295.14 76.54,294.85 76.93,294.57 77.32,294.28 77.72,294.00 78.11,293.72 78.51,293.45 78.91,293.18 79.31,292.91 79.71,292.64 80.12,292.38 80.52,292.12 80.93,291.86 81.35,291.61 81.76,291.36 82.17,291.11 82.59,290.86 83.01,290.62 83.43,290.38 83.86,290.14 84.28,289.90 84.71,289.67 85.14,289.44 85.58,289.21 86.01,288.99 86.45,288.76 86.89,288.54 87.33,288.32 87.77,288.11 88.21,287.89 88.66,287.68 89.11,287.47 89.56,287.26 90.01,287.06 90.47,286.85 90.93,286.65 91.39,286.45 91.85,286.25 92.31,286.06 92.78,285.87 93.24,285.67 93.71,285.48 94.19,285.30 94.66,285.11 95.14,284.93 95.62,284.75 96.10,284.57 96.58,284.39 97.06,284.21 97.55,284.04 98.04,283.86 98.53,283.69 99.02,283.52 99.52,283.36 100.01,283.19 100.51,283.03 101.01,282.86 101.52,282.70 102.02,282.54 102.53,282.38 103.04,282.23 103.55,282.07 104.06,281.92 104.58,281.77 105.10,281.62 105.62,281.47 106.14,281.32 106.66,281.17 107.19,281.03 107.72,280.88 108.25,280.74 108.78,280.60 109.31,280.46 109.85,280.32 110.39,280.19 110.93,280.05 111.47,279.92 112.02,279.78 112.57,279.65 113.11,279.52 113.67,279.39 114.22,279.26 114.77,279.14 115.33,279.01 115.89,278.89 116.45,278.76 117.02,278.64 117.58,278.52 118.15,278.40 118.72,278.28 119.29,278.16 119.87,278.05 120.44,277.93 121.02,277.82 121.60,277.70 122.18,277.59 122.77,277.48 123.35,277.37 123.94,277.26 124.53,277.15 125.13,277.04 125.72,276.93 126.32,276.83 126.92,276.72 127.52,276.62 128.12,276.52 128.73,276.41 129.33,276.31 129.94,276.21 130.56,276.11 131.17,276.01 131.78,275.92 132.40,275.82 133.02,275.72 133.64,275.63 134.27,275.53 134.89,275.44 135.52,275.35 136.15,275.25 136.79,275.16 137.42,275.07 138.06,274.98 138.70,274.89 139.34,274.81 139.98,274.72 140.62,274.63 141.27,274.54 141.92,274.46 142.57,274.37 143.22,274.29 143.88,274.21 144.54,274.13 145.20,274.04 145.86,273.96 146.52,273.88 147.19,273.80 147.86,273.72 148.53,273.64 149.20,273.57 149.87,273.49 150.55,273.41 151.23,273.34 151.91,273.26 152.59,273.19 153.27,273.11 153.96,273.04 154.65,272.96 155.34,272.89 156.03,272.82 156.73,272.75 157.42,272.68 158.12,272.61 158.82,272.54 159.53,272.47 160.23,272.40 160.94,272.33 161.65,272.26 162.36,272.20 163.08,272.13 163.79,272.07 164.51,272.00 165.23,271.93 165.95,271.87 166.68,271.81 167.40,271.74 168.13,271.68 168.86,271.62 169.59,271.56 170.33,271.49 171.06,271.43 171.80,271.37 172.54,271.31 173.29,271.25 174.03,271.19 174.78,271.13 175.53,271.08 176.28,271.02 177.03,270.96 177.79,270.90 178.54,270.85 179.30,270.79 180.07,270.73 180.83,270.68 181.59,270.62 182.36,270.57 183.13,270.52 183.90,270.46 184.68,270.41 185.46,270.35 186.23,270.30 187.01,270.25 187.80,270.20 188.58,270.15 189.37,270.10 190.16,270.04 190.95,269.99 191.74,269.94 192.53,269.89 193.33,269.85 194.13,269.80 194.93,269.75 195.74,269.70 196.54,269.65 197.35,269.60 198.16,269.56 198.97,269.51 199.78,269.46 200.60,269.42 201.42,269.37 202.24,269.32 203.06,269.28 203.88,269.23 204.71,269.19 205.54,269.15 206.37,269.10 207.20,269.06" fill="none" stroke="#ff0000" stroke-width="2.2" stroke-linejoin="round"/><g stroke="#000" stroke-width="1.1" fill="none"><path d="M57.17,315.01 V323.01 M53.67,315.01 H60.67 M53.67,323.01 H60.67"/></g><circle cx="57.17" cy="319.01" r="3.7" fill="#fff" stroke="#000" stroke-width="1.2"/><g stroke="#000" stroke-width="1.1" fill="none"><path d="M123.85,277.01 V284.08 M120.35,277.01 H127.35 M120.35,284.08 H127.35"/></g><circle cx="123.85" cy="280.55" r="3.7" fill="#fff" stroke="#000" stroke-width="1.2"/><g stroke="#000" stroke-width="1.1" fill="none"><path d="M207.20,259.74 V271.52 M203.70,259.74 H210.70 M203.70,271.52 H210.70"/></g><circle cx="207.20" cy="265.63" r="3.7" fill="#fff" stroke="#000" stroke-width="1.2"/><text x="25" y="444.7" font-size="12.7">1:1 premixed Rpn13<tspan font-size="7.2" dy="-4.6">NTD</tspan><tspan dy="4.6">:Rpn2</tspan><tspan font-size="7.2" dy="-4.6">CTD</tspan><tspan dy="4.6"> (μM)</tspan></text><text x="92.9" y="354.25" font-size="12.7">K<tspan font-size="7.7" dy="3.6">D</tspan><tspan dy="-3.6">= 66.8 ± 13.9 nM</tspan></text><g stroke="#000" stroke-width="1" fill="none"><path d="M41.5,490.5 V645.5 H221"/><path d="M33.5,645.50 H41.5"/><path d="M33.5,567.80 H41.5"/><path d="M33.5,490.10 H41.5"/><path d="M38.0,606.65 H41.5"/><path d="M38.0,528.95 H41.5"/><path d="M41.50,645.5 V652.5"/><path d="M76.05,645.5 V652.5"/><path d="M110.60,645.5 V652.5"/><path d="M145.15,645.5 V652.5"/><path d="M179.70,645.5 V652.5"/><path d="M214.25,645.5 V652.5"/><path d="M58.77,645.5 V649.5"/><path d="M93.32,645.5 V649.5"/><path d="M127.88,645.5 V649.5"/><path d="M162.42,645.5 V649.5"/><path d="M196.97,645.5 V649.5"/></g><text x="41.50" y="664.7" font-size="12" text-anchor="middle" font-weight="normal" font-style="normal" fill="#000" >0</text><text x="76.05" y="664.7" font-size="12" text-anchor="middle" font-weight="normal" font-style="normal" fill="#000" >1</text><text x="110.60" y="664.7" font-size="12" text-anchor="middle" font-weight="normal" font-style="normal" fill="#000" >2</text><text x="145.15" y="664.7" font-size="12" text-anchor="middle" font-weight="normal" font-style="normal" fill="#000" >3</text><text x="179.70" y="664.7" font-size="12" text-anchor="middle" font-weight="normal" font-style="normal" fill="#000" >4</text><text x="214.25" y="664.7" font-size="12" text-anchor="middle" font-weight="normal" font-style="normal" fill="#000" >5</text><text x="30.3" y="649.70" font-size="12" text-anchor="end" font-weight="normal" font-style="normal" fill="#000" >0</text><text x="30.3" y="572.00" font-size="12" text-anchor="end" font-weight="normal" font-style="normal" fill="#000" >10</text><text x="30.3" y="494.30" font-size="12" text-anchor="end" font-weight="normal" font-style="normal" fill="#000" >20</text><polyline points="41.50,645.50 41.50,645.40 41.50,645.12 41.51,644.64 41.52,643.98 41.53,643.14 41.54,642.13 41.55,640.96 41.57,639.63 41.59,638.15 41.61,636.54 41.63,634.81 41.66,632.97 41.68,631.02 41.71,628.99 41.74,626.89 41.78,624.72 41.81,622.50 41.85,620.23 41.89,617.94 41.93,615.62 41.98,613.29 42.02,610.96 42.07,608.62 42.12,606.30 42.17,603.99 42.23,601.70 42.29,599.44 42.35,597.21 42.41,595.02 42.47,592.86 42.54,590.74 42.61,588.66 42.68,586.63 42.75,584.64 42.82,582.70 42.90,580.81 42.98,578.97 43.06,577.17 43.14,575.42 43.23,573.72 43.31,572.06 43.40,570.45 43.50,568.89 43.59,567.38 43.69,565.91 43.78,564.48 43.89,563.10 43.99,561.75 44.09,560.45 44.20,559.19 44.31,557.97 44.42,556.78 44.53,555.63 44.65,554.52 44.77,553.44 44.89,552.40 45.01,551.38 45.13,550.40 45.26,549.45 45.39,548.53 45.52,547.64 45.65,546.77 45.79,545.93 45.92,545.12 46.06,544.33 46.20,543.56 46.35,542.82 46.49,542.10 46.64,541.41 46.79,540.73 46.94,540.07 47.10,539.43 47.25,538.81 47.41,538.21 47.57,537.63 47.74,537.06 47.90,536.51 48.07,535.98 48.24,535.46 48.41,534.96 48.58,534.46 48.76,533.99 48.94,533.52 49.12,533.07 49.30,532.64 49.49,532.21 49.67,531.79 49.86,531.39 50.05,531.00 50.25,530.62 50.44,530.24 50.64,529.88 50.84,529.53 51.04,529.18 51.24,528.85 51.45,528.52 51.66,528.20 51.87,527.89 52.08,527.59 52.30,527.30 52.51,527.01 52.73,526.73 52.95,526.45 53.18,526.19 53.40,525.93 53.63,525.67 53.86,525.42 54.09,525.18 54.33,524.94 54.56,524.71 54.80,524.49 55.04,524.27 55.29,524.05 55.53,523.84 55.78,523.64 56.03,523.43 56.28,523.24 56.53,523.05 56.79,522.86 57.05,522.67 57.31,522.49 57.57,522.32 57.83,522.14 58.10,521.98 58.37,521.81 58.64,521.65 58.91,521.49 59.19,521.34 59.47,521.18 59.75,521.04 60.03,520.89 60.31,520.75 60.60,520.61 60.89,520.47 61.18,520.34 61.47,520.21 61.76,520.08 62.06,519.95 62.36,519.83 62.66,519.71 62.97,519.59 63.27,519.47 63.58,519.36 63.89,519.24 64.20,519.13 64.51,519.03 64.83,518.92 65.15,518.82 65.47,518.71 65.79,518.61 66.12,518.51 66.45,518.42 66.77,518.32 67.11,518.23 67.44,518.14 67.78,518.05 68.11,517.96 68.45,517.87 68.80,517.79 69.14,517.70 69.49,517.62 69.84,517.54 70.19,517.46 70.54,517.38 70.89,517.31 71.25,517.23 71.61,517.16 71.97,517.08 72.34,517.01 72.70,516.94 73.07,516.87 73.44,516.80 73.81,516.73 74.19,516.67 74.57,516.60 74.94,516.54 75.33,516.48 75.71,516.41 76.09,516.35 76.48,516.29 76.87,516.23 77.26,516.18 77.66,516.12 78.05,516.06 78.45,516.01 78.85,515.95 79.26,515.90 79.66,515.84 80.07,515.79 80.48,515.74 80.89,515.69 81.30,515.64 81.72,515.59 82.14,515.54 82.56,515.49 82.98,515.45 83.40,515.40 83.83,515.35 84.26,515.31 84.69,515.26 85.12,515.22 85.56,515.18 85.99,515.13 86.43,515.09 86.87,515.05 87.32,515.01 87.76,514.97 88.21,514.93 88.66,514.89 89.11,514.85 89.57,514.81 90.03,514.78 90.48,514.74 90.95,514.70 91.41,514.67 91.87,514.63 92.34,514.60 92.81,514.56 93.28,514.53 93.76,514.49 94.23,514.46 94.71,514.43 95.19,514.39 95.67,514.36 96.16,514.33 96.65,514.30 97.14,514.27 97.63,514.24 98.12,514.21 98.62,514.18 99.11,514.15 99.61,514.12 100.12,514.09 100.62,514.06 101.13,514.03 101.63,514.01 102.14,513.98 102.66,513.95 103.17,513.93 103.69,513.90 104.21,513.87 104.73,513.85 105.25,513.82 105.78,513.80 106.31,513.77 106.84,513.75 107.37,513.72 107.91,513.70 108.44,513.68 108.98,513.65 109.52,513.63 110.06,513.61 110.61,513.59 111.16,513.56 111.71,513.54 112.26,513.52 112.81,513.50 113.37,513.48 113.93,513.46 114.49,513.43 115.05,513.41 115.61,513.39 116.18,513.37 116.75,513.35 117.32,513.33 117.89,513.31 118.47,513.30 119.05,513.28 119.63,513.26 120.21,513.24 120.79,513.22 121.38,513.20 121.97,513.18 122.56,513.17 123.15,513.15 123.75,513.13 124.34,513.11 124.94,513.10 125.54,513.08 126.15,513.06 126.75,513.05 127.36,513.03 127.97,513.01 128.58,513.00 129.20,512.98 129.81,512.97 130.43,512.95 131.05,512.94 131.68,512.92 132.30,512.91 132.93,512.89 133.56,512.88 134.19,512.86 134.82,512.85 135.46,512.83 136.10,512.82 136.74,512.80 137.38,512.79 138.03,512.78 138.67,512.76 139.32,512.75 139.97,512.74 140.63,512.72 141.28,512.71 141.94,512.70 142.60,512.68 143.26,512.67 143.92,512.66 144.59,512.65 145.26,512.63 145.93,512.62 146.60,512.61 147.28,512.60 147.95,512.58 148.63,512.57 149.31,512.56 150.00,512.55 150.68,512.54 151.37,512.53 152.06,512.51 152.75,512.50 153.45,512.49 154.14,512.48 154.84,512.47 155.54,512.46 156.24,512.45 156.95,512.44 157.66,512.43 158.37,512.42 159.08,512.41 159.79,512.40 160.51,512.39 161.23,512.38 161.95,512.37 162.67,512.36 163.39,512.35 164.12,512.34 164.85,512.33 165.58,512.32 166.31,512.31 167.05,512.30 167.78,512.29 168.52,512.28 169.27,512.27 170.01,512.26 170.76,512.25 171.50,512.25 172.25,512.24 173.01,512.23 173.76,512.22 174.52,512.21 175.28,512.20 176.04,512.19 176.80,512.18 177.57,512.18 178.34,512.17 179.11,512.16 179.88,512.15 180.65,512.14 181.43,512.14 182.21,512.13 182.99,512.12 183.77,512.11 184.55,512.10 185.34,512.10 186.13,512.09 186.92,512.08 187.72,512.07 188.51,512.07 189.31,512.06 190.11,512.05 190.91,512.05 191.72,512.04 192.52,512.03 193.33,512.02 194.14,512.02 194.95,512.01 195.77,512.00 196.59,512.00 197.41,511.99 198.23,511.98 199.05,511.98 199.88,511.97 200.71,511.96 201.54,511.96 202.37,511.95 203.20,511.94 204.04,511.94 204.88,511.93 205.72,511.92 206.56,511.92 207.41,511.91 208.26,511.91 209.11,511.90 209.96,511.89 210.81,511.89 211.67,511.88 212.53,511.88 213.39,511.87 214.25,511.86" fill="none" stroke="#ff0000" stroke-width="2.2" stroke-linejoin="round"/><g stroke="#000" stroke-width="1.1" fill="none"><path d="M44.95,541.38 V552.57 M41.45,541.38 H48.45 M41.45,552.57 H48.45"/></g><circle cx="44.95" cy="546.98" r="3.7" fill="#fff" stroke="#000" stroke-width="1.2"/><g stroke="#000" stroke-width="1.1" fill="none"><path d="M58.77,518.93 V530.12 M55.27,518.93 H62.27 M55.27,530.12 H62.27"/></g><circle cx="58.77" cy="524.52" r="3.7" fill="#fff" stroke="#000" stroke-width="1.2"/><g stroke="#000" stroke-width="1.1" fill="none"><path d="M76.05,510.15 V521.80 M72.55,510.15 H79.55 M72.55,521.80 H79.55"/></g><circle cx="76.05" cy="515.97" r="3.7" fill="#fff" stroke="#000" stroke-width="1.2"/><g stroke="#000" stroke-width="1.1" fill="none"><path d="M214.25,491.89 V512.09 M210.75,491.89 H217.75 M210.75,512.09 H217.75"/></g><circle cx="214.25" cy="501.99" r="3.7" fill="#fff" stroke="#000" stroke-width="1.2"/><text x="32.3" y="681.4" font-size="12.7">1:1 premixed Rpn13:Rpn2<tspan font-size="7.2" dy="-4.6">CTD</tspan><tspan dy="4.6"> (μM)</tspan></text><text x="92.9" y="592.5" font-size="12.7">K<tspan font-size="7.7" dy="3.6">D</tspan><tspan dy="-3.6">= 43.9 ± 12.8 nM</tspan></text><text x="0" y="0" font-size="12.7" text-anchor="middle" font-weight="normal" font-style="normal" fill="#000" transform="translate(9.9,334.4) rotate(-90)">population increase (%)</text><text x="0" y="0" font-size="12.7" text-anchor="middle" font-weight="normal" font-style="normal" fill="#000" transform="translate(9.9,572.3) rotate(-90)">population increase (%)</text><rect x="300.5" y="249.5" width="186.0" height="158.0" fill="none" stroke="#000" stroke-width="1"/><g stroke="#333" stroke-width="0.8" fill="#fff"><rect x="302.82" y="406.45" width="4.65" height="1.05"/><rect x="307.48" y="405.75" width="4.65" height="1.75"/><rect x="312.12" y="402.85" width="4.65" height="4.66"/><rect x="316.77" y="404.45" width="4.65" height="3.04"/><rect x="321.43" y="405.05" width="4.65" height="2.45"/><rect x="326.07" y="403.30" width="4.65" height="4.20"/><rect x="330.73" y="402.25" width="4.65" height="5.25"/><rect x="335.38" y="399.10" width="4.65" height="8.40"/><rect x="340.02" y="400.85" width="4.65" height="6.65"/><rect x="344.68" y="400.85" width="4.65" height="6.65"/><rect x="349.32" y="400.85" width="4.65" height="6.65"/><rect x="353.98" y="397.00" width="4.65" height="10.50"/><rect x="358.62" y="397.70" width="4.65" height="9.80"/><rect x="363.27" y="396.65" width="4.65" height="10.85"/><rect x="367.93" y="391.75" width="4.65" height="15.75"/><rect x="372.57" y="392.45" width="4.65" height="15.05"/><rect x="377.23" y="385.80" width="4.65" height="21.70"/><rect x="381.88" y="381.60" width="4.65" height="25.90"/><rect x="386.52" y="381.60" width="4.65" height="25.90"/><rect x="391.18" y="371.10" width="4.65" height="36.40"/><rect x="395.83" y="376.00" width="4.65" height="31.50"/><rect x="400.48" y="355.00" width="4.65" height="52.50"/><rect x="405.12" y="351.85" width="4.65" height="55.65"/><rect x="409.78" y="328.75" width="4.65" height="78.75"/><rect x="414.43" y="327.35" width="4.65" height="80.15"/><rect x="419.08" y="310.90" width="4.65" height="96.60"/><rect x="423.73" y="285.70" width="4.65" height="121.80"/><rect x="428.38" y="307.75" width="4.65" height="99.75"/><rect x="433.03" y="271.00" width="4.65" height="136.50"/><rect x="437.68" y="291.65" width="4.65" height="115.85"/><rect x="442.33" y="292.00" width="4.65" height="115.50"/><rect x="446.98" y="322.10" width="4.65" height="85.40"/><rect x="451.62" y="354.65" width="4.65" height="52.85"/><rect x="456.28" y="376.70" width="4.65" height="30.80"/><rect x="460.93" y="391.05" width="4.65" height="16.45"/><rect x="465.58" y="398.75" width="4.65" height="8.75"/><rect x="470.23" y="405.75" width="4.65" height="1.75"/><rect x="474.88" y="406.45" width="4.65" height="1.05"/></g><polygon points="300.5,407.5 300.50,407.05 301.43,407.00 302.36,406.94 303.29,406.88 304.22,406.82 305.15,406.75 306.08,406.67 307.01,406.59 307.94,406.51 308.87,406.41 309.80,406.31 310.73,406.21 311.66,406.09 312.59,405.97 313.52,405.85 314.45,405.71 315.38,405.57 316.31,405.43 317.24,405.27 318.17,405.11 319.10,404.95 320.03,404.78 320.96,404.60 321.89,404.42 322.82,404.23 323.75,404.04 324.68,403.84 325.61,403.65 326.54,403.45 327.47,403.24 328.40,403.04 329.33,402.84 330.26,402.64 331.19,402.44 332.12,402.24 333.05,402.05 333.98,401.86 334.91,401.67 335.84,401.50 336.77,401.33 337.70,401.17 338.63,401.01 339.56,400.87 340.49,400.74 341.42,400.62 342.35,400.51 343.28,400.42 344.21,400.34 345.14,400.27 346.07,400.22 347.00,400.18 347.93,400.16 348.86,400.15 349.79,400.16 350.72,400.18 351.65,400.22 352.58,400.27 353.51,400.34 354.44,400.42 355.37,400.51 356.30,400.62 357.23,400.74 358.16,400.87 359.09,401.01 360.02,401.17 360.95,401.33 361.88,401.50 362.81,401.67 363.74,401.86 364.67,402.05 365.60,402.24 366.53,402.44 367.46,402.64 368.39,402.84 369.32,403.04 370.25,403.24 371.18,403.45 372.11,403.65 373.04,403.84 373.97,404.04 374.90,404.23 375.83,404.42 376.76,404.60 377.69,404.78 378.62,404.95 379.55,405.11 380.48,405.27 381.41,405.43 382.34,405.57 383.27,405.71 384.20,405.85 385.13,405.97 386.06,406.09 386.99,406.21 387.92,406.31 388.85,406.41 389.78,406.51 390.71,406.59 391.64,406.67 392.57,406.75 393.50,406.82 394.43,406.88 395.36,406.94 396.29,407.00 397.22,407.05 398.15,407.10 399.08,407.14 400.01,407.18 400.94,407.21 401.87,407.24 402.80,407.27 403.73,407.30 404.66,407.32 405.59,407.34 406.52,407.36 407.45,407.38 408.38,407.39 409.31,407.41 410.24,407.42 411.17,407.43 412.10,407.44 413.03,407.45 413.96,407.45 414.89,407.46 415.82,407.47 416.75,407.47 417.68,407.47 418.61,407.48 419.54,407.48 420.47,407.48 421.40,407.49 422.33,407.49 423.26,407.49 424.19,407.49 425.12,407.49 426.05,407.49 426.98,407.49 427.91,407.50 428.84,407.50 429.77,407.50 430.70,407.50 431.63,407.50 432.56,407.50 433.49,407.50 434.42,407.50 435.35,407.50 436.28,407.50 437.21,407.50 438.14,407.50 439.07,407.50 440.00,407.50 440.93,407.50 441.86,407.50 442.79,407.50 443.72,407.50 444.65,407.50 445.58,407.50 446.51,407.50 447.44,407.50 448.37,407.50 449.30,407.50 450.23,407.50 451.16,407.50 452.09,407.50 453.02,407.50 453.95,407.50 454.88,407.50 455.81,407.50 456.74,407.50 457.67,407.50 458.60,407.50 459.53,407.50 460.46,407.50 461.39,407.50 462.32,407.50 463.25,407.50 464.18,407.50 465.11,407.50 466.04,407.50 466.97,407.50 467.90,407.50 468.83,407.50 469.76,407.50 470.69,407.50 471.62,407.50 472.55,407.50 473.48,407.50 474.41,407.50 475.34,407.50 476.27,407.50 477.20,407.50 478.13,407.50 479.06,407.50 479.99,407.50 480.92,407.50 481.85,407.50 482.78,407.50 483.71,407.50 484.64,407.50 485.57,407.50 486.50,407.50 486.5,407.5" fill="#3333ff" fill-opacity="0.6" stroke="none"/><polygon points="300.5,407.5 300.50,407.50 301.43,407.50 302.36,407.50 303.29,407.50 304.22,407.50 305.15,407.50 306.08,407.50 307.01,407.50 307.94,407.50 308.87,407.50 309.80,407.50 310.73,407.50 311.66,407.50 312.59,407.50 313.52,407.50 314.45,407.50 315.38,407.50 316.31,407.50 317.24,407.50 318.17,407.50 319.10,407.50 320.03,407.50 320.96,407.50 321.89,407.50 322.82,407.50 323.75,407.50 324.68,407.50 325.61,407.50 326.54,407.50 327.47,407.50 328.40,407.50 329.33,407.49 330.26,407.49 331.19,407.49 332.12,407.49 333.05,407.49 333.98,407.48 334.91,407.48 335.84,407.48 336.77,407.47 337.70,407.47 338.63,407.46 339.56,407.45 340.49,407.44 341.42,407.43 342.35,407.41 343.28,407.40 344.21,407.38 345.14,407.35 346.07,407.33 347.00,407.29 347.93,407.26 348.86,407.22 349.79,407.17 350.72,407.11 351.65,407.05 352.58,406.97 353.51,406.89 354.44,406.79 355.37,406.68 356.30,406.56 357.23,406.41 358.16,406.26 359.09,406.08 360.02,405.88 360.95,405.66 361.88,405.41 362.81,405.13 363.74,404.83 364.67,404.49 365.60,404.12 366.53,403.71 367.46,403.27 368.39,402.78 369.32,402.25 370.25,401.68 371.18,401.06 372.11,400.39 373.04,399.67 373.97,398.90 374.90,398.08 375.83,397.21 376.76,396.28 377.69,395.30 378.62,394.27 379.55,393.18 380.48,392.05 381.41,390.86 382.34,389.64 383.27,388.36 384.20,387.05 385.13,385.71 386.06,384.33 386.99,382.93 387.92,381.51 388.85,380.07 389.78,378.63 390.71,377.19 391.64,375.75 392.57,374.33 393.50,372.94 394.43,371.57 395.36,370.24 396.29,368.96 397.22,367.74 398.15,366.58 399.08,365.49 400.01,364.48 400.94,363.56 401.87,362.73 402.80,361.99 403.73,361.36 404.66,360.84 405.59,360.43 406.52,360.14 407.45,359.96 408.38,359.90 409.31,359.96 410.24,360.14 411.17,360.43 412.10,360.84 413.03,361.36 413.96,361.99 414.89,362.73 415.82,363.56 416.75,364.48 417.68,365.49 418.61,366.58 419.54,367.74 420.47,368.96 421.40,370.24 422.33,371.57 423.26,372.94 424.19,374.33 425.12,375.75 426.05,377.19 426.98,378.63 427.91,380.07 428.84,381.51 429.77,382.93 430.70,384.33 431.63,385.71 432.56,387.05 433.49,388.36 434.42,389.64 435.35,390.86 436.28,392.05 437.21,393.18 438.14,394.27 439.07,395.30 440.00,396.28 440.93,397.21 441.86,398.08 442.79,398.90 443.72,399.67 444.65,400.39 445.58,401.06 446.51,401.68 447.44,402.25 448.37,402.78 449.30,403.27 450.23,403.71 451.16,404.12 452.09,404.49 453.02,404.83 453.95,405.13 454.88,405.41 455.81,405.66 456.74,405.88 457.67,406.08 458.60,406.26 459.53,406.41 460.46,406.56 461.39,406.68 462.32,406.79 463.25,406.89 464.18,406.97 465.11,407.05 466.04,407.11 466.97,407.17 467.90,407.22 468.83,407.26 469.76,407.29 470.69,407.33 471.62,407.35 472.55,407.38 473.48,407.40 474.41,407.41 475.34,407.43 476.27,407.44 477.20,407.45 478.13,407.46 479.06,407.47 479.99,407.47 480.92,407.48 481.85,407.48 482.78,407.48 483.71,407.49 484.64,407.49 485.57,407.49 486.50,407.49 486.5,407.5" fill="#33ffff" fill-opacity="0.6" stroke="none"/><polygon points="300.5,407.5 300.50,407.50 301.43,407.50 302.36,407.50 303.29,407.50 304.22,407.50 305.15,407.50 306.08,407.50 307.01,407.50 307.94,407.50 308.87,407.50 309.80,407.50 310.73,407.50 311.66,407.50 312.59,407.50 313.52,407.50 314.45,407.50 315.38,407.50 316.31,407.50 317.24,407.50 318.17,407.50 319.10,407.50 320.03,407.50 320.96,407.50 321.89,407.50 322.82,407.50 323.75,407.50 324.68,407.50 325.61,407.50 326.54,407.50 327.47,407.50 328.40,407.50 329.33,407.50 330.26,407.50 331.19,407.50 332.12,407.50 333.05,407.50 333.98,407.50 334.91,407.50 335.84,407.50 336.77,407.50 337.70,407.50 338.63,407.50 339.56,407.50 340.49,407.50 341.42,407.50 342.35,407.50 343.28,407.50 344.21,407.50 345.14,407.50 346.07,407.50 347.00,407.50 347.93,407.50 348.86,407.50 349.79,407.50 350.72,407.50 351.65,407.50 352.58,407.50 353.51,407.50 354.44,407.50 355.37,407.50 356.30,407.50 357.23,407.50 358.16,407.50 359.09,407.50 360.02,407.50 360.95,407.50 361.88,407.50 362.81,407.50 363.74,407.50 364.67,407.50 365.60,407.50 366.53,407.50 367.46,407.50 368.39,407.50 369.32,407.50 370.25,407.50 371.18,407.50 372.11,407.50 373.04,407.50 373.97,407.50 374.90,407.50 375.83,407.50 376.76,407.50 377.69,407.50 378.62,407.50 379.55,407.50 380.48,407.50 381.41,407.49 382.34,407.49 383.27,407.49 384.20,407.48 385.13,407.48 386.06,407.47 386.99,407.46 387.92,407.45 388.85,407.43 389.78,407.41 390.71,407.39 391.64,407.35 392.57,407.31 393.50,407.26 394.43,407.19 395.36,407.11 396.29,407.00 397.22,406.88 398.15,406.72 399.08,406.52 400.01,406.29 400.94,406.01 401.87,405.66 402.80,405.25 403.73,404.77 404.66,404.19 405.59,403.52 406.52,402.73 407.45,401.81 408.38,400.75 409.31,399.53 410.24,398.13 411.17,396.55 412.10,394.76 413.03,392.76 413.96,390.52 414.89,388.04 415.82,385.30 416.75,382.31 417.68,379.06 418.61,375.54 419.54,371.77 420.47,367.75 421.40,363.49 422.33,359.03 423.26,354.37 424.19,349.55 425.12,344.61 426.05,339.59 426.98,334.52 427.91,329.47 428.84,324.48 429.77,319.61 430.70,314.91 431.63,310.44 432.56,306.26 433.49,302.43 434.42,298.98 435.35,295.98 436.28,293.47 437.21,291.47 438.14,290.02 439.07,289.14 440.00,288.85 440.93,289.14 441.86,290.02 442.79,291.47 443.72,293.47 444.65,295.98 445.58,298.98 446.51,302.43 447.44,306.26 448.37,310.44 449.30,314.91 450.23,319.61 451.16,324.48 452.09,329.47 453.02,334.52 453.95,339.59 454.88,344.61 455.81,349.55 456.74,354.37 457.67,359.03 458.60,363.49 459.53,367.75 460.46,371.77 461.39,375.54 462.32,379.06 463.25,382.31 464.18,385.30 465.11,388.04 466.04,390.52 466.97,392.76 467.90,394.76 468.83,396.55 469.76,398.13 470.69,399.53 471.62,400.75 472.55,401.81 473.48,402.73 474.41,403.52 475.34,404.19 476.27,404.77 477.20,405.25 478.13,405.66 479.06,406.01 479.99,406.29 480.92,406.52 481.85,406.72 482.78,406.88 483.71,407.00 484.64,407.11 485.57,407.19 486.50,407.26 486.5,407.5" fill="#ff3333" fill-opacity="0.6" stroke="none"/><polyline points="300.50,407.05 301.43,407.00 302.36,406.94 303.29,406.88 304.22,406.82 305.15,406.75 306.08,406.67 307.01,406.59 307.94,406.51 308.87,406.41 309.80,406.31 310.73,406.21 311.66,406.09 312.59,405.97 313.52,405.85 314.45,405.71 315.38,405.57 316.31,405.43 317.24,405.27 318.17,405.11 319.10,404.95 320.03,404.78 320.96,404.60 321.89,404.42 322.82,404.23 323.75,404.04 324.68,403.84 325.61,403.64 326.54,403.44 327.47,403.24 328.40,403.04 329.33,402.83 330.26,402.63 331.19,402.43 332.12,402.23 333.05,402.03 333.98,401.84 334.91,401.65 335.84,401.47 336.77,401.30 337.70,401.13 338.63,400.97 339.56,400.82 340.49,400.68 341.42,400.55 342.35,400.43 343.28,400.31 344.21,400.21 345.14,400.12 346.07,400.04 347.00,399.97 347.93,399.92 348.86,399.87 349.79,399.82 350.72,399.79 351.65,399.76 352.58,399.74 353.51,399.72 354.44,399.71 355.37,399.69 356.30,399.68 357.23,399.65 358.16,399.63 359.09,399.59 360.02,399.55 360.95,399.48 361.88,399.41 362.81,399.31 363.74,399.19 364.67,399.04 365.60,398.86 366.53,398.65 367.46,398.41 368.39,398.12 369.32,397.79 370.25,397.42 371.18,397.00 372.11,396.54 373.04,396.01 373.97,395.44 374.90,394.81 375.83,394.12 376.76,393.38 377.69,392.57 378.62,391.71 379.55,390.79 380.48,389.82 381.41,388.78 382.34,387.70 383.27,386.57 384.20,385.38 385.13,384.16 386.06,382.89 386.99,381.60 387.92,380.27 388.85,378.92 389.78,377.55 390.71,376.17 391.64,374.78 392.57,373.39 393.50,372.01 394.43,370.65 395.36,369.30 396.29,367.97 397.22,366.67 398.15,365.40 399.08,364.16 400.01,362.95 400.94,361.78 401.87,360.64 402.80,359.52 403.73,358.43 404.66,357.36 405.59,356.29 406.52,355.23 407.45,354.15 408.38,353.04 409.31,351.89 410.24,350.69 411.17,349.41 412.10,348.04 413.03,346.57 413.96,344.97 414.89,343.23 415.82,341.33 416.75,339.27 417.68,337.02 418.61,334.60 419.54,331.99 420.47,329.20 421.40,326.22 422.33,323.08 423.26,319.79 424.19,316.38 425.12,312.86 426.05,309.27 426.98,305.65 427.91,302.04 428.84,298.48 429.77,295.03 430.70,291.74 431.63,288.65 432.56,285.81 433.49,283.29 434.42,281.12 435.35,279.34 436.28,278.01 437.21,277.15 438.14,276.79 439.07,276.94 440.00,277.63 440.93,278.85 441.86,280.60 442.79,282.87 443.72,285.64 444.65,288.87 445.58,292.54 446.51,296.60 447.44,301.01 448.37,305.72 449.30,310.67 450.23,315.82 451.16,321.10 452.09,326.46 453.02,331.85 453.95,337.22 454.88,342.52 455.81,347.71 456.74,352.75 457.67,357.61 458.60,362.25 459.53,366.66 460.46,370.82 461.39,374.72 462.32,378.35 463.25,381.70 464.18,384.77 465.11,387.58 466.04,390.13 466.97,392.42 467.90,394.48 468.83,396.31 469.76,397.93 470.69,399.35 471.62,400.60 472.55,401.69 473.48,402.62 474.41,403.43 475.34,404.12 476.27,404.71 477.20,405.20 478.13,405.62 479.06,405.97 479.99,406.26 480.92,406.50 481.85,406.70 482.78,406.86 483.71,406.99 484.64,407.10 485.57,407.18 486.50,407.25" fill="none" stroke="#a4a4a4" stroke-width="2.3"/><g stroke="#000" stroke-width="1"><path d="M294.5,407.50 H300.5"/><path d="M297.0,390.00 H300.5"/><path d="M294.5,372.50 H300.5"/><path d="M297.0,355.00 H300.5"/><path d="M294.5,337.50 H300.5"/><path d="M297.0,320.00 H300.5"/><path d="M294.5,302.50 H300.5"/><path d="M297.0,285.00 H300.5"/><path d="M294.5,267.50 H300.5"/><path d="M297.0,250.00 H300.5"/><path d="M300.50,407.5 V414.5"/><path d="M319.10,407.5 V411.5"/><path d="M337.70,407.5 V414.5"/><path d="M356.30,407.5 V411.5"/><path d="M374.90,407.5 V414.5"/><path d="M393.50,407.5 V411.5"/><path d="M412.10,407.5 V414.5"/><path d="M430.70,407.5 V411.5"/><path d="M449.30,407.5 V414.5"/><path d="M467.90,407.5 V411.5"/><path d="M486.50,407.5 V414.5"/></g><text x="292.3" y="412.50" font-size="12" text-anchor="end" font-weight="normal" font-style="normal" fill="#000" >0</text><text x="292.3" y="377.50" font-size="12" text-anchor="end" font-weight="normal" font-style="normal" fill="#000" >0.01</text><text x="292.3" y="342.50" font-size="12" text-anchor="end" font-weight="normal" font-style="normal" fill="#000" >0.02</text><text x="292.3" y="307.50" font-size="12" text-anchor="end" font-weight="normal" font-style="normal" fill="#000" >0.03</text><text x="292.3" y="272.50" font-size="12" text-anchor="end" font-weight="normal" font-style="normal" fill="#000" >0.04</text><text x="300.50" y="426.8" font-size="12" text-anchor="middle" font-weight="normal" font-style="normal" fill="#000" >0</text><text x="337.70" y="426.8" font-size="12" text-anchor="middle" font-weight="normal" font-style="normal" fill="#000" >0.2</text><text x="374.90" y="426.8" font-size="12" text-anchor="middle" font-weight="normal" font-style="normal" fill="#000" >0.4</text><text x="412.10" y="426.8" font-size="12" text-anchor="middle" font-weight="normal" font-style="normal" fill="#000" >0.6</text><text x="449.30" y="426.8" font-size="12" text-anchor="middle" font-weight="normal" font-style="normal" fill="#000" >0.8</text><text x="486.50" y="426.8" font-size="12" text-anchor="middle" font-weight="normal" font-style="normal" fill="#000" >1</text><text x="399" y="443.8" font-size="12.7" text-anchor="middle" font-weight="normal" font-style="normal" fill="#000" >FRET efficiency</text><text x="0" y="0" font-size="12.7" text-anchor="middle" font-weight="normal" font-style="normal" fill="#000" transform="translate(263.4,331.7) rotate(-90)">probability</text><text x="283" y="244.2" font-size="11.55" font-weight="bold">+200 nM Rpn13<tspan font-size="7.1" dy="-4.3">NTD</tspan><tspan dy="4.3">, +150 pM Rpn2</tspan><tspan font-size="7.1" dy="-4.3">CTD</tspan><tspan dy="4.3">-Ub</tspan></text><text x="305.6" y="269" font-size="12.5" fill="#2a2af0"><tspan font-style="italic">P</tspan><tspan font-size="7.9">low</tspan>=6.0 ± 0.3%</text><text x="305.6" y="285.6" font-size="12.5" fill="#50eef8"><tspan font-style="italic">P</tspan><tspan font-size="7.9">medium</tspan>=35.0 ± 0.8%</text><text x="305.6" y="301.9" font-size="12.5" fill="#ff2424"><tspan font-style="italic">P</tspan><tspan font-size="7.9">high</tspan>=59.0 ± 1.0%</text><rect x="300.5" y="488.5" width="186.0" height="158.0" fill="none" stroke="#000" stroke-width="1"/><g stroke="#333" stroke-width="0.8" fill="#fff"><rect x="302.82" y="645.45" width="4.65" height="1.05"/><rect x="307.48" y="645.45" width="4.65" height="1.05"/><rect x="312.12" y="645.45" width="4.65" height="1.05"/><rect x="316.77" y="645.10" width="4.65" height="1.40"/><rect x="321.43" y="641.46" width="4.65" height="5.04"/><rect x="326.07" y="643.35" width="4.65" height="3.15"/><rect x="330.73" y="643.35" width="4.65" height="3.15"/><rect x="335.38" y="643.00" width="4.65" height="3.50"/><rect x="340.02" y="643.00" width="4.65" height="3.50"/><rect x="344.68" y="643.00" width="4.65" height="3.50"/><rect x="349.32" y="643.00" width="4.65" height="3.50"/><rect x="353.98" y="638.45" width="4.65" height="8.05"/><rect x="358.62" y="639.85" width="4.65" height="6.65"/><rect x="363.27" y="637.40" width="4.65" height="9.10"/><rect x="367.93" y="631.10" width="4.65" height="15.40"/><rect x="372.57" y="634.25" width="4.65" height="12.25"/><rect x="377.23" y="626.90" width="4.65" height="19.60"/><rect x="381.88" y="619.90" width="4.65" height="26.60"/><rect x="386.52" y="614.30" width="4.65" height="32.20"/><rect x="391.18" y="604.50" width="4.65" height="42.00"/><rect x="395.83" y="600.30" width="4.65" height="46.20"/><rect x="400.48" y="588.75" width="4.65" height="57.75"/><rect x="405.12" y="574.75" width="4.65" height="71.75"/><rect x="409.78" y="555.50" width="4.65" height="91.00"/><rect x="414.43" y="552.70" width="4.65" height="93.80"/><rect x="419.08" y="531.35" width="4.65" height="115.15"/><rect x="423.73" y="511.40" width="4.65" height="135.10"/><rect x="428.38" y="537.30" width="4.65" height="109.20"/><rect x="433.03" y="511.40" width="4.65" height="135.10"/><rect x="437.68" y="537.65" width="4.65" height="108.85"/><rect x="442.33" y="548.50" width="4.65" height="98.00"/><rect x="446.98" y="578.60" width="4.65" height="67.90"/><rect x="451.62" y="608.35" width="4.65" height="38.15"/><rect x="456.28" y="626.90" width="4.65" height="19.60"/><rect x="460.93" y="637.05" width="4.65" height="9.45"/><rect x="465.58" y="643.70" width="4.65" height="2.80"/><rect x="470.23" y="645.45" width="4.65" height="1.05"/></g><polygon points="300.5,646.5 300.50,646.03 301.43,645.98 302.36,645.92 303.29,645.86 304.22,645.79 305.15,645.72 306.08,645.64 307.01,645.55 307.94,645.46 308.87,645.36 309.80,645.26 310.73,645.15 311.66,645.04 312.59,644.92 313.52,644.80 314.45,644.67 315.38,644.53 316.31,644.39 317.24,644.24 318.17,644.10 319.10,643.94 320.03,643.79 320.96,643.63 321.89,643.47 322.82,643.32 323.75,643.16 324.68,643.00 325.61,642.84 326.54,642.69 327.47,642.54 328.40,642.39 329.33,642.25 330.26,642.11 331.19,641.99 332.12,641.87 333.05,641.76 333.98,641.65 334.91,641.56 335.84,641.48 336.77,641.41 337.70,641.35 338.63,641.31 339.56,641.28 340.49,641.26 341.42,641.25 342.35,641.26 343.28,641.28 344.21,641.31 345.14,641.35 346.07,641.41 347.00,641.48 347.93,641.56 348.86,641.65 349.79,641.76 350.72,641.87 351.65,641.99 352.58,642.11 353.51,642.25 354.44,642.39 355.37,642.54 356.30,642.69 357.23,642.84 358.16,643.00 359.09,643.16 360.02,643.32 360.95,643.47 361.88,643.63 362.81,643.79 363.74,643.94 364.67,644.10 365.60,644.24 366.53,644.39 367.46,644.53 368.39,644.67 369.32,644.80 370.25,644.92 371.18,645.04 372.11,645.15 373.04,645.26 373.97,645.36 374.90,645.46 375.83,645.55 376.76,645.64 377.69,645.72 378.62,645.79 379.55,645.86 380.48,645.92 381.41,645.98 382.34,646.03 383.27,646.08 384.20,646.13 385.13,646.17 386.06,646.21 386.99,646.24 387.92,646.27 388.85,646.30 389.78,646.32 390.71,646.34 391.64,646.36 392.57,646.38 393.50,646.40 394.43,646.41 395.36,646.42 396.29,646.43 397.22,646.44 398.15,646.45 399.08,646.46 400.01,646.46 400.94,646.47 401.87,646.47 402.80,646.48 403.73,646.48 404.66,646.48 405.59,646.49 406.52,646.49 407.45,646.49 408.38,646.49 409.31,646.49 410.24,646.49 411.17,646.50 412.10,646.50 413.03,646.50 413.96,646.50 414.89,646.50 415.82,646.50 416.75,646.50 417.68,646.50 418.61,646.50 419.54,646.50 420.47,646.50 421.40,646.50 422.33,646.50 423.26,646.50 424.19,646.50 425.12,646.50 426.05,646.50 426.98,646.50 427.91,646.50 428.84,646.50 429.77,646.50 430.70,646.50 431.63,646.50 432.56,646.50 433.49,646.50 434.42,646.50 435.35,646.50 436.28,646.50 437.21,646.50 438.14,646.50 439.07,646.50 440.00,646.50 440.93,646.50 441.86,646.50 442.79,646.50 443.72,646.50 444.65,646.50 445.58,646.50 446.51,646.50 447.44,646.50 448.37,646.50 449.30,646.50 450.23,646.50 451.16,646.50 452.09,646.50 453.02,646.50 453.95,646.50 454.88,646.50 455.81,646.50 456.74,646.50 457.67,646.50 458.60,646.50 459.53,646.50 460.46,646.50 461.39,646.50 462.32,646.50 463.25,646.50 464.18,646.50 465.11,646.50 466.04,646.50 466.97,646.50 467.90,646.50 468.83,646.50 469.76,646.50 470.69,646.50 471.62,646.50 472.55,646.50 473.48,646.50 474.41,646.50 475.34,646.50 476.27,646.50 477.20,646.50 478.13,646.50 479.06,646.50 479.99,646.50 480.92,646.50 481.85,646.50 482.78,646.50 483.71,646.50 484.64,646.50 485.57,646.50 486.50,646.50 486.5,646.5" fill="#3333ff" fill-opacity="0.6" stroke="none"/><polygon points="300.5,646.5 300.50,646.50 301.43,646.50 302.36,646.50 303.29,646.50 304.22,646.50 305.15,646.50 306.08,646.50 307.01,646.50 307.94,646.50 308.87,646.50 309.80,646.50 310.73,646.50 311.66,646.50 312.59,646.50 313.52,646.50 314.45,646.50 315.38,646.50 316.31,646.50 317.24,646.50 318.17,646.50 319.10,646.50 320.03,646.50 320.96,646.50 321.89,646.50 322.82,646.50 323.75,646.49 324.68,646.49 325.61,646.49 326.54,646.49 327.47,646.49 328.40,646.49 329.33,646.48 330.26,646.48 331.19,646.47 332.12,646.47 333.05,646.46 333.98,646.46 334.91,646.45 335.84,646.44 336.77,646.43 337.70,646.41 338.63,646.39 339.56,646.38 340.49,646.35 341.42,646.33 342.35,646.30 343.28,646.26 344.21,646.22 345.14,646.18 346.07,646.12 347.00,646.06 347.93,645.99 348.86,645.91 349.79,645.82 350.72,645.72 351.65,645.60 352.58,645.47 353.51,645.32 354.44,645.16 355.37,644.97 356.30,644.76 357.23,644.53 358.16,644.28 359.09,643.99 360.02,643.68 360.95,643.33 361.88,642.95 362.81,642.53 363.74,642.08 364.67,641.58 365.60,641.03 366.53,640.45 367.46,639.81 368.39,639.12 369.32,638.38 370.25,637.59 371.18,636.74 372.11,635.84 373.04,634.87 373.97,633.85 374.90,632.78 375.83,631.64 376.76,630.44 377.69,629.19 378.62,627.88 379.55,626.52 380.48,625.11 381.41,623.66 382.34,622.15 383.27,620.61 384.20,619.03 385.13,617.42 386.06,615.79 386.99,614.14 387.92,612.47 388.85,610.81 389.78,609.14 390.71,607.49 391.64,605.85 392.57,604.25 393.50,602.67 394.43,601.15 395.36,599.67 396.29,598.26 397.22,596.92 398.15,595.66 399.08,594.48 400.01,593.40 400.94,592.41 401.87,591.53 402.80,590.77 403.73,590.12 404.66,589.59 405.59,589.19 406.52,588.92 407.45,588.77 408.38,588.76 409.31,588.88 410.24,589.13 411.17,589.50 412.10,590.00 413.03,590.63 413.96,591.37 414.89,592.23 415.82,593.19 416.75,594.26 417.68,595.41 418.61,596.66 419.54,597.99 420.47,599.39 421.40,600.85 422.33,602.37 423.26,603.93 424.19,605.53 425.12,607.16 426.05,608.81 426.98,610.47 427.91,612.14 428.84,613.80 429.77,615.46 430.70,617.10 431.63,618.71 432.56,620.30 433.49,621.85 434.42,623.36 435.35,624.83 436.28,626.25 437.21,627.62 438.14,628.93 439.07,630.20 440.00,631.40 440.93,632.55 441.86,633.64 442.79,634.67 443.72,635.65 444.65,636.56 445.58,637.42 446.51,638.23 447.44,638.98 448.37,639.68 449.30,640.32 450.23,640.92 451.16,641.47 452.09,641.98 453.02,642.44 453.95,642.87 454.88,643.26 455.81,643.61 456.74,643.93 457.67,644.22 458.60,644.48 459.53,644.72 460.46,644.93 461.39,645.12 462.32,645.29 463.25,645.44 464.18,645.58 465.11,645.70 466.04,645.80 466.97,645.89 467.90,645.98 468.83,646.05 469.76,646.11 470.69,646.17 471.62,646.21 472.55,646.25 473.48,646.29 474.41,646.32 475.34,646.35 476.27,646.37 477.20,646.39 478.13,646.41 479.06,646.42 479.99,646.44 480.92,646.45 481.85,646.45 482.78,646.46 483.71,646.47 484.64,646.47 485.57,646.48 486.50,646.48 486.5,646.5" fill="#33ffff" fill-opacity="0.6" stroke="none"/><polygon points="300.5,646.5 300.50,646.50 301.43,646.50 302.36,646.50 303.29,646.50 304.22,646.50 305.15,646.50 306.08,646.50 307.01,646.50 307.94,646.50 308.87,646.50 309.80,646.50 310.73,646.50 311.66,646.50 312.59,646.50 313.52,646.50 314.45,646.50 315.38,646.50 316.31,646.50 317.24,646.50 318.17,646.50 319.10,646.50 320.03,646.50 320.96,646.50 321.89,646.50 322.82,646.50 323.75,646.50 324.68,646.50 325.61,646.50 326.54,646.50 327.47,646.50 328.40,646.50 329.33,646.50 330.26,646.50 331.19,646.50 332.12,646.50 333.05,646.50 333.98,646.50 334.91,646.50 335.84,646.50 336.77,646.50 337.70,646.50 338.63,646.50 339.56,646.50 340.49,646.50 341.42,646.50 342.35,646.50 343.28,646.50 344.21,646.50 345.14,646.50 346.07,646.50 347.00,646.50 347.93,646.50 348.86,646.50 349.79,646.50 350.72,646.50 351.65,646.50 352.58,646.50 353.51,646.50 354.44,646.50 355.37,646.50 356.30,646.50 357.23,646.50 358.16,646.50 359.09,646.50 360.02,646.50 360.95,646.50 361.88,646.50 362.81,646.50 363.74,646.50 364.67,646.50 365.60,646.50 366.53,646.50 367.46,646.50 368.39,646.50 369.32,646.50 370.25,646.50 371.18,646.50 372.11,646.50 373.04,646.50 373.97,646.50 374.90,646.50 375.83,646.50 376.76,646.50 377.69,646.49 378.62,646.49 379.55,646.49 380.48,646.49 381.41,646.48 382.34,646.48 383.27,646.47 384.20,646.46 385.13,646.45 386.06,646.43 386.99,646.41 387.92,646.38 388.85,646.35 389.78,646.31 390.71,646.26 391.64,646.19 392.57,646.11 393.50,646.00 394.43,645.88 395.36,645.72 396.29,645.53 397.22,645.30 398.15,645.02 399.08,644.69 400.01,644.30 400.94,643.83 401.87,643.28 402.80,642.63 403.73,641.87 404.66,640.99 405.59,639.98 406.52,638.81 407.45,637.48 408.38,635.98 409.31,634.28 410.24,632.37 411.17,630.25 412.10,627.89 413.03,625.30 413.96,622.47 414.89,619.38 415.82,616.05 416.75,612.47 417.68,608.65 418.61,604.61 419.54,600.36 420.47,595.92 421.40,591.33 422.33,586.60 423.26,581.78 424.19,576.92 425.12,572.04 426.05,567.21 426.98,562.47 427.91,557.87 428.84,553.48 429.77,549.33 430.70,545.49 431.63,542.00 432.56,538.91 433.49,536.27 434.42,534.10 435.35,532.44 436.28,531.31 437.21,530.73 438.14,530.71 439.07,531.24 440.00,532.33 440.93,533.95 441.86,536.08 442.79,538.69 443.72,541.74 444.65,545.20 445.58,549.01 446.51,553.14 447.44,557.51 448.37,562.10 449.30,566.83 450.23,571.65 451.16,576.53 452.09,581.40 453.02,586.22 453.95,590.95 454.88,595.56 455.81,600.01 456.74,604.28 457.67,608.34 458.60,612.17 459.53,615.77 460.46,619.12 461.39,622.23 462.32,625.08 463.25,627.70 464.18,630.07 465.11,632.21 466.04,634.13 466.97,635.85 467.90,637.37 468.83,638.71 469.76,639.89 470.69,640.91 471.62,641.80 472.55,642.57 473.48,643.23 474.41,643.79 475.34,644.26 476.27,644.66 477.20,645.00 478.13,645.28 479.06,645.51 479.99,645.71 480.92,645.86 481.85,645.99 482.78,646.10 483.71,646.18 484.64,646.25 485.57,646.30 486.50,646.35 486.5,646.5" fill="#ff3333" fill-opacity="0.6" stroke="none"/><polyline points="300.50,646.03 301.43,645.98 302.36,645.92 303.29,645.86 304.22,645.79 305.15,645.72 306.08,645.64 307.01,645.55 307.94,645.46 308.87,645.36 309.80,645.26 310.73,645.15 311.66,645.04 312.59,644.92 313.52,644.80 314.45,644.66 315.38,644.53 316.31,644.39 317.24,644.24 318.17,644.09 319.10,643.94 320.03,643.79 320.96,643.63 321.89,643.47 322.82,643.31 323.75,643.15 324.68,642.99 325.61,642.83 326.54,642.68 327.47,642.53 328.40,642.38 329.33,642.23 330.26,642.09 331.19,641.96 332.12,641.84 333.05,641.72 333.98,641.61 334.91,641.51 335.84,641.42 336.77,641.34 337.70,641.27 338.63,641.20 339.56,641.15 340.49,641.11 341.42,641.08 342.35,641.05 343.28,641.04 344.21,641.03 345.14,641.03 346.07,641.03 347.00,641.04 347.93,641.05 348.86,641.07 349.79,641.08 350.72,641.09 351.65,641.09 352.58,641.09 353.51,641.07 354.44,641.05 355.37,641.01 356.30,640.95 357.23,640.88 358.16,640.78 359.09,640.65 360.02,640.49 360.95,640.31 361.88,640.08 362.81,639.82 363.74,639.52 364.67,639.17 365.60,638.78 366.53,638.33 367.46,637.84 368.39,637.29 369.32,636.68 370.25,636.01 371.18,635.28 372.11,634.49 373.04,633.64 373.97,632.72 374.90,631.73 375.83,630.69 376.76,629.58 377.69,628.40 378.62,627.17 379.55,625.87 380.48,624.52 381.41,623.12 382.34,621.66 383.27,620.16 384.20,618.62 385.13,617.04 386.06,615.43 386.99,613.79 387.92,612.13 388.85,610.45 389.78,608.77 390.71,607.09 391.64,605.40 392.57,603.73 393.50,602.07 394.43,600.43 395.36,598.82 396.29,597.23 397.22,595.66 398.15,594.13 399.08,592.63 400.01,591.16 400.94,589.71 401.87,588.28 402.80,586.87 403.73,585.47 404.66,584.07 405.59,582.65 406.52,581.22 407.45,579.75 408.38,578.23 409.31,576.65 410.24,574.99 411.17,573.24 412.10,571.39 413.03,569.43 413.96,567.33 414.89,565.11 415.82,562.74 416.75,560.22 417.68,557.57 418.61,554.77 419.54,551.85 420.47,548.81 421.40,545.68 422.33,542.47 423.26,539.21 424.19,535.95 425.12,532.70 426.05,529.52 426.98,526.44 427.91,523.51 428.84,520.78 429.77,518.29 430.70,516.09 431.63,514.21 432.56,512.71 433.49,511.61 434.42,510.96 435.35,510.76 436.28,511.06 437.21,511.85 438.14,513.14 439.07,514.94 440.00,517.23 440.93,520.00 441.86,523.22 442.79,526.86 443.72,530.89 444.65,535.26 445.58,539.94 446.51,544.86 447.44,549.99 448.37,555.27 449.30,560.65 450.23,566.07 451.16,571.50 452.09,576.88 453.02,582.16 453.95,587.32 454.88,592.32 455.81,597.12 456.74,601.71 457.67,606.06 458.60,610.16 459.53,613.99 460.46,617.56 461.39,620.85 462.32,623.88 463.25,626.64 464.18,629.14 465.11,631.41 466.04,633.43 466.97,635.24 467.90,636.85 468.83,638.26 469.76,639.50 470.69,640.58 471.62,641.52 472.55,642.32 473.48,643.02 474.41,643.61 475.34,644.11 476.27,644.54 477.20,644.89 478.13,645.19 479.06,645.44 479.99,645.64 480.92,645.81 481.85,645.95 482.78,646.06 483.71,646.15 484.64,646.22 485.57,646.28 486.50,646.33" fill="none" stroke="#a4a4a4" stroke-width="2.3"/><g stroke="#000" stroke-width="1"><path d="M294.5,646.50 H300.5"/><path d="M297.0,629.00 H300.5"/><path d="M294.5,611.50 H300.5"/><path d="M297.0,594.00 H300.5"/><path d="M294.5,576.50 H300.5"/><path d="M297.0,559.00 H300.5"/><path d="M294.5,541.50 H300.5"/><path d="M297.0,524.00 H300.5"/><path d="M294.5,506.50 H300.5"/><path d="M297.0,489.00 H300.5"/><path d="M300.50,646.5 V653.5"/><path d="M319.10,646.5 V650.5"/><path d="M337.70,646.5 V653.5"/><path d="M356.30,646.5 V650.5"/><path d="M374.90,646.5 V653.5"/><path d="M393.50,646.5 V650.5"/><path d="M412.10,646.5 V653.5"/><path d="M430.70,646.5 V650.5"/><path d="M449.30,646.5 V653.5"/><path d="M467.90,646.5 V650.5"/><path d="M486.50,646.5 V653.5"/></g><text x="290.7" y="651.50" font-size="12" text-anchor="end" font-weight="normal" font-style="normal" fill="#000" >0</text><text x="290.7" y="616.50" font-size="12" text-anchor="end" font-weight="normal" font-style="normal" fill="#000" >0.01</text><text x="290.7" y="581.50" font-size="12" text-anchor="end" font-weight="normal" font-style="normal" fill="#000" >0.02</text><text x="290.7" y="546.50" font-size="12" text-anchor="end" font-weight="normal" font-style="normal" fill="#000" >0.03</text><text x="290.7" y="511.50" font-size="12" text-anchor="end" font-weight="normal" font-style="normal" fill="#000" >0.04</text><text x="300.50" y="665.8" font-size="12" text-anchor="middle" font-weight="normal" font-style="normal" fill="#000" >0</text><text x="337.70" y="665.8" font-size="12" text-anchor="middle" font-weight="normal" font-style="normal" fill="#000" >0.2</text><text x="374.90" y="665.8" font-size="12" text-anchor="middle" font-weight="normal" font-style="normal" fill="#000" >0.4</text><text x="412.10" y="665.8" font-size="12" text-anchor="middle" font-weight="normal" font-style="normal" fill="#000" >0.6</text><text x="449.30" y="665.8" font-size="12" text-anchor="middle" font-weight="normal" font-style="normal" fill="#000" >0.8</text><text x="486.50" y="665.8" font-size="12" text-anchor="middle" font-weight="normal" font-style="normal" fill="#000" >1</text><text x="399" y="682.8" font-size="12.7" text-anchor="middle" font-weight="normal" font-style="normal" fill="#000" >FRET efficiency</text><text x="0" y="0" font-size="12.7" text-anchor="middle" font-weight="normal" font-style="normal" fill="#000" transform="translate(263.4,570.7) rotate(-90)">probability</text><text x="289.8" y="481.8" font-size="11.55" font-weight="bold">+200 nM Rpn13, +150 pM Rpn2<tspan font-size="7.1" dy="-4.3">CTD</tspan><tspan dy="4.3">-Ub</tspan></text><text x="308.2" y="504.6" font-size="12.5" fill="#2a2af0"><tspan font-style="italic">P</tspan><tspan font-size="7.9">low</tspan>=3.4 ± 0.1%</text><text x="308.2" y="520.6" font-size="12.5" fill="#50eef8"><tspan font-style="italic">P</tspan><tspan font-size="7.9">medium</tspan>=41.1 ± 0.9%</text><text x="308.2" y="537.4" font-size="12.5" fill="#ff2424"><tspan font-style="italic">P</tspan><tspan font-size="7.9">high</tspan>=55.5 ± 0.9%</text>
</svg>
</body></html>
